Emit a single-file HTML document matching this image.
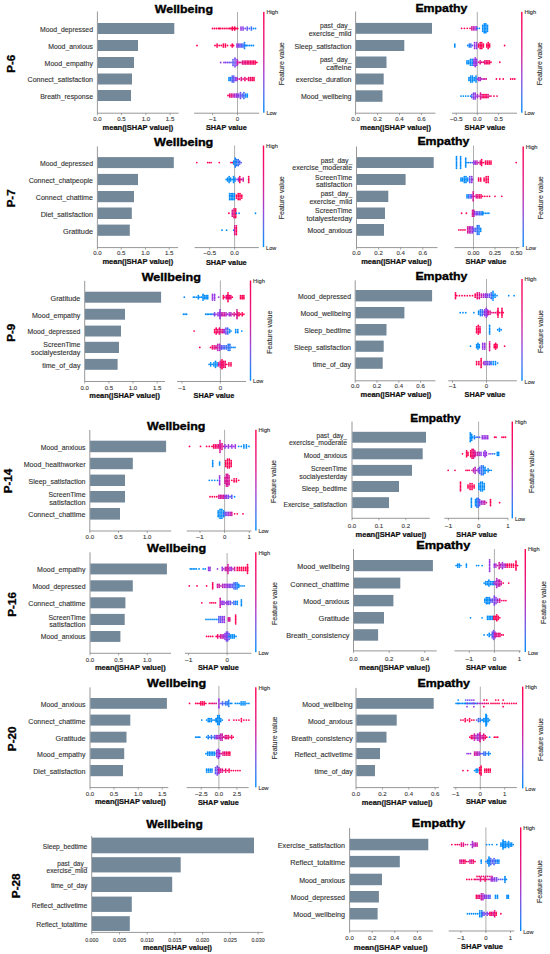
<!DOCTYPE html>
<html><head><meta charset="utf-8"><style>
html,body{margin:0;padding:0;background:#fff;}
svg{display:block;font-family:"Liberation Sans",sans-serif;}
</style></head><body>
<svg width="550" height="954" viewBox="0 0 550 954">
<rect width="550" height="954" fill="#fff"/>
<line x1="97.40" y1="11.50" x2="97.40" y2="113.20" stroke="#6b6b6b" stroke-width="0.7"/>
<line x1="97.40" y1="113.20" x2="178.60" y2="113.20" stroke="#6b6b6b" stroke-width="0.7"/>
<rect x="97.70" y="23.00" width="76.60" height="11.00" fill="#738899"/>
<rect x="97.70" y="40.00" width="40.30" height="11.00" fill="#738899"/>
<rect x="97.70" y="57.00" width="36.30" height="11.00" fill="#738899"/>
<rect x="97.70" y="73.50" width="34.30" height="11.00" fill="#738899"/>
<rect x="97.70" y="90.00" width="33.30" height="11.00" fill="#738899"/>
<text x="40.06" y="31.90" font-size="6.68" stroke="#333333" stroke-width="0.12" fill="#333333" textLength="52.94" lengthAdjust="spacingAndGlyphs">Mood_depressed</text>
<text x="48.24" y="48.90" font-size="6.68" stroke="#333333" stroke-width="0.12" fill="#333333" textLength="44.76" lengthAdjust="spacingAndGlyphs">Mood_anxious</text>
<text x="44.64" y="65.90" font-size="6.68" stroke="#333333" stroke-width="0.12" fill="#333333" textLength="48.36" lengthAdjust="spacingAndGlyphs">Mood_empathy</text>
<text x="27.55" y="82.40" font-size="6.68" stroke="#333333" stroke-width="0.12" fill="#333333" textLength="65.45" lengthAdjust="spacingAndGlyphs">Connect_satisfaction</text>
<text x="40.26" y="98.90" font-size="6.68" stroke="#333333" stroke-width="0.12" fill="#333333" textLength="52.74" lengthAdjust="spacingAndGlyphs">Breath_response</text>
<line x1="97.40" y1="113.20" x2="97.40" y2="115.20" stroke="#6b6b6b" stroke-width="0.6"/>
<text x="93.19" y="120.62" font-size="5.62" stroke="#3a3a3a" stroke-width="0.1" fill="#3a3a3a" textLength="8.43" lengthAdjust="spacingAndGlyphs">0.0</text>
<line x1="121.40" y1="113.20" x2="121.40" y2="115.20" stroke="#6b6b6b" stroke-width="0.6"/>
<text x="117.19" y="120.62" font-size="5.62" stroke="#3a3a3a" stroke-width="0.1" fill="#3a3a3a" textLength="8.43" lengthAdjust="spacingAndGlyphs">0.5</text>
<line x1="145.90" y1="113.20" x2="145.90" y2="115.20" stroke="#6b6b6b" stroke-width="0.6"/>
<text x="141.69" y="120.62" font-size="5.62" stroke="#3a3a3a" stroke-width="0.1" fill="#3a3a3a" textLength="8.43" lengthAdjust="spacingAndGlyphs">1.0</text>
<line x1="170.10" y1="113.20" x2="170.10" y2="115.20" stroke="#6b6b6b" stroke-width="0.6"/>
<text x="165.89" y="120.62" font-size="5.62" stroke="#3a3a3a" stroke-width="0.1" fill="#3a3a3a" textLength="8.43" lengthAdjust="spacingAndGlyphs">1.5</text>
<text x="102.55" y="130.10" font-size="6.68" font-weight="bold" stroke="#111" stroke-width="0.2" fill="#111" textLength="70.71" lengthAdjust="spacingAndGlyphs">mean(|SHAP value|)</text>
<text x="154.80" y="12.53" font-size="10.92" font-weight="bold" stroke="#000" stroke-width="0.35" fill="#000" textLength="58.20" lengthAdjust="spacingAndGlyphs">Wellbeing</text>
<text transform="translate(15.24,63.70) rotate(-90)" x="-8.95" y="0" font-size="10.39" font-weight="bold" stroke="#000" stroke-width="0.3" fill="#000" textLength="17.90" lengthAdjust="spacingAndGlyphs">P-6</text>
<line x1="237.50" y1="11.90" x2="237.50" y2="113.20" stroke="#999999" stroke-width="0.8"/>
<line x1="194.10" y1="113.20" x2="259.20" y2="113.20" stroke="#6b6b6b" stroke-width="0.7"/>
<line x1="212.60" y1="113.20" x2="212.60" y2="115.20" stroke="#6b6b6b" stroke-width="0.6"/>
<text x="208.69" y="120.72" font-size="5.62" stroke="#3a3a3a" stroke-width="0.1" fill="#3a3a3a" textLength="7.81" lengthAdjust="spacingAndGlyphs">−1</text>
<line x1="237.50" y1="113.20" x2="237.50" y2="115.20" stroke="#6b6b6b" stroke-width="0.6"/>
<text x="235.81" y="120.72" font-size="5.62" stroke="#3a3a3a" stroke-width="0.1" fill="#3a3a3a" textLength="3.37" lengthAdjust="spacingAndGlyphs">0</text>
<text x="206.01" y="129.70" font-size="6.68" font-weight="bold" stroke="#111" stroke-width="0.2" fill="#111" textLength="40.77" lengthAdjust="spacingAndGlyphs">SHAP value</text>
<circle cx="212.50" cy="28.50" r="0.88" fill="#ff0052"/>
<circle cx="214.44" cy="28.50" r="0.88" fill="#ff0052"/>
<circle cx="216.38" cy="28.50" r="0.88" fill="#ff0052"/>
<circle cx="218.32" cy="28.50" r="0.88" fill="#ff0052"/>
<circle cx="220.25" cy="28.50" r="0.88" fill="#ff0052"/>
<circle cx="222.19" cy="28.50" r="0.88" fill="#ff0052"/>
<circle cx="224.13" cy="28.50" r="0.88" fill="#ff0052"/>
<circle cx="226.07" cy="28.50" r="0.88" fill="#ff0052"/>
<circle cx="228.01" cy="28.50" r="0.88" fill="#ff0052"/>
<circle cx="229.95" cy="28.50" r="0.88" fill="#ff0052"/>
<circle cx="231.88" cy="28.50" r="0.88" fill="#ff0052"/>
<circle cx="233.82" cy="28.50" r="0.88" fill="#ff0052"/>
<circle cx="235.76" cy="28.50" r="0.88" fill="#ff0052"/>
<circle cx="237.70" cy="28.50" r="0.88" fill="#ff0052"/>
<circle cx="219.30" cy="28.50" r="0.88" fill="#ff0052"/>
<circle cx="230.00" cy="28.50" r="0.88" fill="#ff0052"/>
<circle cx="232.33" cy="27.05" r="0.88" fill="#ff0052"/>
<circle cx="232.33" cy="28.50" r="0.88" fill="#ff0052"/>
<circle cx="232.33" cy="29.95" r="0.88" fill="#ff0052"/>
<circle cx="234.67" cy="27.05" r="0.88" fill="#ff0052"/>
<circle cx="234.67" cy="28.50" r="0.88" fill="#ff0052"/>
<circle cx="234.67" cy="29.95" r="0.88" fill="#ff0052"/>
<circle cx="237.00" cy="28.50" r="0.88" fill="#ff0052"/>
<circle cx="235.00" cy="28.50" r="0.88" fill="#ff0052"/>
<circle cx="241.00" cy="27.05" r="0.88" fill="#9634e2"/>
<circle cx="241.00" cy="28.50" r="0.88" fill="#9634e2"/>
<circle cx="241.00" cy="29.95" r="0.88" fill="#9634e2"/>
<circle cx="243.07" cy="27.05" r="0.88" fill="#853fe7"/>
<circle cx="243.07" cy="28.50" r="0.88" fill="#853fe7"/>
<circle cx="243.07" cy="29.95" r="0.88" fill="#853fe7"/>
<circle cx="245.14" cy="28.50" r="0.88" fill="#744aed"/>
<circle cx="247.21" cy="27.05" r="0.88" fill="#6355f2"/>
<circle cx="247.21" cy="28.50" r="0.88" fill="#6355f2"/>
<circle cx="247.21" cy="29.95" r="0.88" fill="#6355f2"/>
<circle cx="249.29" cy="28.50" r="0.88" fill="#4d61f6"/>
<circle cx="251.36" cy="27.05" r="0.88" fill="#336ff8"/>
<circle cx="251.36" cy="28.50" r="0.88" fill="#336ff8"/>
<circle cx="251.36" cy="29.95" r="0.88" fill="#336ff8"/>
<circle cx="253.43" cy="28.50" r="0.88" fill="#1a7df9"/>
<circle cx="255.50" cy="28.50" r="0.88" fill="#008bfb"/>
<circle cx="197.00" cy="45.50" r="0.88" fill="#ff0052"/>
<circle cx="215.00" cy="45.50" r="0.88" fill="#ff0052"/>
<circle cx="217.08" cy="44.05" r="0.88" fill="#ff0052"/>
<circle cx="217.08" cy="45.50" r="0.88" fill="#ff0052"/>
<circle cx="217.08" cy="46.95" r="0.88" fill="#ff0052"/>
<circle cx="219.17" cy="45.50" r="0.88" fill="#ff0052"/>
<circle cx="221.25" cy="45.50" r="0.88" fill="#ff0052"/>
<circle cx="223.33" cy="44.05" r="0.88" fill="#ff0052"/>
<circle cx="223.33" cy="45.50" r="0.88" fill="#ff0052"/>
<circle cx="223.33" cy="46.95" r="0.88" fill="#ff0052"/>
<circle cx="225.42" cy="44.05" r="0.88" fill="#ff0052"/>
<circle cx="225.42" cy="45.50" r="0.88" fill="#ff0052"/>
<circle cx="225.42" cy="46.95" r="0.88" fill="#ff0052"/>
<circle cx="227.50" cy="45.50" r="0.88" fill="#ff0052"/>
<circle cx="231.00" cy="45.50" r="0.88" fill="#ff0052"/>
<circle cx="232.30" cy="44.05" r="0.88" fill="#ff0052"/>
<circle cx="232.30" cy="45.50" r="0.88" fill="#ff0052"/>
<circle cx="232.30" cy="46.95" r="0.88" fill="#ff0052"/>
<circle cx="233.60" cy="45.50" r="0.88" fill="#ff0052"/>
<circle cx="237.00" cy="44.05" r="0.88" fill="#9634e2"/>
<circle cx="237.00" cy="45.50" r="0.88" fill="#9634e2"/>
<circle cx="237.00" cy="46.95" r="0.88" fill="#9634e2"/>
<circle cx="238.50" cy="44.05" r="0.88" fill="#8241e8"/>
<circle cx="238.50" cy="45.50" r="0.88" fill="#8241e8"/>
<circle cx="238.50" cy="46.95" r="0.88" fill="#8241e8"/>
<circle cx="240.00" cy="44.05" r="0.88" fill="#6e4def"/>
<circle cx="240.00" cy="45.50" r="0.88" fill="#6e4def"/>
<circle cx="240.00" cy="46.95" r="0.88" fill="#6e4def"/>
<circle cx="241.50" cy="44.05" r="0.88" fill="#5a5af5"/>
<circle cx="241.50" cy="45.50" r="0.88" fill="#5a5af5"/>
<circle cx="241.50" cy="46.95" r="0.88" fill="#5a5af5"/>
<circle cx="243.00" cy="44.05" r="0.88" fill="#3c6af7"/>
<circle cx="243.00" cy="45.50" r="0.88" fill="#3c6af7"/>
<circle cx="243.00" cy="46.95" r="0.88" fill="#3c6af7"/>
<circle cx="244.50" cy="42.60" r="0.88" fill="#1e7bf9"/>
<circle cx="244.50" cy="44.05" r="0.88" fill="#1e7bf9"/>
<circle cx="244.50" cy="45.50" r="0.88" fill="#1e7bf9"/>
<circle cx="244.50" cy="46.95" r="0.88" fill="#1e7bf9"/>
<circle cx="244.50" cy="48.40" r="0.88" fill="#1e7bf9"/>
<circle cx="246.00" cy="45.50" r="0.88" fill="#008bfb"/>
<circle cx="246.00" cy="45.50" r="0.88" fill="#008bfb"/>
<circle cx="247.85" cy="45.50" r="0.88" fill="#008bfb"/>
<circle cx="249.70" cy="45.50" r="0.88" fill="#008bfb"/>
<circle cx="251.55" cy="45.50" r="0.88" fill="#008bfb"/>
<circle cx="253.40" cy="45.50" r="0.88" fill="#008bfb"/>
<circle cx="220.70" cy="62.50" r="0.88" fill="#9634e2"/>
<circle cx="224.00" cy="62.50" r="0.88" fill="#9634e2"/>
<circle cx="225.75" cy="62.50" r="0.88" fill="#873ee7"/>
<circle cx="227.50" cy="62.50" r="0.88" fill="#7847ec"/>
<circle cx="229.25" cy="62.50" r="0.88" fill="#6950f0"/>
<circle cx="231.00" cy="62.50" r="0.88" fill="#5a5af5"/>
<circle cx="233.00" cy="59.60" r="0.88" fill="#5a5af5"/>
<circle cx="233.00" cy="61.05" r="0.88" fill="#5a5af5"/>
<circle cx="233.00" cy="62.50" r="0.88" fill="#5a5af5"/>
<circle cx="233.00" cy="63.95" r="0.88" fill="#5a5af5"/>
<circle cx="233.00" cy="65.40" r="0.88" fill="#5a5af5"/>
<circle cx="235.00" cy="58.15" r="0.88" fill="#7847ec"/>
<circle cx="235.00" cy="59.60" r="0.88" fill="#7847ec"/>
<circle cx="235.00" cy="61.05" r="0.88" fill="#7847ec"/>
<circle cx="235.00" cy="62.50" r="0.88" fill="#7847ec"/>
<circle cx="235.00" cy="63.95" r="0.88" fill="#7847ec"/>
<circle cx="235.00" cy="65.40" r="0.88" fill="#7847ec"/>
<circle cx="235.00" cy="66.85" r="0.88" fill="#7847ec"/>
<circle cx="237.00" cy="59.60" r="0.88" fill="#9634e2"/>
<circle cx="237.00" cy="61.05" r="0.88" fill="#9634e2"/>
<circle cx="237.00" cy="62.50" r="0.88" fill="#9634e2"/>
<circle cx="237.00" cy="63.95" r="0.88" fill="#9634e2"/>
<circle cx="237.00" cy="65.40" r="0.88" fill="#9634e2"/>
<circle cx="237.70" cy="61.05" r="0.88" fill="#d61696"/>
<circle cx="237.70" cy="62.50" r="0.88" fill="#d61696"/>
<circle cx="237.70" cy="63.95" r="0.88" fill="#d61696"/>
<circle cx="239.29" cy="62.50" r="0.88" fill="#d91490"/>
<circle cx="240.88" cy="62.50" r="0.88" fill="#dd128b"/>
<circle cx="242.47" cy="61.05" r="0.88" fill="#e01085"/>
<circle cx="242.47" cy="62.50" r="0.88" fill="#e01085"/>
<circle cx="242.47" cy="63.95" r="0.88" fill="#e01085"/>
<circle cx="244.07" cy="61.05" r="0.88" fill="#e40f7f"/>
<circle cx="244.07" cy="62.50" r="0.88" fill="#e40f7f"/>
<circle cx="244.07" cy="63.95" r="0.88" fill="#e40f7f"/>
<circle cx="245.66" cy="61.05" r="0.88" fill="#e70d7a"/>
<circle cx="245.66" cy="62.50" r="0.88" fill="#e70d7a"/>
<circle cx="245.66" cy="63.95" r="0.88" fill="#e70d7a"/>
<circle cx="247.25" cy="61.05" r="0.88" fill="#ea0b74"/>
<circle cx="247.25" cy="62.50" r="0.88" fill="#ea0b74"/>
<circle cx="247.25" cy="63.95" r="0.88" fill="#ea0b74"/>
<circle cx="248.84" cy="61.05" r="0.88" fill="#ee096e"/>
<circle cx="248.84" cy="62.50" r="0.88" fill="#ee096e"/>
<circle cx="248.84" cy="63.95" r="0.88" fill="#ee096e"/>
<circle cx="250.43" cy="61.05" r="0.88" fill="#f10769"/>
<circle cx="250.43" cy="62.50" r="0.88" fill="#f10769"/>
<circle cx="250.43" cy="63.95" r="0.88" fill="#f10769"/>
<circle cx="252.03" cy="61.05" r="0.88" fill="#f50663"/>
<circle cx="252.03" cy="62.50" r="0.88" fill="#f50663"/>
<circle cx="252.03" cy="63.95" r="0.88" fill="#f50663"/>
<circle cx="253.62" cy="61.05" r="0.88" fill="#f8045d"/>
<circle cx="253.62" cy="62.50" r="0.88" fill="#f8045d"/>
<circle cx="253.62" cy="63.95" r="0.88" fill="#f8045d"/>
<circle cx="255.21" cy="61.05" r="0.88" fill="#fc0258"/>
<circle cx="255.21" cy="62.50" r="0.88" fill="#fc0258"/>
<circle cx="255.21" cy="63.95" r="0.88" fill="#fc0258"/>
<circle cx="256.80" cy="62.50" r="0.88" fill="#ff0052"/>
<circle cx="229.00" cy="77.55" r="0.88" fill="#008bfb"/>
<circle cx="229.00" cy="79.00" r="0.88" fill="#008bfb"/>
<circle cx="229.00" cy="80.45" r="0.88" fill="#008bfb"/>
<circle cx="230.60" cy="77.55" r="0.88" fill="#2477f9"/>
<circle cx="230.60" cy="79.00" r="0.88" fill="#2477f9"/>
<circle cx="230.60" cy="80.45" r="0.88" fill="#2477f9"/>
<circle cx="232.20" cy="76.10" r="0.88" fill="#4864f6"/>
<circle cx="232.20" cy="77.55" r="0.88" fill="#4864f6"/>
<circle cx="232.20" cy="79.00" r="0.88" fill="#4864f6"/>
<circle cx="232.20" cy="80.45" r="0.88" fill="#4864f6"/>
<circle cx="232.20" cy="81.90" r="0.88" fill="#4864f6"/>
<circle cx="233.80" cy="76.10" r="0.88" fill="#6652f1"/>
<circle cx="233.80" cy="77.55" r="0.88" fill="#6652f1"/>
<circle cx="233.80" cy="79.00" r="0.88" fill="#6652f1"/>
<circle cx="233.80" cy="80.45" r="0.88" fill="#6652f1"/>
<circle cx="233.80" cy="81.90" r="0.88" fill="#6652f1"/>
<circle cx="235.40" cy="77.55" r="0.88" fill="#7e43ea"/>
<circle cx="235.40" cy="79.00" r="0.88" fill="#7e43ea"/>
<circle cx="235.40" cy="80.45" r="0.88" fill="#7e43ea"/>
<circle cx="237.00" cy="77.55" r="0.88" fill="#9634e2"/>
<circle cx="237.00" cy="79.00" r="0.88" fill="#9634e2"/>
<circle cx="237.00" cy="80.45" r="0.88" fill="#9634e2"/>
<circle cx="237.70" cy="79.00" r="0.88" fill="#d61696"/>
<circle cx="239.51" cy="79.00" r="0.88" fill="#db148e"/>
<circle cx="241.32" cy="77.55" r="0.88" fill="#df1187"/>
<circle cx="241.32" cy="79.00" r="0.88" fill="#df1187"/>
<circle cx="241.32" cy="80.45" r="0.88" fill="#df1187"/>
<circle cx="243.13" cy="79.00" r="0.88" fill="#e40f7f"/>
<circle cx="244.94" cy="77.55" r="0.88" fill="#e80c78"/>
<circle cx="244.94" cy="79.00" r="0.88" fill="#e80c78"/>
<circle cx="244.94" cy="80.45" r="0.88" fill="#e80c78"/>
<circle cx="246.76" cy="79.00" r="0.88" fill="#ed0a70"/>
<circle cx="248.57" cy="77.55" r="0.88" fill="#f10769"/>
<circle cx="248.57" cy="79.00" r="0.88" fill="#f10769"/>
<circle cx="248.57" cy="80.45" r="0.88" fill="#f10769"/>
<circle cx="250.38" cy="77.55" r="0.88" fill="#f60561"/>
<circle cx="250.38" cy="79.00" r="0.88" fill="#f60561"/>
<circle cx="250.38" cy="80.45" r="0.88" fill="#f60561"/>
<circle cx="252.19" cy="77.55" r="0.88" fill="#fa025a"/>
<circle cx="252.19" cy="79.00" r="0.88" fill="#fa025a"/>
<circle cx="252.19" cy="80.45" r="0.88" fill="#fa025a"/>
<circle cx="254.00" cy="77.55" r="0.88" fill="#ff0052"/>
<circle cx="254.00" cy="79.00" r="0.88" fill="#ff0052"/>
<circle cx="254.00" cy="80.45" r="0.88" fill="#ff0052"/>
<circle cx="228.00" cy="95.50" r="0.88" fill="#ff0052"/>
<circle cx="229.68" cy="94.05" r="0.88" fill="#ef096d"/>
<circle cx="229.68" cy="95.50" r="0.88" fill="#ef096d"/>
<circle cx="229.68" cy="96.95" r="0.88" fill="#ef096d"/>
<circle cx="231.36" cy="94.05" r="0.88" fill="#de1288"/>
<circle cx="231.36" cy="95.50" r="0.88" fill="#de1288"/>
<circle cx="231.36" cy="96.95" r="0.88" fill="#de1288"/>
<circle cx="233.04" cy="94.05" r="0.88" fill="#c91ca5"/>
<circle cx="233.04" cy="95.50" r="0.88" fill="#c91ca5"/>
<circle cx="233.04" cy="96.95" r="0.88" fill="#c91ca5"/>
<circle cx="234.72" cy="94.05" r="0.88" fill="#b028c4"/>
<circle cx="234.72" cy="95.50" r="0.88" fill="#b028c4"/>
<circle cx="234.72" cy="96.95" r="0.88" fill="#b028c4"/>
<circle cx="236.40" cy="94.05" r="0.88" fill="#9634e2"/>
<circle cx="236.40" cy="95.50" r="0.88" fill="#9634e2"/>
<circle cx="236.40" cy="96.95" r="0.88" fill="#9634e2"/>
<circle cx="237.00" cy="94.05" r="0.88" fill="#9634e2"/>
<circle cx="237.00" cy="95.50" r="0.88" fill="#9634e2"/>
<circle cx="237.00" cy="96.95" r="0.88" fill="#9634e2"/>
<circle cx="238.72" cy="94.05" r="0.88" fill="#8241e8"/>
<circle cx="238.72" cy="95.50" r="0.88" fill="#8241e8"/>
<circle cx="238.72" cy="96.95" r="0.88" fill="#8241e8"/>
<circle cx="240.43" cy="92.60" r="0.88" fill="#6e4def"/>
<circle cx="240.43" cy="94.05" r="0.88" fill="#6e4def"/>
<circle cx="240.43" cy="95.50" r="0.88" fill="#6e4def"/>
<circle cx="240.43" cy="96.95" r="0.88" fill="#6e4def"/>
<circle cx="240.43" cy="98.40" r="0.88" fill="#6e4def"/>
<circle cx="242.15" cy="94.05" r="0.88" fill="#5a5af5"/>
<circle cx="242.15" cy="95.50" r="0.88" fill="#5a5af5"/>
<circle cx="242.15" cy="96.95" r="0.88" fill="#5a5af5"/>
<circle cx="243.87" cy="92.60" r="0.88" fill="#3c6af7"/>
<circle cx="243.87" cy="94.05" r="0.88" fill="#3c6af7"/>
<circle cx="243.87" cy="95.50" r="0.88" fill="#3c6af7"/>
<circle cx="243.87" cy="96.95" r="0.88" fill="#3c6af7"/>
<circle cx="243.87" cy="98.40" r="0.88" fill="#3c6af7"/>
<circle cx="245.58" cy="94.05" r="0.88" fill="#1e7bf9"/>
<circle cx="245.58" cy="95.50" r="0.88" fill="#1e7bf9"/>
<circle cx="245.58" cy="96.95" r="0.88" fill="#1e7bf9"/>
<circle cx="247.30" cy="94.05" r="0.88" fill="#008bfb"/>
<circle cx="247.30" cy="95.50" r="0.88" fill="#008bfb"/>
<circle cx="247.30" cy="96.95" r="0.88" fill="#008bfb"/>
<defs><linearGradient id="g256" x1="0" y1="0" x2="0" y2="1"><stop offset="0" stop-color="#ff0052"/><stop offset="0.4" stop-color="#e01e8e"/><stop offset="0.65" stop-color="#9a48d8"/><stop offset="0.85" stop-color="#3f7af0"/><stop offset="1" stop-color="#008bfb"/></linearGradient></defs>
<rect x="263.10" y="11.90" width="1.4" height="100.80" fill="url(#g256)"/>
<text x="266.40" y="14.35" font-size="5.41" stroke="#333" stroke-width="0.12" fill="#333" textLength="11.72" lengthAdjust="spacingAndGlyphs">High</text>
<text x="266.40" y="115.45" font-size="5.41" stroke="#333" stroke-width="0.12" fill="#333" textLength="10.04" lengthAdjust="spacingAndGlyphs">Low</text>
<text transform="translate(284.40,63.80) rotate(-90)" x="-21.51" y="0" font-size="6.68" stroke="#333" stroke-width="0.12" fill="#333" textLength="43.02" lengthAdjust="spacingAndGlyphs">Feature value</text>
<line x1="355.60" y1="11.50" x2="355.60" y2="113.20" stroke="#6b6b6b" stroke-width="0.7"/>
<line x1="355.60" y1="113.20" x2="435.40" y2="113.20" stroke="#6b6b6b" stroke-width="0.7"/>
<rect x="355.90" y="22.90" width="76.10" height="10.90" fill="#738899"/>
<rect x="355.90" y="40.00" width="48.40" height="11.00" fill="#738899"/>
<rect x="355.90" y="56.50" width="30.60" height="11.50" fill="#738899"/>
<rect x="355.90" y="73.50" width="27.80" height="11.00" fill="#738899"/>
<rect x="355.90" y="90.30" width="26.60" height="11.50" fill="#738899"/>
<text x="320.00" y="28.40" font-size="6.68" stroke="#333333" stroke-width="0.12" fill="#333333" textLength="31.50" lengthAdjust="spacingAndGlyphs">past_day_</text>
<text x="308.71" y="36.10" font-size="6.68" stroke="#333333" stroke-width="0.12" fill="#333333" textLength="42.79" lengthAdjust="spacingAndGlyphs">exercise_mild</text>
<text x="294.59" y="48.90" font-size="6.68" stroke="#333333" stroke-width="0.12" fill="#333333" textLength="56.91" lengthAdjust="spacingAndGlyphs">Sleep_satisfaction</text>
<text x="320.00" y="62.30" font-size="6.68" stroke="#333333" stroke-width="0.12" fill="#333333" textLength="31.50" lengthAdjust="spacingAndGlyphs">past_day_</text>
<text x="326.34" y="70.00" font-size="6.68" stroke="#333333" stroke-width="0.12" fill="#333333" textLength="25.16" lengthAdjust="spacingAndGlyphs">caffeine</text>
<text x="295.84" y="82.40" font-size="6.68" stroke="#333333" stroke-width="0.12" fill="#333333" textLength="55.66" lengthAdjust="spacingAndGlyphs">exercise_duration</text>
<text x="301.06" y="99.45" font-size="6.68" stroke="#333333" stroke-width="0.12" fill="#333333" textLength="50.44" lengthAdjust="spacingAndGlyphs">Mood_wellbeing</text>
<line x1="355.60" y1="113.20" x2="355.60" y2="115.20" stroke="#6b6b6b" stroke-width="0.6"/>
<text x="351.39" y="120.62" font-size="5.62" stroke="#3a3a3a" stroke-width="0.1" fill="#3a3a3a" textLength="8.43" lengthAdjust="spacingAndGlyphs">0.0</text>
<line x1="377.60" y1="113.20" x2="377.60" y2="115.20" stroke="#6b6b6b" stroke-width="0.6"/>
<text x="373.39" y="120.62" font-size="5.62" stroke="#3a3a3a" stroke-width="0.1" fill="#3a3a3a" textLength="8.43" lengthAdjust="spacingAndGlyphs">0.2</text>
<line x1="399.50" y1="113.20" x2="399.50" y2="115.20" stroke="#6b6b6b" stroke-width="0.6"/>
<text x="395.29" y="120.62" font-size="5.62" stroke="#3a3a3a" stroke-width="0.1" fill="#3a3a3a" textLength="8.43" lengthAdjust="spacingAndGlyphs">0.4</text>
<line x1="421.40" y1="113.20" x2="421.40" y2="115.20" stroke="#6b6b6b" stroke-width="0.6"/>
<text x="417.19" y="120.62" font-size="5.62" stroke="#3a3a3a" stroke-width="0.1" fill="#3a3a3a" textLength="8.43" lengthAdjust="spacingAndGlyphs">0.6</text>
<text x="360.25" y="130.10" font-size="6.68" font-weight="bold" stroke="#111" stroke-width="0.2" fill="#111" textLength="70.71" lengthAdjust="spacingAndGlyphs">mean(|SHAP value|)</text>
<text x="415.40" y="11.73" font-size="10.92" font-weight="bold" stroke="#000" stroke-width="0.35" fill="#000" textLength="52.10" lengthAdjust="spacingAndGlyphs">Empathy</text>
<line x1="477.30" y1="11.90" x2="477.30" y2="113.20" stroke="#999999" stroke-width="0.8"/>
<line x1="452.00" y1="113.20" x2="517.00" y2="113.20" stroke="#6b6b6b" stroke-width="0.7"/>
<line x1="456.20" y1="113.20" x2="456.20" y2="115.20" stroke="#6b6b6b" stroke-width="0.6"/>
<text x="449.77" y="121.32" font-size="5.62" stroke="#3a3a3a" stroke-width="0.1" fill="#3a3a3a" textLength="12.87" lengthAdjust="spacingAndGlyphs">−0.5</text>
<line x1="477.30" y1="113.20" x2="477.30" y2="115.20" stroke="#6b6b6b" stroke-width="0.6"/>
<text x="473.09" y="121.32" font-size="5.62" stroke="#3a3a3a" stroke-width="0.1" fill="#3a3a3a" textLength="8.43" lengthAdjust="spacingAndGlyphs">0.0</text>
<line x1="498.60" y1="113.20" x2="498.60" y2="115.20" stroke="#6b6b6b" stroke-width="0.6"/>
<text x="494.39" y="121.32" font-size="5.62" stroke="#3a3a3a" stroke-width="0.1" fill="#3a3a3a" textLength="8.43" lengthAdjust="spacingAndGlyphs">0.5</text>
<text x="464.61" y="129.70" font-size="6.68" font-weight="bold" stroke="#111" stroke-width="0.2" fill="#111" textLength="40.77" lengthAdjust="spacingAndGlyphs">SHAP value</text>
<circle cx="461.60" cy="28.35" r="0.88" fill="#ff0052"/>
<circle cx="464.40" cy="28.35" r="0.88" fill="#ff0052"/>
<circle cx="467.20" cy="28.35" r="0.88" fill="#ff0052"/>
<circle cx="470.00" cy="28.35" r="0.88" fill="#ff0052"/>
<circle cx="471.80" cy="26.90" r="0.88" fill="#d61696"/>
<circle cx="471.80" cy="28.35" r="0.88" fill="#d61696"/>
<circle cx="471.80" cy="29.80" r="0.88" fill="#d61696"/>
<circle cx="473.40" cy="26.90" r="0.88" fill="#c120af"/>
<circle cx="473.40" cy="28.35" r="0.88" fill="#c120af"/>
<circle cx="473.40" cy="29.80" r="0.88" fill="#c120af"/>
<circle cx="475.00" cy="26.90" r="0.88" fill="#ab2ac9"/>
<circle cx="475.00" cy="28.35" r="0.88" fill="#ab2ac9"/>
<circle cx="475.00" cy="29.80" r="0.88" fill="#ab2ac9"/>
<circle cx="476.60" cy="26.90" r="0.88" fill="#9634e2"/>
<circle cx="476.60" cy="28.35" r="0.88" fill="#9634e2"/>
<circle cx="476.60" cy="29.80" r="0.88" fill="#9634e2"/>
<circle cx="477.30" cy="28.35" r="0.88" fill="#008bfb"/>
<circle cx="479.30" cy="28.35" r="0.88" fill="#008bfb"/>
<circle cx="482.70" cy="25.45" r="0.88" fill="#008bfb"/>
<circle cx="482.70" cy="26.90" r="0.88" fill="#008bfb"/>
<circle cx="482.70" cy="28.35" r="0.88" fill="#008bfb"/>
<circle cx="482.70" cy="29.80" r="0.88" fill="#008bfb"/>
<circle cx="482.70" cy="31.25" r="0.88" fill="#008bfb"/>
<circle cx="484.30" cy="24.00" r="0.88" fill="#008bfb"/>
<circle cx="484.30" cy="25.45" r="0.88" fill="#008bfb"/>
<circle cx="484.30" cy="26.90" r="0.88" fill="#008bfb"/>
<circle cx="484.30" cy="28.35" r="0.88" fill="#008bfb"/>
<circle cx="484.30" cy="29.80" r="0.88" fill="#008bfb"/>
<circle cx="484.30" cy="31.25" r="0.88" fill="#008bfb"/>
<circle cx="484.30" cy="32.70" r="0.88" fill="#008bfb"/>
<circle cx="485.90" cy="24.00" r="0.88" fill="#008bfb"/>
<circle cx="485.90" cy="25.45" r="0.88" fill="#008bfb"/>
<circle cx="485.90" cy="26.90" r="0.88" fill="#008bfb"/>
<circle cx="485.90" cy="28.35" r="0.88" fill="#008bfb"/>
<circle cx="485.90" cy="29.80" r="0.88" fill="#008bfb"/>
<circle cx="485.90" cy="31.25" r="0.88" fill="#008bfb"/>
<circle cx="485.90" cy="32.70" r="0.88" fill="#008bfb"/>
<circle cx="487.50" cy="25.45" r="0.88" fill="#008bfb"/>
<circle cx="487.50" cy="26.90" r="0.88" fill="#008bfb"/>
<circle cx="487.50" cy="28.35" r="0.88" fill="#008bfb"/>
<circle cx="487.50" cy="29.80" r="0.88" fill="#008bfb"/>
<circle cx="487.50" cy="31.25" r="0.88" fill="#008bfb"/>
<circle cx="454.80" cy="44.05" r="0.88" fill="#008bfb"/>
<circle cx="454.80" cy="45.50" r="0.88" fill="#008bfb"/>
<circle cx="454.80" cy="46.95" r="0.88" fill="#008bfb"/>
<circle cx="467.70" cy="45.50" r="0.88" fill="#008bfb"/>
<circle cx="469.30" cy="44.05" r="0.88" fill="#1e7bf9"/>
<circle cx="469.30" cy="45.50" r="0.88" fill="#1e7bf9"/>
<circle cx="469.30" cy="46.95" r="0.88" fill="#1e7bf9"/>
<circle cx="470.90" cy="44.05" r="0.88" fill="#3c6af7"/>
<circle cx="470.90" cy="45.50" r="0.88" fill="#3c6af7"/>
<circle cx="470.90" cy="46.95" r="0.88" fill="#3c6af7"/>
<circle cx="472.50" cy="45.50" r="0.88" fill="#5a5af5"/>
<circle cx="474.60" cy="42.60" r="0.88" fill="#9634e2"/>
<circle cx="474.60" cy="44.05" r="0.88" fill="#9634e2"/>
<circle cx="474.60" cy="45.50" r="0.88" fill="#9634e2"/>
<circle cx="474.60" cy="46.95" r="0.88" fill="#9634e2"/>
<circle cx="474.60" cy="48.40" r="0.88" fill="#9634e2"/>
<circle cx="476.60" cy="42.60" r="0.88" fill="#9634e2"/>
<circle cx="476.60" cy="44.05" r="0.88" fill="#9634e2"/>
<circle cx="476.60" cy="45.50" r="0.88" fill="#9634e2"/>
<circle cx="476.60" cy="46.95" r="0.88" fill="#9634e2"/>
<circle cx="476.60" cy="48.40" r="0.88" fill="#9634e2"/>
<circle cx="478.60" cy="44.05" r="0.88" fill="#ff0052"/>
<circle cx="478.60" cy="45.50" r="0.88" fill="#ff0052"/>
<circle cx="478.60" cy="46.95" r="0.88" fill="#ff0052"/>
<circle cx="480.20" cy="42.60" r="0.88" fill="#ff0052"/>
<circle cx="480.20" cy="44.05" r="0.88" fill="#ff0052"/>
<circle cx="480.20" cy="45.50" r="0.88" fill="#ff0052"/>
<circle cx="480.20" cy="46.95" r="0.88" fill="#ff0052"/>
<circle cx="480.20" cy="48.40" r="0.88" fill="#ff0052"/>
<circle cx="481.80" cy="42.60" r="0.88" fill="#ff0052"/>
<circle cx="481.80" cy="44.05" r="0.88" fill="#ff0052"/>
<circle cx="481.80" cy="45.50" r="0.88" fill="#ff0052"/>
<circle cx="481.80" cy="46.95" r="0.88" fill="#ff0052"/>
<circle cx="481.80" cy="48.40" r="0.88" fill="#ff0052"/>
<circle cx="483.40" cy="44.05" r="0.88" fill="#ff0052"/>
<circle cx="483.40" cy="45.50" r="0.88" fill="#ff0052"/>
<circle cx="483.40" cy="46.95" r="0.88" fill="#ff0052"/>
<circle cx="486.80" cy="44.05" r="0.88" fill="#ff0052"/>
<circle cx="486.80" cy="45.50" r="0.88" fill="#ff0052"/>
<circle cx="486.80" cy="46.95" r="0.88" fill="#ff0052"/>
<circle cx="488.20" cy="42.60" r="0.88" fill="#ff0052"/>
<circle cx="488.20" cy="44.05" r="0.88" fill="#ff0052"/>
<circle cx="488.20" cy="45.50" r="0.88" fill="#ff0052"/>
<circle cx="488.20" cy="46.95" r="0.88" fill="#ff0052"/>
<circle cx="488.20" cy="48.40" r="0.88" fill="#ff0052"/>
<circle cx="489.60" cy="44.05" r="0.88" fill="#ff0052"/>
<circle cx="489.60" cy="45.50" r="0.88" fill="#ff0052"/>
<circle cx="489.60" cy="46.95" r="0.88" fill="#ff0052"/>
<circle cx="504.60" cy="45.50" r="0.88" fill="#ff0052"/>
<circle cx="467.00" cy="60.80" r="0.88" fill="#008bfb"/>
<circle cx="467.00" cy="62.25" r="0.88" fill="#008bfb"/>
<circle cx="467.00" cy="63.70" r="0.88" fill="#008bfb"/>
<circle cx="468.73" cy="60.80" r="0.88" fill="#008bfb"/>
<circle cx="468.73" cy="62.25" r="0.88" fill="#008bfb"/>
<circle cx="468.73" cy="63.70" r="0.88" fill="#008bfb"/>
<circle cx="470.45" cy="59.35" r="0.88" fill="#008bfb"/>
<circle cx="470.45" cy="60.80" r="0.88" fill="#008bfb"/>
<circle cx="470.45" cy="62.25" r="0.88" fill="#008bfb"/>
<circle cx="470.45" cy="63.70" r="0.88" fill="#008bfb"/>
<circle cx="470.45" cy="65.15" r="0.88" fill="#008bfb"/>
<circle cx="472.17" cy="59.35" r="0.88" fill="#008bfb"/>
<circle cx="472.17" cy="60.80" r="0.88" fill="#008bfb"/>
<circle cx="472.17" cy="62.25" r="0.88" fill="#008bfb"/>
<circle cx="472.17" cy="63.70" r="0.88" fill="#008bfb"/>
<circle cx="472.17" cy="65.15" r="0.88" fill="#008bfb"/>
<circle cx="473.90" cy="62.25" r="0.88" fill="#008bfb"/>
<circle cx="473.90" cy="59.35" r="0.88" fill="#9634e2"/>
<circle cx="473.90" cy="60.80" r="0.88" fill="#9634e2"/>
<circle cx="473.90" cy="62.25" r="0.88" fill="#9634e2"/>
<circle cx="473.90" cy="63.70" r="0.88" fill="#9634e2"/>
<circle cx="473.90" cy="65.15" r="0.88" fill="#9634e2"/>
<circle cx="475.25" cy="57.90" r="0.88" fill="#9634e2"/>
<circle cx="475.25" cy="59.35" r="0.88" fill="#9634e2"/>
<circle cx="475.25" cy="60.80" r="0.88" fill="#9634e2"/>
<circle cx="475.25" cy="62.25" r="0.88" fill="#9634e2"/>
<circle cx="475.25" cy="63.70" r="0.88" fill="#9634e2"/>
<circle cx="475.25" cy="65.15" r="0.88" fill="#9634e2"/>
<circle cx="475.25" cy="66.60" r="0.88" fill="#9634e2"/>
<circle cx="476.60" cy="59.35" r="0.88" fill="#9634e2"/>
<circle cx="476.60" cy="60.80" r="0.88" fill="#9634e2"/>
<circle cx="476.60" cy="62.25" r="0.88" fill="#9634e2"/>
<circle cx="476.60" cy="63.70" r="0.88" fill="#9634e2"/>
<circle cx="476.60" cy="65.15" r="0.88" fill="#9634e2"/>
<circle cx="478.60" cy="62.25" r="0.88" fill="#d61696"/>
<circle cx="480.15" cy="60.80" r="0.88" fill="#db138d"/>
<circle cx="480.15" cy="62.25" r="0.88" fill="#db138d"/>
<circle cx="480.15" cy="63.70" r="0.88" fill="#db138d"/>
<circle cx="481.70" cy="62.25" r="0.88" fill="#e01085"/>
<circle cx="483.25" cy="62.25" r="0.88" fill="#e50e7d"/>
<circle cx="484.80" cy="60.80" r="0.88" fill="#ea0b74"/>
<circle cx="484.80" cy="62.25" r="0.88" fill="#ea0b74"/>
<circle cx="484.80" cy="63.70" r="0.88" fill="#ea0b74"/>
<circle cx="486.35" cy="60.80" r="0.88" fill="#f0086b"/>
<circle cx="486.35" cy="62.25" r="0.88" fill="#f0086b"/>
<circle cx="486.35" cy="63.70" r="0.88" fill="#f0086b"/>
<circle cx="487.90" cy="60.80" r="0.88" fill="#f50663"/>
<circle cx="487.90" cy="62.25" r="0.88" fill="#f50663"/>
<circle cx="487.90" cy="63.70" r="0.88" fill="#f50663"/>
<circle cx="489.45" cy="60.80" r="0.88" fill="#fa035b"/>
<circle cx="489.45" cy="62.25" r="0.88" fill="#fa035b"/>
<circle cx="489.45" cy="63.70" r="0.88" fill="#fa035b"/>
<circle cx="491.00" cy="62.25" r="0.88" fill="#ff0052"/>
<circle cx="499.80" cy="62.25" r="0.88" fill="#ff0052"/>
<circle cx="469.00" cy="77.55" r="0.88" fill="#008bfb"/>
<circle cx="469.00" cy="79.00" r="0.88" fill="#008bfb"/>
<circle cx="469.00" cy="80.45" r="0.88" fill="#008bfb"/>
<circle cx="470.75" cy="76.10" r="0.88" fill="#008bfb"/>
<circle cx="470.75" cy="77.55" r="0.88" fill="#008bfb"/>
<circle cx="470.75" cy="79.00" r="0.88" fill="#008bfb"/>
<circle cx="470.75" cy="80.45" r="0.88" fill="#008bfb"/>
<circle cx="470.75" cy="81.90" r="0.88" fill="#008bfb"/>
<circle cx="472.50" cy="76.10" r="0.88" fill="#008bfb"/>
<circle cx="472.50" cy="77.55" r="0.88" fill="#008bfb"/>
<circle cx="472.50" cy="79.00" r="0.88" fill="#008bfb"/>
<circle cx="472.50" cy="80.45" r="0.88" fill="#008bfb"/>
<circle cx="472.50" cy="81.90" r="0.88" fill="#008bfb"/>
<circle cx="474.25" cy="77.55" r="0.88" fill="#008bfb"/>
<circle cx="474.25" cy="79.00" r="0.88" fill="#008bfb"/>
<circle cx="474.25" cy="80.45" r="0.88" fill="#008bfb"/>
<circle cx="476.00" cy="76.10" r="0.88" fill="#008bfb"/>
<circle cx="476.00" cy="77.55" r="0.88" fill="#008bfb"/>
<circle cx="476.00" cy="79.00" r="0.88" fill="#008bfb"/>
<circle cx="476.00" cy="80.45" r="0.88" fill="#008bfb"/>
<circle cx="476.00" cy="81.90" r="0.88" fill="#008bfb"/>
<circle cx="477.30" cy="79.00" r="0.88" fill="#9634e2"/>
<circle cx="478.78" cy="77.55" r="0.88" fill="#a12fd5"/>
<circle cx="478.78" cy="79.00" r="0.88" fill="#a12fd5"/>
<circle cx="478.78" cy="80.45" r="0.88" fill="#a12fd5"/>
<circle cx="480.27" cy="77.55" r="0.88" fill="#ab2ac9"/>
<circle cx="480.27" cy="79.00" r="0.88" fill="#ab2ac9"/>
<circle cx="480.27" cy="80.45" r="0.88" fill="#ab2ac9"/>
<circle cx="481.75" cy="79.00" r="0.88" fill="#b625bc"/>
<circle cx="483.23" cy="79.00" r="0.88" fill="#c120af"/>
<circle cx="484.72" cy="79.00" r="0.88" fill="#cb1ba3"/>
<circle cx="486.20" cy="79.00" r="0.88" fill="#d61696"/>
<circle cx="496.40" cy="79.00" r="0.88" fill="#ff0052"/>
<circle cx="499.80" cy="79.00" r="0.88" fill="#ff0052"/>
<circle cx="503.20" cy="79.00" r="0.88" fill="#ff0052"/>
<circle cx="510.70" cy="79.00" r="0.88" fill="#ff0052"/>
<circle cx="512.75" cy="79.00" r="0.88" fill="#ff0052"/>
<circle cx="514.80" cy="79.00" r="0.88" fill="#ff0052"/>
<circle cx="461.00" cy="96.05" r="0.88" fill="#008bfb"/>
<circle cx="463.38" cy="96.05" r="0.88" fill="#008bfb"/>
<circle cx="465.75" cy="96.05" r="0.88" fill="#008bfb"/>
<circle cx="468.12" cy="96.05" r="0.88" fill="#008bfb"/>
<circle cx="470.50" cy="96.05" r="0.88" fill="#008bfb"/>
<circle cx="471.80" cy="94.60" r="0.88" fill="#5a5af5"/>
<circle cx="471.80" cy="96.05" r="0.88" fill="#5a5af5"/>
<circle cx="471.80" cy="97.50" r="0.88" fill="#5a5af5"/>
<circle cx="473.50" cy="93.15" r="0.88" fill="#7847ec"/>
<circle cx="473.50" cy="94.60" r="0.88" fill="#7847ec"/>
<circle cx="473.50" cy="96.05" r="0.88" fill="#7847ec"/>
<circle cx="473.50" cy="97.50" r="0.88" fill="#7847ec"/>
<circle cx="473.50" cy="98.95" r="0.88" fill="#7847ec"/>
<circle cx="475.20" cy="93.15" r="0.88" fill="#9634e2"/>
<circle cx="475.20" cy="94.60" r="0.88" fill="#9634e2"/>
<circle cx="475.20" cy="96.05" r="0.88" fill="#9634e2"/>
<circle cx="475.20" cy="97.50" r="0.88" fill="#9634e2"/>
<circle cx="475.20" cy="98.95" r="0.88" fill="#9634e2"/>
<circle cx="476.00" cy="96.05" r="0.88" fill="#9634e2"/>
<circle cx="477.51" cy="94.60" r="0.88" fill="#ab2ac9"/>
<circle cx="477.51" cy="96.05" r="0.88" fill="#ab2ac9"/>
<circle cx="477.51" cy="97.50" r="0.88" fill="#ab2ac9"/>
<circle cx="479.02" cy="96.05" r="0.88" fill="#c120af"/>
<circle cx="480.53" cy="93.15" r="0.88" fill="#d61696"/>
<circle cx="480.53" cy="94.60" r="0.88" fill="#d61696"/>
<circle cx="480.53" cy="96.05" r="0.88" fill="#d61696"/>
<circle cx="480.53" cy="97.50" r="0.88" fill="#d61696"/>
<circle cx="480.53" cy="98.95" r="0.88" fill="#d61696"/>
<circle cx="482.04" cy="94.60" r="0.88" fill="#e40f7f"/>
<circle cx="482.04" cy="96.05" r="0.88" fill="#e40f7f"/>
<circle cx="482.04" cy="97.50" r="0.88" fill="#e40f7f"/>
<circle cx="483.56" cy="94.60" r="0.88" fill="#f10769"/>
<circle cx="483.56" cy="96.05" r="0.88" fill="#f10769"/>
<circle cx="483.56" cy="97.50" r="0.88" fill="#f10769"/>
<circle cx="485.07" cy="94.60" r="0.88" fill="#ff0052"/>
<circle cx="485.07" cy="96.05" r="0.88" fill="#ff0052"/>
<circle cx="485.07" cy="97.50" r="0.88" fill="#ff0052"/>
<circle cx="486.58" cy="94.60" r="0.88" fill="#f10769"/>
<circle cx="486.58" cy="96.05" r="0.88" fill="#f10769"/>
<circle cx="486.58" cy="97.50" r="0.88" fill="#f10769"/>
<circle cx="488.09" cy="94.60" r="0.88" fill="#e40f7f"/>
<circle cx="488.09" cy="96.05" r="0.88" fill="#e40f7f"/>
<circle cx="488.09" cy="97.50" r="0.88" fill="#e40f7f"/>
<circle cx="489.60" cy="96.05" r="0.88" fill="#d61696"/>
<circle cx="491.00" cy="96.05" r="0.88" fill="#ff0052"/>
<circle cx="494.00" cy="96.05" r="0.88" fill="#ff0052"/>
<circle cx="497.00" cy="96.05" r="0.88" fill="#ff0052"/>
<defs><linearGradient id="g524" x1="0" y1="0" x2="0" y2="1"><stop offset="0" stop-color="#ff0052"/><stop offset="0.4" stop-color="#e01e8e"/><stop offset="0.65" stop-color="#9a48d8"/><stop offset="0.85" stop-color="#3f7af0"/><stop offset="1" stop-color="#008bfb"/></linearGradient></defs>
<rect x="521.10" y="11.90" width="1.4" height="100.80" fill="url(#g524)"/>
<text x="524.40" y="14.35" font-size="5.41" stroke="#333" stroke-width="0.12" fill="#333" textLength="11.72" lengthAdjust="spacingAndGlyphs">High</text>
<text x="524.40" y="115.45" font-size="5.41" stroke="#333" stroke-width="0.12" fill="#333" textLength="10.04" lengthAdjust="spacingAndGlyphs">Low</text>
<text transform="translate(542.40,63.80) rotate(-90)" x="-21.51" y="0" font-size="6.68" stroke="#333" stroke-width="0.12" fill="#333" textLength="43.02" lengthAdjust="spacingAndGlyphs">Feature value</text>
<line x1="97.40" y1="146.50" x2="97.40" y2="247.60" stroke="#6b6b6b" stroke-width="0.7"/>
<line x1="97.40" y1="247.60" x2="178.10" y2="247.60" stroke="#6b6b6b" stroke-width="0.7"/>
<rect x="97.70" y="157.10" width="76.10" height="11.00" fill="#738899"/>
<rect x="97.70" y="173.90" width="40.30" height="11.20" fill="#738899"/>
<rect x="97.70" y="191.00" width="36.30" height="11.20" fill="#738899"/>
<rect x="97.70" y="207.50" width="34.10" height="11.50" fill="#738899"/>
<rect x="97.70" y="224.60" width="32.10" height="11.20" fill="#738899"/>
<text x="40.06" y="166.00" font-size="6.68" stroke="#333333" stroke-width="0.12" fill="#333333" textLength="52.94" lengthAdjust="spacingAndGlyphs">Mood_depressed</text>
<text x="28.66" y="182.90" font-size="6.68" stroke="#333333" stroke-width="0.12" fill="#333333" textLength="64.34" lengthAdjust="spacingAndGlyphs">Connect_chatpeople</text>
<text x="35.78" y="200.00" font-size="6.68" stroke="#333333" stroke-width="0.12" fill="#333333" textLength="57.22" lengthAdjust="spacingAndGlyphs">Connect_chattime</text>
<text x="40.65" y="216.65" font-size="6.68" stroke="#333333" stroke-width="0.12" fill="#333333" textLength="52.35" lengthAdjust="spacingAndGlyphs">Diet_satisfaction</text>
<text x="63.11" y="233.60" font-size="6.68" stroke="#333333" stroke-width="0.12" fill="#333333" textLength="29.89" lengthAdjust="spacingAndGlyphs">Gratitude</text>
<line x1="97.40" y1="247.60" x2="97.40" y2="249.60" stroke="#6b6b6b" stroke-width="0.6"/>
<text x="93.19" y="255.32" font-size="5.62" stroke="#3a3a3a" stroke-width="0.1" fill="#3a3a3a" textLength="8.43" lengthAdjust="spacingAndGlyphs">0.0</text>
<line x1="121.20" y1="247.60" x2="121.20" y2="249.60" stroke="#6b6b6b" stroke-width="0.6"/>
<text x="116.99" y="255.32" font-size="5.62" stroke="#3a3a3a" stroke-width="0.1" fill="#3a3a3a" textLength="8.43" lengthAdjust="spacingAndGlyphs">0.5</text>
<line x1="145.50" y1="247.60" x2="145.50" y2="249.60" stroke="#6b6b6b" stroke-width="0.6"/>
<text x="141.29" y="255.32" font-size="5.62" stroke="#3a3a3a" stroke-width="0.1" fill="#3a3a3a" textLength="8.43" lengthAdjust="spacingAndGlyphs">1.0</text>
<line x1="169.20" y1="247.60" x2="169.20" y2="249.60" stroke="#6b6b6b" stroke-width="0.6"/>
<text x="164.99" y="255.32" font-size="5.62" stroke="#3a3a3a" stroke-width="0.1" fill="#3a3a3a" textLength="8.43" lengthAdjust="spacingAndGlyphs">1.5</text>
<text x="102.45" y="264.20" font-size="6.68" font-weight="bold" stroke="#111" stroke-width="0.2" fill="#111" textLength="70.71" lengthAdjust="spacingAndGlyphs">mean(|SHAP value|)</text>
<text x="154.10" y="146.33" font-size="10.92" font-weight="bold" stroke="#000" stroke-width="0.35" fill="#000" textLength="59.20" lengthAdjust="spacingAndGlyphs">Wellbeing</text>
<text transform="translate(15.24,198.40) rotate(-90)" x="-8.95" y="0" font-size="10.39" font-weight="bold" stroke="#000" stroke-width="0.3" fill="#000" textLength="17.90" lengthAdjust="spacingAndGlyphs">P-7</text>
<line x1="234.60" y1="145.50" x2="234.60" y2="247.60" stroke="#999999" stroke-width="0.8"/>
<line x1="194.60" y1="247.60" x2="258.80" y2="247.60" stroke="#6b6b6b" stroke-width="0.7"/>
<line x1="209.60" y1="247.60" x2="209.60" y2="249.60" stroke="#6b6b6b" stroke-width="0.6"/>
<text x="203.17" y="255.32" font-size="5.62" stroke="#3a3a3a" stroke-width="0.1" fill="#3a3a3a" textLength="12.87" lengthAdjust="spacingAndGlyphs">−0.5</text>
<line x1="234.60" y1="247.60" x2="234.60" y2="249.60" stroke="#6b6b6b" stroke-width="0.6"/>
<text x="230.39" y="255.32" font-size="5.62" stroke="#3a3a3a" stroke-width="0.1" fill="#3a3a3a" textLength="8.43" lengthAdjust="spacingAndGlyphs">0.0</text>
<text x="205.91" y="264.60" font-size="6.68" font-weight="bold" stroke="#111" stroke-width="0.2" fill="#111" textLength="40.77" lengthAdjust="spacingAndGlyphs">SHAP value</text>
<circle cx="196.80" cy="162.60" r="0.88" fill="#ff0052"/>
<circle cx="207.70" cy="162.60" r="0.88" fill="#ff0052"/>
<circle cx="209.40" cy="162.60" r="0.88" fill="#ff0052"/>
<circle cx="211.10" cy="162.60" r="0.88" fill="#ff0052"/>
<circle cx="219.30" cy="162.60" r="0.88" fill="#ff0052"/>
<circle cx="231.00" cy="162.60" r="0.88" fill="#ff0052"/>
<circle cx="232.35" cy="162.60" r="0.88" fill="#ff0052"/>
<circle cx="233.70" cy="162.60" r="0.88" fill="#ff0052"/>
<circle cx="233.70" cy="161.15" r="0.88" fill="#008bfb"/>
<circle cx="233.70" cy="162.60" r="0.88" fill="#008bfb"/>
<circle cx="233.70" cy="164.05" r="0.88" fill="#008bfb"/>
<circle cx="235.20" cy="158.25" r="0.88" fill="#1281fa"/>
<circle cx="235.20" cy="159.70" r="0.88" fill="#1281fa"/>
<circle cx="235.20" cy="161.15" r="0.88" fill="#1281fa"/>
<circle cx="235.20" cy="162.60" r="0.88" fill="#1281fa"/>
<circle cx="235.20" cy="164.05" r="0.88" fill="#1281fa"/>
<circle cx="235.20" cy="165.50" r="0.88" fill="#1281fa"/>
<circle cx="235.20" cy="166.95" r="0.88" fill="#1281fa"/>
<circle cx="236.70" cy="159.70" r="0.88" fill="#2477f9"/>
<circle cx="236.70" cy="161.15" r="0.88" fill="#2477f9"/>
<circle cx="236.70" cy="162.60" r="0.88" fill="#2477f9"/>
<circle cx="236.70" cy="164.05" r="0.88" fill="#2477f9"/>
<circle cx="236.70" cy="165.50" r="0.88" fill="#2477f9"/>
<circle cx="238.20" cy="159.70" r="0.88" fill="#366ef7"/>
<circle cx="238.20" cy="161.15" r="0.88" fill="#366ef7"/>
<circle cx="238.20" cy="162.60" r="0.88" fill="#366ef7"/>
<circle cx="238.20" cy="164.05" r="0.88" fill="#366ef7"/>
<circle cx="238.20" cy="165.50" r="0.88" fill="#366ef7"/>
<circle cx="239.70" cy="161.15" r="0.88" fill="#4864f6"/>
<circle cx="239.70" cy="162.60" r="0.88" fill="#4864f6"/>
<circle cx="239.70" cy="164.05" r="0.88" fill="#4864f6"/>
<circle cx="241.20" cy="162.60" r="0.88" fill="#5a5af5"/>
<circle cx="226.20" cy="179.50" r="0.88" fill="#008bfb"/>
<circle cx="227.67" cy="178.05" r="0.88" fill="#008bfb"/>
<circle cx="227.67" cy="179.50" r="0.88" fill="#008bfb"/>
<circle cx="227.67" cy="180.95" r="0.88" fill="#008bfb"/>
<circle cx="229.13" cy="176.60" r="0.88" fill="#008bfb"/>
<circle cx="229.13" cy="178.05" r="0.88" fill="#008bfb"/>
<circle cx="229.13" cy="179.50" r="0.88" fill="#008bfb"/>
<circle cx="229.13" cy="180.95" r="0.88" fill="#008bfb"/>
<circle cx="229.13" cy="182.40" r="0.88" fill="#008bfb"/>
<circle cx="230.60" cy="178.05" r="0.88" fill="#008bfb"/>
<circle cx="230.60" cy="179.50" r="0.88" fill="#008bfb"/>
<circle cx="230.60" cy="180.95" r="0.88" fill="#008bfb"/>
<circle cx="232.07" cy="179.50" r="0.88" fill="#008bfb"/>
<circle cx="233.53" cy="176.60" r="0.88" fill="#008bfb"/>
<circle cx="233.53" cy="178.05" r="0.88" fill="#008bfb"/>
<circle cx="233.53" cy="179.50" r="0.88" fill="#008bfb"/>
<circle cx="233.53" cy="180.95" r="0.88" fill="#008bfb"/>
<circle cx="233.53" cy="182.40" r="0.88" fill="#008bfb"/>
<circle cx="235.00" cy="178.05" r="0.88" fill="#008bfb"/>
<circle cx="235.00" cy="179.50" r="0.88" fill="#008bfb"/>
<circle cx="235.00" cy="180.95" r="0.88" fill="#008bfb"/>
<circle cx="237.00" cy="179.50" r="0.88" fill="#9634e2"/>
<circle cx="238.55" cy="178.05" r="0.88" fill="#a62ccf"/>
<circle cx="238.55" cy="179.50" r="0.88" fill="#a62ccf"/>
<circle cx="238.55" cy="180.95" r="0.88" fill="#a62ccf"/>
<circle cx="240.10" cy="179.50" r="0.88" fill="#b625bc"/>
<circle cx="241.65" cy="179.50" r="0.88" fill="#c61ea9"/>
<circle cx="243.20" cy="178.05" r="0.88" fill="#d61696"/>
<circle cx="243.20" cy="179.50" r="0.88" fill="#d61696"/>
<circle cx="243.20" cy="180.95" r="0.88" fill="#d61696"/>
<circle cx="239.80" cy="176.60" r="0.88" fill="#ff0052"/>
<circle cx="239.80" cy="178.05" r="0.88" fill="#ff0052"/>
<circle cx="239.80" cy="179.50" r="0.88" fill="#ff0052"/>
<circle cx="239.80" cy="180.95" r="0.88" fill="#ff0052"/>
<circle cx="239.80" cy="182.40" r="0.88" fill="#ff0052"/>
<circle cx="248.70" cy="176.60" r="0.88" fill="#ff0052"/>
<circle cx="248.70" cy="178.05" r="0.88" fill="#ff0052"/>
<circle cx="248.70" cy="179.50" r="0.88" fill="#ff0052"/>
<circle cx="248.70" cy="180.95" r="0.88" fill="#ff0052"/>
<circle cx="248.70" cy="182.40" r="0.88" fill="#ff0052"/>
<circle cx="229.60" cy="193.70" r="0.88" fill="#008bfb"/>
<circle cx="229.60" cy="195.15" r="0.88" fill="#008bfb"/>
<circle cx="229.60" cy="196.60" r="0.88" fill="#008bfb"/>
<circle cx="229.60" cy="198.05" r="0.88" fill="#008bfb"/>
<circle cx="229.60" cy="199.50" r="0.88" fill="#008bfb"/>
<circle cx="231.17" cy="193.70" r="0.88" fill="#008bfb"/>
<circle cx="231.17" cy="195.15" r="0.88" fill="#008bfb"/>
<circle cx="231.17" cy="196.60" r="0.88" fill="#008bfb"/>
<circle cx="231.17" cy="198.05" r="0.88" fill="#008bfb"/>
<circle cx="231.17" cy="199.50" r="0.88" fill="#008bfb"/>
<circle cx="232.73" cy="193.70" r="0.88" fill="#008bfb"/>
<circle cx="232.73" cy="195.15" r="0.88" fill="#008bfb"/>
<circle cx="232.73" cy="196.60" r="0.88" fill="#008bfb"/>
<circle cx="232.73" cy="198.05" r="0.88" fill="#008bfb"/>
<circle cx="232.73" cy="199.50" r="0.88" fill="#008bfb"/>
<circle cx="234.30" cy="193.70" r="0.88" fill="#008bfb"/>
<circle cx="234.30" cy="195.15" r="0.88" fill="#008bfb"/>
<circle cx="234.30" cy="196.60" r="0.88" fill="#008bfb"/>
<circle cx="234.30" cy="198.05" r="0.88" fill="#008bfb"/>
<circle cx="234.30" cy="199.50" r="0.88" fill="#008bfb"/>
<circle cx="236.40" cy="195.15" r="0.88" fill="#ff0052"/>
<circle cx="236.40" cy="196.60" r="0.88" fill="#ff0052"/>
<circle cx="236.40" cy="198.05" r="0.88" fill="#ff0052"/>
<circle cx="238.20" cy="193.70" r="0.88" fill="#ff0052"/>
<circle cx="238.20" cy="195.15" r="0.88" fill="#ff0052"/>
<circle cx="238.20" cy="196.60" r="0.88" fill="#ff0052"/>
<circle cx="238.20" cy="198.05" r="0.88" fill="#ff0052"/>
<circle cx="238.20" cy="199.50" r="0.88" fill="#ff0052"/>
<circle cx="240.00" cy="193.70" r="0.88" fill="#ff0052"/>
<circle cx="240.00" cy="195.15" r="0.88" fill="#ff0052"/>
<circle cx="240.00" cy="196.60" r="0.88" fill="#ff0052"/>
<circle cx="240.00" cy="198.05" r="0.88" fill="#ff0052"/>
<circle cx="240.00" cy="199.50" r="0.88" fill="#ff0052"/>
<circle cx="241.80" cy="195.15" r="0.88" fill="#ff0052"/>
<circle cx="241.80" cy="196.60" r="0.88" fill="#ff0052"/>
<circle cx="241.80" cy="198.05" r="0.88" fill="#ff0052"/>
<circle cx="228.90" cy="213.25" r="0.88" fill="#ff0052"/>
<circle cx="232.30" cy="210.35" r="0.88" fill="#d61696"/>
<circle cx="232.30" cy="211.80" r="0.88" fill="#d61696"/>
<circle cx="232.30" cy="213.25" r="0.88" fill="#d61696"/>
<circle cx="232.30" cy="214.70" r="0.88" fill="#d61696"/>
<circle cx="232.30" cy="216.15" r="0.88" fill="#d61696"/>
<circle cx="234.00" cy="208.90" r="0.88" fill="#ea0b74"/>
<circle cx="234.00" cy="210.35" r="0.88" fill="#ea0b74"/>
<circle cx="234.00" cy="211.80" r="0.88" fill="#ea0b74"/>
<circle cx="234.00" cy="213.25" r="0.88" fill="#ea0b74"/>
<circle cx="234.00" cy="214.70" r="0.88" fill="#ea0b74"/>
<circle cx="234.00" cy="216.15" r="0.88" fill="#ea0b74"/>
<circle cx="234.00" cy="217.60" r="0.88" fill="#ea0b74"/>
<circle cx="235.70" cy="208.90" r="0.88" fill="#ff0052"/>
<circle cx="235.70" cy="210.35" r="0.88" fill="#ff0052"/>
<circle cx="235.70" cy="211.80" r="0.88" fill="#ff0052"/>
<circle cx="235.70" cy="213.25" r="0.88" fill="#ff0052"/>
<circle cx="235.70" cy="214.70" r="0.88" fill="#ff0052"/>
<circle cx="235.70" cy="216.15" r="0.88" fill="#ff0052"/>
<circle cx="235.70" cy="217.60" r="0.88" fill="#ff0052"/>
<circle cx="236.40" cy="213.25" r="0.88" fill="#008bfb"/>
<circle cx="239.10" cy="213.25" r="0.88" fill="#008bfb"/>
<circle cx="255.50" cy="213.25" r="0.88" fill="#008bfb"/>
<circle cx="222.00" cy="230.20" r="0.88" fill="#008bfb"/>
<circle cx="226.60" cy="230.20" r="0.88" fill="#008bfb"/>
<circle cx="233.70" cy="230.20" r="0.88" fill="#008bfb"/>
<circle cx="234.70" cy="225.85" r="0.88" fill="#d61696"/>
<circle cx="234.70" cy="227.30" r="0.88" fill="#d61696"/>
<circle cx="234.70" cy="228.75" r="0.88" fill="#d61696"/>
<circle cx="234.70" cy="230.20" r="0.88" fill="#d61696"/>
<circle cx="234.70" cy="231.65" r="0.88" fill="#d61696"/>
<circle cx="234.70" cy="233.10" r="0.88" fill="#d61696"/>
<circle cx="234.70" cy="234.55" r="0.88" fill="#d61696"/>
<circle cx="236.40" cy="225.85" r="0.88" fill="#ff0052"/>
<circle cx="236.40" cy="227.30" r="0.88" fill="#ff0052"/>
<circle cx="236.40" cy="228.75" r="0.88" fill="#ff0052"/>
<circle cx="236.40" cy="230.20" r="0.88" fill="#ff0052"/>
<circle cx="236.40" cy="231.65" r="0.88" fill="#ff0052"/>
<circle cx="236.40" cy="233.10" r="0.88" fill="#ff0052"/>
<circle cx="236.40" cy="234.55" r="0.88" fill="#ff0052"/>
<defs><linearGradient id="g707" x1="0" y1="0" x2="0" y2="1"><stop offset="0" stop-color="#ff0052"/><stop offset="0.4" stop-color="#e01e8e"/><stop offset="0.65" stop-color="#9a48d8"/><stop offset="0.85" stop-color="#3f7af0"/><stop offset="1" stop-color="#008bfb"/></linearGradient></defs>
<rect x="262.80" y="145.50" width="1.4" height="101.50" fill="url(#g707)"/>
<text x="266.10" y="147.95" font-size="5.41" stroke="#333" stroke-width="0.12" fill="#333" textLength="11.72" lengthAdjust="spacingAndGlyphs">High</text>
<text x="266.10" y="249.75" font-size="5.41" stroke="#333" stroke-width="0.12" fill="#333" textLength="10.04" lengthAdjust="spacingAndGlyphs">Low</text>
<text transform="translate(284.40,197.80) rotate(-90)" x="-21.51" y="0" font-size="6.68" stroke="#333" stroke-width="0.12" fill="#333" textLength="43.02" lengthAdjust="spacingAndGlyphs">Feature value</text>
<line x1="356.50" y1="146.50" x2="356.50" y2="247.60" stroke="#6b6b6b" stroke-width="0.7"/>
<line x1="356.50" y1="247.60" x2="437.50" y2="247.60" stroke="#6b6b6b" stroke-width="0.7"/>
<rect x="356.80" y="157.10" width="76.90" height="10.90" fill="#738899"/>
<rect x="356.80" y="174.00" width="48.80" height="11.00" fill="#738899"/>
<rect x="356.80" y="190.70" width="31.50" height="11.30" fill="#738899"/>
<rect x="356.80" y="207.50" width="28.20" height="11.50" fill="#738899"/>
<rect x="356.80" y="224.00" width="27.20" height="11.80" fill="#738899"/>
<text x="320.70" y="162.60" font-size="6.68" stroke="#333333" stroke-width="0.12" fill="#333333" textLength="31.50" lengthAdjust="spacingAndGlyphs">past_day_</text>
<text x="292.38" y="170.30" font-size="6.68" stroke="#333333" stroke-width="0.12" fill="#333333" textLength="59.82" lengthAdjust="spacingAndGlyphs">exercise_moderate</text>
<text x="315.12" y="179.55" font-size="6.68" stroke="#333333" stroke-width="0.12" fill="#333333" textLength="37.08" lengthAdjust="spacingAndGlyphs">ScreenTime</text>
<text x="315.95" y="187.25" font-size="6.68" stroke="#333333" stroke-width="0.12" fill="#333333" textLength="36.25" lengthAdjust="spacingAndGlyphs">satisfaction</text>
<text x="320.70" y="196.40" font-size="6.68" stroke="#333333" stroke-width="0.12" fill="#333333" textLength="31.50" lengthAdjust="spacingAndGlyphs">past_day_</text>
<text x="309.41" y="204.10" font-size="6.68" stroke="#333333" stroke-width="0.12" fill="#333333" textLength="42.79" lengthAdjust="spacingAndGlyphs">exercise_mild</text>
<text x="315.12" y="213.30" font-size="6.68" stroke="#333333" stroke-width="0.12" fill="#333333" textLength="37.08" lengthAdjust="spacingAndGlyphs">ScreenTime</text>
<text x="306.49" y="221.00" font-size="6.68" stroke="#333333" stroke-width="0.12" fill="#333333" textLength="45.71" lengthAdjust="spacingAndGlyphs">totalyesterday</text>
<text x="307.44" y="233.30" font-size="6.68" stroke="#333333" stroke-width="0.12" fill="#333333" textLength="44.76" lengthAdjust="spacingAndGlyphs">Mood_anxious</text>
<line x1="356.50" y1="247.60" x2="356.50" y2="249.60" stroke="#6b6b6b" stroke-width="0.6"/>
<text x="352.29" y="255.32" font-size="5.62" stroke="#3a3a3a" stroke-width="0.1" fill="#3a3a3a" textLength="8.43" lengthAdjust="spacingAndGlyphs">0.0</text>
<line x1="378.60" y1="247.60" x2="378.60" y2="249.60" stroke="#6b6b6b" stroke-width="0.6"/>
<text x="374.39" y="255.32" font-size="5.62" stroke="#3a3a3a" stroke-width="0.1" fill="#3a3a3a" textLength="8.43" lengthAdjust="spacingAndGlyphs">0.2</text>
<line x1="400.70" y1="247.60" x2="400.70" y2="249.60" stroke="#6b6b6b" stroke-width="0.6"/>
<text x="396.49" y="255.32" font-size="5.62" stroke="#3a3a3a" stroke-width="0.1" fill="#3a3a3a" textLength="8.43" lengthAdjust="spacingAndGlyphs">0.4</text>
<line x1="422.80" y1="247.60" x2="422.80" y2="249.60" stroke="#6b6b6b" stroke-width="0.6"/>
<text x="418.59" y="255.32" font-size="5.62" stroke="#3a3a3a" stroke-width="0.1" fill="#3a3a3a" textLength="8.43" lengthAdjust="spacingAndGlyphs">0.6</text>
<text x="361.15" y="264.20" font-size="6.68" font-weight="bold" stroke="#111" stroke-width="0.2" fill="#111" textLength="70.71" lengthAdjust="spacingAndGlyphs">mean(|SHAP value|)</text>
<text x="417.40" y="145.33" font-size="10.92" font-weight="bold" stroke="#000" stroke-width="0.35" fill="#000" textLength="52.10" lengthAdjust="spacingAndGlyphs">Empathy</text>
<line x1="473.50" y1="145.50" x2="473.50" y2="247.60" stroke="#999999" stroke-width="0.8"/>
<line x1="454.50" y1="247.60" x2="519.40" y2="247.60" stroke="#6b6b6b" stroke-width="0.7"/>
<line x1="473.50" y1="247.60" x2="473.50" y2="249.60" stroke="#6b6b6b" stroke-width="0.6"/>
<text x="467.60" y="255.32" font-size="5.62" stroke="#3a3a3a" stroke-width="0.1" fill="#3a3a3a" textLength="11.80" lengthAdjust="spacingAndGlyphs">0.00</text>
<line x1="495.00" y1="247.60" x2="495.00" y2="249.60" stroke="#6b6b6b" stroke-width="0.6"/>
<text x="489.10" y="255.32" font-size="5.62" stroke="#3a3a3a" stroke-width="0.1" fill="#3a3a3a" textLength="11.80" lengthAdjust="spacingAndGlyphs">0.25</text>
<line x1="516.50" y1="247.60" x2="516.50" y2="249.60" stroke="#6b6b6b" stroke-width="0.6"/>
<text x="510.60" y="255.32" font-size="5.62" stroke="#3a3a3a" stroke-width="0.1" fill="#3a3a3a" textLength="11.80" lengthAdjust="spacingAndGlyphs">0.50</text>
<text x="465.61" y="264.20" font-size="6.68" font-weight="bold" stroke="#111" stroke-width="0.2" fill="#111" textLength="40.77" lengthAdjust="spacingAndGlyphs">SHAP value</text>
<circle cx="456.50" cy="156.75" r="0.88" fill="#008bfb"/>
<circle cx="456.50" cy="158.20" r="0.88" fill="#008bfb"/>
<circle cx="456.50" cy="159.65" r="0.88" fill="#008bfb"/>
<circle cx="456.50" cy="161.10" r="0.88" fill="#008bfb"/>
<circle cx="456.50" cy="162.55" r="0.88" fill="#008bfb"/>
<circle cx="456.50" cy="164.00" r="0.88" fill="#008bfb"/>
<circle cx="456.50" cy="165.45" r="0.88" fill="#008bfb"/>
<circle cx="456.50" cy="166.90" r="0.88" fill="#008bfb"/>
<circle cx="456.50" cy="168.35" r="0.88" fill="#008bfb"/>
<circle cx="460.60" cy="156.75" r="0.88" fill="#008bfb"/>
<circle cx="460.60" cy="158.20" r="0.88" fill="#008bfb"/>
<circle cx="460.60" cy="159.65" r="0.88" fill="#008bfb"/>
<circle cx="460.60" cy="161.10" r="0.88" fill="#008bfb"/>
<circle cx="460.60" cy="162.55" r="0.88" fill="#008bfb"/>
<circle cx="460.60" cy="164.00" r="0.88" fill="#008bfb"/>
<circle cx="460.60" cy="165.45" r="0.88" fill="#008bfb"/>
<circle cx="460.60" cy="166.90" r="0.88" fill="#008bfb"/>
<circle cx="460.60" cy="168.35" r="0.88" fill="#008bfb"/>
<circle cx="465.70" cy="158.20" r="0.88" fill="#008bfb"/>
<circle cx="465.70" cy="159.65" r="0.88" fill="#008bfb"/>
<circle cx="465.70" cy="161.10" r="0.88" fill="#008bfb"/>
<circle cx="465.70" cy="162.55" r="0.88" fill="#008bfb"/>
<circle cx="465.70" cy="164.00" r="0.88" fill="#008bfb"/>
<circle cx="465.70" cy="165.45" r="0.88" fill="#008bfb"/>
<circle cx="465.70" cy="166.90" r="0.88" fill="#008bfb"/>
<circle cx="467.00" cy="162.55" r="0.88" fill="#008bfb"/>
<circle cx="468.73" cy="162.55" r="0.88" fill="#177ff9"/>
<circle cx="470.45" cy="162.55" r="0.88" fill="#2d72f8"/>
<circle cx="472.17" cy="162.55" r="0.88" fill="#4366f7"/>
<circle cx="473.90" cy="162.55" r="0.88" fill="#5a5af5"/>
<circle cx="473.90" cy="161.10" r="0.88" fill="#9634e2"/>
<circle cx="473.90" cy="162.55" r="0.88" fill="#9634e2"/>
<circle cx="473.90" cy="164.00" r="0.88" fill="#9634e2"/>
<circle cx="475.48" cy="161.10" r="0.88" fill="#ab2ac9"/>
<circle cx="475.48" cy="162.55" r="0.88" fill="#ab2ac9"/>
<circle cx="475.48" cy="164.00" r="0.88" fill="#ab2ac9"/>
<circle cx="477.07" cy="161.10" r="0.88" fill="#c120af"/>
<circle cx="477.07" cy="162.55" r="0.88" fill="#c120af"/>
<circle cx="477.07" cy="164.00" r="0.88" fill="#c120af"/>
<circle cx="478.65" cy="162.55" r="0.88" fill="#d61696"/>
<circle cx="480.23" cy="161.10" r="0.88" fill="#e40f7f"/>
<circle cx="480.23" cy="162.55" r="0.88" fill="#e40f7f"/>
<circle cx="480.23" cy="164.00" r="0.88" fill="#e40f7f"/>
<circle cx="481.82" cy="162.55" r="0.88" fill="#f10769"/>
<circle cx="483.40" cy="162.55" r="0.88" fill="#ff0052"/>
<circle cx="481.60" cy="159.65" r="0.88" fill="#ff0052"/>
<circle cx="481.60" cy="161.10" r="0.88" fill="#ff0052"/>
<circle cx="481.60" cy="162.55" r="0.88" fill="#ff0052"/>
<circle cx="481.60" cy="164.00" r="0.88" fill="#ff0052"/>
<circle cx="481.60" cy="165.45" r="0.88" fill="#ff0052"/>
<circle cx="485.50" cy="161.10" r="0.88" fill="#ff0052"/>
<circle cx="485.50" cy="162.55" r="0.88" fill="#ff0052"/>
<circle cx="485.50" cy="164.00" r="0.88" fill="#ff0052"/>
<circle cx="487.33" cy="161.10" r="0.88" fill="#ff0052"/>
<circle cx="487.33" cy="162.55" r="0.88" fill="#ff0052"/>
<circle cx="487.33" cy="164.00" r="0.88" fill="#ff0052"/>
<circle cx="489.17" cy="161.10" r="0.88" fill="#ff0052"/>
<circle cx="489.17" cy="162.55" r="0.88" fill="#ff0052"/>
<circle cx="489.17" cy="164.00" r="0.88" fill="#ff0052"/>
<circle cx="491.00" cy="161.10" r="0.88" fill="#ff0052"/>
<circle cx="491.00" cy="162.55" r="0.88" fill="#ff0052"/>
<circle cx="491.00" cy="164.00" r="0.88" fill="#ff0052"/>
<circle cx="516.20" cy="162.55" r="0.88" fill="#ff0052"/>
<circle cx="461.00" cy="178.05" r="0.88" fill="#008bfb"/>
<circle cx="461.00" cy="179.50" r="0.88" fill="#008bfb"/>
<circle cx="461.00" cy="180.95" r="0.88" fill="#008bfb"/>
<circle cx="462.68" cy="178.05" r="0.88" fill="#008bfb"/>
<circle cx="462.68" cy="179.50" r="0.88" fill="#008bfb"/>
<circle cx="462.68" cy="180.95" r="0.88" fill="#008bfb"/>
<circle cx="464.35" cy="176.60" r="0.88" fill="#008bfb"/>
<circle cx="464.35" cy="178.05" r="0.88" fill="#008bfb"/>
<circle cx="464.35" cy="179.50" r="0.88" fill="#008bfb"/>
<circle cx="464.35" cy="180.95" r="0.88" fill="#008bfb"/>
<circle cx="464.35" cy="182.40" r="0.88" fill="#008bfb"/>
<circle cx="466.02" cy="176.60" r="0.88" fill="#008bfb"/>
<circle cx="466.02" cy="178.05" r="0.88" fill="#008bfb"/>
<circle cx="466.02" cy="179.50" r="0.88" fill="#008bfb"/>
<circle cx="466.02" cy="180.95" r="0.88" fill="#008bfb"/>
<circle cx="466.02" cy="182.40" r="0.88" fill="#008bfb"/>
<circle cx="467.70" cy="178.05" r="0.88" fill="#008bfb"/>
<circle cx="467.70" cy="179.50" r="0.88" fill="#008bfb"/>
<circle cx="467.70" cy="180.95" r="0.88" fill="#008bfb"/>
<circle cx="469.80" cy="176.60" r="0.88" fill="#5a5af5"/>
<circle cx="469.80" cy="178.05" r="0.88" fill="#5a5af5"/>
<circle cx="469.80" cy="179.50" r="0.88" fill="#5a5af5"/>
<circle cx="469.80" cy="180.95" r="0.88" fill="#5a5af5"/>
<circle cx="469.80" cy="182.40" r="0.88" fill="#5a5af5"/>
<circle cx="471.80" cy="176.60" r="0.88" fill="#9634e2"/>
<circle cx="471.80" cy="178.05" r="0.88" fill="#9634e2"/>
<circle cx="471.80" cy="179.50" r="0.88" fill="#9634e2"/>
<circle cx="471.80" cy="180.95" r="0.88" fill="#9634e2"/>
<circle cx="471.80" cy="182.40" r="0.88" fill="#9634e2"/>
<circle cx="472.50" cy="179.50" r="0.88" fill="#9634e2"/>
<circle cx="478.60" cy="178.05" r="0.88" fill="#ff0052"/>
<circle cx="478.60" cy="179.50" r="0.88" fill="#ff0052"/>
<circle cx="478.60" cy="180.95" r="0.88" fill="#ff0052"/>
<circle cx="480.70" cy="178.05" r="0.88" fill="#ff0052"/>
<circle cx="480.70" cy="179.50" r="0.88" fill="#ff0052"/>
<circle cx="480.70" cy="180.95" r="0.88" fill="#ff0052"/>
<circle cx="484.10" cy="178.05" r="0.88" fill="#ff0052"/>
<circle cx="484.10" cy="179.50" r="0.88" fill="#ff0052"/>
<circle cx="484.10" cy="180.95" r="0.88" fill="#ff0052"/>
<circle cx="486.15" cy="176.60" r="0.88" fill="#ff0052"/>
<circle cx="486.15" cy="178.05" r="0.88" fill="#ff0052"/>
<circle cx="486.15" cy="179.50" r="0.88" fill="#ff0052"/>
<circle cx="486.15" cy="180.95" r="0.88" fill="#ff0052"/>
<circle cx="486.15" cy="182.40" r="0.88" fill="#ff0052"/>
<circle cx="488.20" cy="176.60" r="0.88" fill="#ff0052"/>
<circle cx="488.20" cy="178.05" r="0.88" fill="#ff0052"/>
<circle cx="488.20" cy="179.50" r="0.88" fill="#ff0052"/>
<circle cx="488.20" cy="180.95" r="0.88" fill="#ff0052"/>
<circle cx="488.20" cy="182.40" r="0.88" fill="#ff0052"/>
<circle cx="467.00" cy="194.90" r="0.88" fill="#008bfb"/>
<circle cx="467.00" cy="196.35" r="0.88" fill="#008bfb"/>
<circle cx="467.00" cy="197.80" r="0.88" fill="#008bfb"/>
<circle cx="468.55" cy="194.90" r="0.88" fill="#2d72f8"/>
<circle cx="468.55" cy="196.35" r="0.88" fill="#2d72f8"/>
<circle cx="468.55" cy="197.80" r="0.88" fill="#2d72f8"/>
<circle cx="470.10" cy="194.90" r="0.88" fill="#5a5af5"/>
<circle cx="470.10" cy="196.35" r="0.88" fill="#5a5af5"/>
<circle cx="470.10" cy="197.80" r="0.88" fill="#5a5af5"/>
<circle cx="471.65" cy="194.90" r="0.88" fill="#7847ec"/>
<circle cx="471.65" cy="196.35" r="0.88" fill="#7847ec"/>
<circle cx="471.65" cy="197.80" r="0.88" fill="#7847ec"/>
<circle cx="473.20" cy="196.35" r="0.88" fill="#9634e2"/>
<circle cx="473.20" cy="192.00" r="0.88" fill="#d61696"/>
<circle cx="473.20" cy="193.45" r="0.88" fill="#d61696"/>
<circle cx="473.20" cy="194.90" r="0.88" fill="#d61696"/>
<circle cx="473.20" cy="196.35" r="0.88" fill="#d61696"/>
<circle cx="473.20" cy="197.80" r="0.88" fill="#d61696"/>
<circle cx="473.20" cy="199.25" r="0.88" fill="#d61696"/>
<circle cx="473.20" cy="200.70" r="0.88" fill="#d61696"/>
<circle cx="474.60" cy="196.35" r="0.88" fill="#d61696"/>
<circle cx="476.22" cy="194.90" r="0.88" fill="#de1288"/>
<circle cx="476.22" cy="196.35" r="0.88" fill="#de1288"/>
<circle cx="476.22" cy="197.80" r="0.88" fill="#de1288"/>
<circle cx="477.84" cy="194.90" r="0.88" fill="#e60d7b"/>
<circle cx="477.84" cy="196.35" r="0.88" fill="#e60d7b"/>
<circle cx="477.84" cy="197.80" r="0.88" fill="#e60d7b"/>
<circle cx="479.46" cy="194.90" r="0.88" fill="#ef096d"/>
<circle cx="479.46" cy="196.35" r="0.88" fill="#ef096d"/>
<circle cx="479.46" cy="197.80" r="0.88" fill="#ef096d"/>
<circle cx="481.08" cy="194.90" r="0.88" fill="#f70460"/>
<circle cx="481.08" cy="196.35" r="0.88" fill="#f70460"/>
<circle cx="481.08" cy="197.80" r="0.88" fill="#f70460"/>
<circle cx="482.70" cy="196.35" r="0.88" fill="#ff0052"/>
<circle cx="484.80" cy="196.35" r="0.88" fill="#ff0052"/>
<circle cx="487.20" cy="196.35" r="0.88" fill="#ff0052"/>
<circle cx="489.60" cy="196.35" r="0.88" fill="#ff0052"/>
<circle cx="495.00" cy="196.35" r="0.88" fill="#ff0052"/>
<circle cx="501.80" cy="196.35" r="0.88" fill="#ff0052"/>
<circle cx="461.60" cy="213.25" r="0.88" fill="#ff0052"/>
<circle cx="466.40" cy="213.25" r="0.88" fill="#ff0052"/>
<circle cx="472.50" cy="210.35" r="0.88" fill="#d61696"/>
<circle cx="472.50" cy="211.80" r="0.88" fill="#d61696"/>
<circle cx="472.50" cy="213.25" r="0.88" fill="#d61696"/>
<circle cx="472.50" cy="214.70" r="0.88" fill="#d61696"/>
<circle cx="472.50" cy="216.15" r="0.88" fill="#d61696"/>
<circle cx="473.90" cy="210.35" r="0.88" fill="#d61696"/>
<circle cx="473.90" cy="211.80" r="0.88" fill="#d61696"/>
<circle cx="473.90" cy="213.25" r="0.88" fill="#d61696"/>
<circle cx="473.90" cy="214.70" r="0.88" fill="#d61696"/>
<circle cx="473.90" cy="216.15" r="0.88" fill="#d61696"/>
<circle cx="474.60" cy="211.80" r="0.88" fill="#9634e2"/>
<circle cx="474.60" cy="213.25" r="0.88" fill="#9634e2"/>
<circle cx="474.60" cy="214.70" r="0.88" fill="#9634e2"/>
<circle cx="476.22" cy="211.80" r="0.88" fill="#7e43ea"/>
<circle cx="476.22" cy="213.25" r="0.88" fill="#7e43ea"/>
<circle cx="476.22" cy="214.70" r="0.88" fill="#7e43ea"/>
<circle cx="477.84" cy="211.80" r="0.88" fill="#6652f1"/>
<circle cx="477.84" cy="213.25" r="0.88" fill="#6652f1"/>
<circle cx="477.84" cy="214.70" r="0.88" fill="#6652f1"/>
<circle cx="479.46" cy="211.80" r="0.88" fill="#4864f6"/>
<circle cx="479.46" cy="213.25" r="0.88" fill="#4864f6"/>
<circle cx="479.46" cy="214.70" r="0.88" fill="#4864f6"/>
<circle cx="481.08" cy="211.80" r="0.88" fill="#2477f9"/>
<circle cx="481.08" cy="213.25" r="0.88" fill="#2477f9"/>
<circle cx="481.08" cy="214.70" r="0.88" fill="#2477f9"/>
<circle cx="482.70" cy="211.80" r="0.88" fill="#008bfb"/>
<circle cx="482.70" cy="213.25" r="0.88" fill="#008bfb"/>
<circle cx="482.70" cy="214.70" r="0.88" fill="#008bfb"/>
<circle cx="483.40" cy="213.25" r="0.88" fill="#008bfb"/>
<circle cx="485.23" cy="213.25" r="0.88" fill="#008bfb"/>
<circle cx="487.07" cy="213.25" r="0.88" fill="#008bfb"/>
<circle cx="488.90" cy="213.25" r="0.88" fill="#008bfb"/>
<circle cx="458.90" cy="229.90" r="0.88" fill="#ff0052"/>
<circle cx="460.93" cy="229.90" r="0.88" fill="#ff0052"/>
<circle cx="462.97" cy="229.90" r="0.88" fill="#ff0052"/>
<circle cx="465.00" cy="229.90" r="0.88" fill="#ff0052"/>
<circle cx="467.70" cy="227.00" r="0.88" fill="#d61696"/>
<circle cx="467.70" cy="228.45" r="0.88" fill="#d61696"/>
<circle cx="467.70" cy="229.90" r="0.88" fill="#d61696"/>
<circle cx="467.70" cy="231.35" r="0.88" fill="#d61696"/>
<circle cx="467.70" cy="232.80" r="0.88" fill="#d61696"/>
<circle cx="469.30" cy="227.00" r="0.88" fill="#c120af"/>
<circle cx="469.30" cy="228.45" r="0.88" fill="#c120af"/>
<circle cx="469.30" cy="229.90" r="0.88" fill="#c120af"/>
<circle cx="469.30" cy="231.35" r="0.88" fill="#c120af"/>
<circle cx="469.30" cy="232.80" r="0.88" fill="#c120af"/>
<circle cx="470.90" cy="227.00" r="0.88" fill="#ab2ac9"/>
<circle cx="470.90" cy="228.45" r="0.88" fill="#ab2ac9"/>
<circle cx="470.90" cy="229.90" r="0.88" fill="#ab2ac9"/>
<circle cx="470.90" cy="231.35" r="0.88" fill="#ab2ac9"/>
<circle cx="470.90" cy="232.80" r="0.88" fill="#ab2ac9"/>
<circle cx="472.50" cy="227.00" r="0.88" fill="#9634e2"/>
<circle cx="472.50" cy="228.45" r="0.88" fill="#9634e2"/>
<circle cx="472.50" cy="229.90" r="0.88" fill="#9634e2"/>
<circle cx="472.50" cy="231.35" r="0.88" fill="#9634e2"/>
<circle cx="472.50" cy="232.80" r="0.88" fill="#9634e2"/>
<circle cx="473.90" cy="228.45" r="0.88" fill="#5a5af5"/>
<circle cx="473.90" cy="229.90" r="0.88" fill="#5a5af5"/>
<circle cx="473.90" cy="231.35" r="0.88" fill="#5a5af5"/>
<circle cx="475.60" cy="228.45" r="0.88" fill="#4466f6"/>
<circle cx="475.60" cy="229.90" r="0.88" fill="#4466f6"/>
<circle cx="475.60" cy="231.35" r="0.88" fill="#4466f6"/>
<circle cx="477.30" cy="225.55" r="0.88" fill="#2d72f8"/>
<circle cx="477.30" cy="227.00" r="0.88" fill="#2d72f8"/>
<circle cx="477.30" cy="228.45" r="0.88" fill="#2d72f8"/>
<circle cx="477.30" cy="229.90" r="0.88" fill="#2d72f8"/>
<circle cx="477.30" cy="231.35" r="0.88" fill="#2d72f8"/>
<circle cx="477.30" cy="232.80" r="0.88" fill="#2d72f8"/>
<circle cx="477.30" cy="234.25" r="0.88" fill="#2d72f8"/>
<circle cx="479.00" cy="225.55" r="0.88" fill="#167ffa"/>
<circle cx="479.00" cy="227.00" r="0.88" fill="#167ffa"/>
<circle cx="479.00" cy="228.45" r="0.88" fill="#167ffa"/>
<circle cx="479.00" cy="229.90" r="0.88" fill="#167ffa"/>
<circle cx="479.00" cy="231.35" r="0.88" fill="#167ffa"/>
<circle cx="479.00" cy="232.80" r="0.88" fill="#167ffa"/>
<circle cx="479.00" cy="234.25" r="0.88" fill="#167ffa"/>
<circle cx="480.70" cy="228.45" r="0.88" fill="#008bfb"/>
<circle cx="480.70" cy="229.90" r="0.88" fill="#008bfb"/>
<circle cx="480.70" cy="231.35" r="0.88" fill="#008bfb"/>
<defs><linearGradient id="g979" x1="0" y1="0" x2="0" y2="1"><stop offset="0" stop-color="#ff0052"/><stop offset="0.4" stop-color="#e01e8e"/><stop offset="0.65" stop-color="#9a48d8"/><stop offset="0.85" stop-color="#3f7af0"/><stop offset="1" stop-color="#008bfb"/></linearGradient></defs>
<rect x="522.50" y="146.50" width="1.4" height="100.50" fill="url(#g979)"/>
<text x="525.80" y="148.95" font-size="5.41" stroke="#333" stroke-width="0.12" fill="#333" textLength="11.72" lengthAdjust="spacingAndGlyphs">High</text>
<text x="525.80" y="249.75" font-size="5.41" stroke="#333" stroke-width="0.12" fill="#333" textLength="10.04" lengthAdjust="spacingAndGlyphs">Low</text>
<text transform="translate(543.40,197.80) rotate(-90)" x="-21.51" y="0" font-size="6.68" stroke="#333" stroke-width="0.12" fill="#333" textLength="43.02" lengthAdjust="spacingAndGlyphs">Feature value</text>
<line x1="84.70" y1="280.80" x2="84.70" y2="381.50" stroke="#6b6b6b" stroke-width="0.7"/>
<line x1="84.70" y1="381.50" x2="165.00" y2="381.50" stroke="#6b6b6b" stroke-width="0.7"/>
<rect x="85.00" y="291.70" width="76.10" height="11.00" fill="#738899"/>
<rect x="85.00" y="308.80" width="40.00" height="10.90" fill="#738899"/>
<rect x="85.00" y="325.60" width="36.00" height="10.90" fill="#738899"/>
<rect x="85.00" y="341.80" width="34.00" height="11.20" fill="#738899"/>
<rect x="85.00" y="358.90" width="32.60" height="10.90" fill="#738899"/>
<text x="50.51" y="300.60" font-size="6.68" stroke="#333333" stroke-width="0.12" fill="#333333" textLength="29.89" lengthAdjust="spacingAndGlyphs">Gratitude</text>
<text x="32.04" y="317.65" font-size="6.68" stroke="#333333" stroke-width="0.12" fill="#333333" textLength="48.36" lengthAdjust="spacingAndGlyphs">Mood_empathy</text>
<text x="27.46" y="334.45" font-size="6.68" stroke="#333333" stroke-width="0.12" fill="#333333" textLength="52.94" lengthAdjust="spacingAndGlyphs">Mood_depressed</text>
<text x="43.32" y="347.45" font-size="6.68" stroke="#333333" stroke-width="0.12" fill="#333333" textLength="37.08" lengthAdjust="spacingAndGlyphs">ScreenTime</text>
<text x="31.14" y="355.15" font-size="6.68" stroke="#333333" stroke-width="0.12" fill="#333333" textLength="49.26" lengthAdjust="spacingAndGlyphs">socialyesterday</text>
<text x="42.21" y="367.75" font-size="6.68" stroke="#333333" stroke-width="0.12" fill="#333333" textLength="38.19" lengthAdjust="spacingAndGlyphs">time_of_day</text>
<line x1="84.70" y1="381.50" x2="84.70" y2="383.50" stroke="#6b6b6b" stroke-width="0.6"/>
<text x="80.49" y="390.42" font-size="5.62" stroke="#3a3a3a" stroke-width="0.1" fill="#3a3a3a" textLength="8.43" lengthAdjust="spacingAndGlyphs">0.0</text>
<line x1="108.90" y1="381.50" x2="108.90" y2="383.50" stroke="#6b6b6b" stroke-width="0.6"/>
<text x="104.69" y="390.42" font-size="5.62" stroke="#3a3a3a" stroke-width="0.1" fill="#3a3a3a" textLength="8.43" lengthAdjust="spacingAndGlyphs">0.5</text>
<line x1="133.00" y1="381.50" x2="133.00" y2="383.50" stroke="#6b6b6b" stroke-width="0.6"/>
<text x="128.79" y="390.42" font-size="5.62" stroke="#3a3a3a" stroke-width="0.1" fill="#3a3a3a" textLength="8.43" lengthAdjust="spacingAndGlyphs">1.0</text>
<line x1="157.20" y1="381.50" x2="157.20" y2="383.50" stroke="#6b6b6b" stroke-width="0.6"/>
<text x="152.99" y="390.42" font-size="5.62" stroke="#3a3a3a" stroke-width="0.1" fill="#3a3a3a" textLength="8.43" lengthAdjust="spacingAndGlyphs">1.5</text>
<text x="89.25" y="398.40" font-size="6.68" font-weight="bold" stroke="#111" stroke-width="0.2" fill="#111" textLength="70.71" lengthAdjust="spacingAndGlyphs">mean(|SHAP value|)</text>
<text x="141.70" y="281.03" font-size="10.92" font-weight="bold" stroke="#000" stroke-width="0.35" fill="#000" textLength="59.30" lengthAdjust="spacingAndGlyphs">Wellbeing</text>
<text transform="translate(15.24,332.70) rotate(-90)" x="-8.95" y="0" font-size="10.39" font-weight="bold" stroke="#000" stroke-width="0.3" fill="#000" textLength="17.90" lengthAdjust="spacingAndGlyphs">P-9</text>
<line x1="220.40" y1="280.50" x2="220.40" y2="381.50" stroke="#999999" stroke-width="0.8"/>
<line x1="177.00" y1="381.50" x2="246.00" y2="381.50" stroke="#6b6b6b" stroke-width="0.7"/>
<line x1="182.00" y1="381.50" x2="182.00" y2="383.50" stroke="#6b6b6b" stroke-width="0.6"/>
<text x="178.09" y="390.42" font-size="5.62" stroke="#3a3a3a" stroke-width="0.1" fill="#3a3a3a" textLength="7.81" lengthAdjust="spacingAndGlyphs">−1</text>
<line x1="220.40" y1="381.50" x2="220.40" y2="383.50" stroke="#6b6b6b" stroke-width="0.6"/>
<text x="218.71" y="390.42" font-size="5.62" stroke="#3a3a3a" stroke-width="0.1" fill="#3a3a3a" textLength="3.37" lengthAdjust="spacingAndGlyphs">0</text>
<text x="193.61" y="398.40" font-size="6.68" font-weight="bold" stroke="#111" stroke-width="0.2" fill="#111" textLength="40.77" lengthAdjust="spacingAndGlyphs">SHAP value</text>
<circle cx="184.30" cy="297.20" r="0.88" fill="#008bfb"/>
<circle cx="193.40" cy="297.20" r="0.88" fill="#008bfb"/>
<circle cx="194.80" cy="297.20" r="0.88" fill="#008bfb"/>
<circle cx="196.80" cy="297.20" r="0.88" fill="#008bfb"/>
<circle cx="198.36" cy="295.75" r="0.88" fill="#008bfb"/>
<circle cx="198.36" cy="297.20" r="0.88" fill="#008bfb"/>
<circle cx="198.36" cy="298.65" r="0.88" fill="#008bfb"/>
<circle cx="199.91" cy="297.20" r="0.88" fill="#008bfb"/>
<circle cx="201.47" cy="297.20" r="0.88" fill="#008bfb"/>
<circle cx="203.03" cy="294.30" r="0.88" fill="#008bfb"/>
<circle cx="203.03" cy="295.75" r="0.88" fill="#008bfb"/>
<circle cx="203.03" cy="297.20" r="0.88" fill="#008bfb"/>
<circle cx="203.03" cy="298.65" r="0.88" fill="#008bfb"/>
<circle cx="203.03" cy="300.10" r="0.88" fill="#008bfb"/>
<circle cx="204.59" cy="295.75" r="0.88" fill="#008bfb"/>
<circle cx="204.59" cy="297.20" r="0.88" fill="#008bfb"/>
<circle cx="204.59" cy="298.65" r="0.88" fill="#008bfb"/>
<circle cx="206.14" cy="295.75" r="0.88" fill="#008bfb"/>
<circle cx="206.14" cy="297.20" r="0.88" fill="#008bfb"/>
<circle cx="206.14" cy="298.65" r="0.88" fill="#008bfb"/>
<circle cx="207.70" cy="295.75" r="0.88" fill="#008bfb"/>
<circle cx="207.70" cy="297.20" r="0.88" fill="#008bfb"/>
<circle cx="207.70" cy="298.65" r="0.88" fill="#008bfb"/>
<circle cx="212.50" cy="294.30" r="0.88" fill="#9634e2"/>
<circle cx="212.50" cy="295.75" r="0.88" fill="#9634e2"/>
<circle cx="212.50" cy="297.20" r="0.88" fill="#9634e2"/>
<circle cx="212.50" cy="298.65" r="0.88" fill="#9634e2"/>
<circle cx="212.50" cy="300.10" r="0.88" fill="#9634e2"/>
<circle cx="214.60" cy="294.30" r="0.88" fill="#9634e2"/>
<circle cx="214.60" cy="295.75" r="0.88" fill="#9634e2"/>
<circle cx="214.60" cy="297.20" r="0.88" fill="#9634e2"/>
<circle cx="214.60" cy="298.65" r="0.88" fill="#9634e2"/>
<circle cx="214.60" cy="300.10" r="0.88" fill="#9634e2"/>
<circle cx="218.70" cy="297.20" r="0.88" fill="#9634e2"/>
<circle cx="223.40" cy="295.75" r="0.88" fill="#ff0052"/>
<circle cx="223.40" cy="297.20" r="0.88" fill="#ff0052"/>
<circle cx="223.40" cy="298.65" r="0.88" fill="#ff0052"/>
<circle cx="224.88" cy="297.20" r="0.88" fill="#f10769"/>
<circle cx="226.37" cy="295.75" r="0.88" fill="#e40f7f"/>
<circle cx="226.37" cy="297.20" r="0.88" fill="#e40f7f"/>
<circle cx="226.37" cy="298.65" r="0.88" fill="#e40f7f"/>
<circle cx="227.85" cy="295.75" r="0.88" fill="#d61696"/>
<circle cx="227.85" cy="297.20" r="0.88" fill="#d61696"/>
<circle cx="227.85" cy="298.65" r="0.88" fill="#d61696"/>
<circle cx="229.33" cy="295.75" r="0.88" fill="#e40f7f"/>
<circle cx="229.33" cy="297.20" r="0.88" fill="#e40f7f"/>
<circle cx="229.33" cy="298.65" r="0.88" fill="#e40f7f"/>
<circle cx="230.82" cy="295.75" r="0.88" fill="#f10769"/>
<circle cx="230.82" cy="297.20" r="0.88" fill="#f10769"/>
<circle cx="230.82" cy="298.65" r="0.88" fill="#f10769"/>
<circle cx="232.30" cy="297.20" r="0.88" fill="#ff0052"/>
<circle cx="228.00" cy="292.85" r="0.88" fill="#ff0052"/>
<circle cx="228.00" cy="294.30" r="0.88" fill="#ff0052"/>
<circle cx="228.00" cy="295.75" r="0.88" fill="#ff0052"/>
<circle cx="228.00" cy="297.20" r="0.88" fill="#ff0052"/>
<circle cx="228.00" cy="298.65" r="0.88" fill="#ff0052"/>
<circle cx="228.00" cy="300.10" r="0.88" fill="#ff0052"/>
<circle cx="228.00" cy="301.55" r="0.88" fill="#ff0052"/>
<circle cx="240.50" cy="295.75" r="0.88" fill="#ff0052"/>
<circle cx="240.50" cy="297.20" r="0.88" fill="#ff0052"/>
<circle cx="240.50" cy="298.65" r="0.88" fill="#ff0052"/>
<circle cx="242.20" cy="295.75" r="0.88" fill="#ff0052"/>
<circle cx="242.20" cy="297.20" r="0.88" fill="#ff0052"/>
<circle cx="242.20" cy="298.65" r="0.88" fill="#ff0052"/>
<circle cx="243.90" cy="295.75" r="0.88" fill="#ff0052"/>
<circle cx="243.90" cy="297.20" r="0.88" fill="#ff0052"/>
<circle cx="243.90" cy="298.65" r="0.88" fill="#ff0052"/>
<circle cx="183.50" cy="314.25" r="0.88" fill="#008bfb"/>
<circle cx="185.05" cy="314.25" r="0.88" fill="#008bfb"/>
<circle cx="186.60" cy="314.25" r="0.88" fill="#008bfb"/>
<circle cx="205.70" cy="314.25" r="0.88" fill="#008bfb"/>
<circle cx="207.22" cy="314.25" r="0.88" fill="#008bfb"/>
<circle cx="208.75" cy="314.25" r="0.88" fill="#008bfb"/>
<circle cx="210.28" cy="314.25" r="0.88" fill="#008bfb"/>
<circle cx="211.80" cy="314.25" r="0.88" fill="#008bfb"/>
<circle cx="213.20" cy="314.25" r="0.88" fill="#5a5af5"/>
<circle cx="214.60" cy="312.80" r="0.88" fill="#7847ec"/>
<circle cx="214.60" cy="314.25" r="0.88" fill="#7847ec"/>
<circle cx="214.60" cy="315.70" r="0.88" fill="#7847ec"/>
<circle cx="216.00" cy="314.25" r="0.88" fill="#9634e2"/>
<circle cx="218.00" cy="312.80" r="0.88" fill="#9634e2"/>
<circle cx="218.00" cy="314.25" r="0.88" fill="#9634e2"/>
<circle cx="218.00" cy="315.70" r="0.88" fill="#9634e2"/>
<circle cx="219.62" cy="312.80" r="0.88" fill="#aa2bcb"/>
<circle cx="219.62" cy="314.25" r="0.88" fill="#aa2bcb"/>
<circle cx="219.62" cy="315.70" r="0.88" fill="#aa2bcb"/>
<circle cx="221.23" cy="312.80" r="0.88" fill="#bd22b3"/>
<circle cx="221.23" cy="314.25" r="0.88" fill="#bd22b3"/>
<circle cx="221.23" cy="315.70" r="0.88" fill="#bd22b3"/>
<circle cx="222.85" cy="312.80" r="0.88" fill="#d1189c"/>
<circle cx="222.85" cy="314.25" r="0.88" fill="#d1189c"/>
<circle cx="222.85" cy="315.70" r="0.88" fill="#d1189c"/>
<circle cx="224.46" cy="312.80" r="0.88" fill="#c71da8"/>
<circle cx="224.46" cy="314.25" r="0.88" fill="#c71da8"/>
<circle cx="224.46" cy="315.70" r="0.88" fill="#c71da8"/>
<circle cx="226.08" cy="312.80" r="0.88" fill="#b426bf"/>
<circle cx="226.08" cy="314.25" r="0.88" fill="#b426bf"/>
<circle cx="226.08" cy="315.70" r="0.88" fill="#b426bf"/>
<circle cx="227.69" cy="314.25" r="0.88" fill="#a02fd6"/>
<circle cx="229.31" cy="312.80" r="0.88" fill="#a02fd6"/>
<circle cx="229.31" cy="314.25" r="0.88" fill="#a02fd6"/>
<circle cx="229.31" cy="315.70" r="0.88" fill="#a02fd6"/>
<circle cx="230.92" cy="312.80" r="0.88" fill="#b426bf"/>
<circle cx="230.92" cy="314.25" r="0.88" fill="#b426bf"/>
<circle cx="230.92" cy="315.70" r="0.88" fill="#b426bf"/>
<circle cx="232.54" cy="314.25" r="0.88" fill="#c71da8"/>
<circle cx="234.15" cy="312.80" r="0.88" fill="#d91491"/>
<circle cx="234.15" cy="314.25" r="0.88" fill="#d91491"/>
<circle cx="234.15" cy="315.70" r="0.88" fill="#d91491"/>
<circle cx="235.77" cy="314.25" r="0.88" fill="#e60e7c"/>
<circle cx="237.38" cy="312.80" r="0.88" fill="#f20767"/>
<circle cx="237.38" cy="314.25" r="0.88" fill="#f20767"/>
<circle cx="237.38" cy="315.70" r="0.88" fill="#f20767"/>
<circle cx="239.00" cy="312.80" r="0.88" fill="#ff0052"/>
<circle cx="239.00" cy="314.25" r="0.88" fill="#ff0052"/>
<circle cx="239.00" cy="315.70" r="0.88" fill="#ff0052"/>
<circle cx="220.00" cy="309.90" r="0.88" fill="#9634e2"/>
<circle cx="220.00" cy="311.35" r="0.88" fill="#9634e2"/>
<circle cx="220.00" cy="312.80" r="0.88" fill="#9634e2"/>
<circle cx="220.00" cy="314.25" r="0.88" fill="#9634e2"/>
<circle cx="220.00" cy="315.70" r="0.88" fill="#9634e2"/>
<circle cx="220.00" cy="317.15" r="0.88" fill="#9634e2"/>
<circle cx="220.00" cy="318.60" r="0.88" fill="#9634e2"/>
<circle cx="237.00" cy="309.90" r="0.88" fill="#d61696"/>
<circle cx="237.00" cy="311.35" r="0.88" fill="#d61696"/>
<circle cx="237.00" cy="312.80" r="0.88" fill="#d61696"/>
<circle cx="237.00" cy="314.25" r="0.88" fill="#d61696"/>
<circle cx="237.00" cy="315.70" r="0.88" fill="#d61696"/>
<circle cx="237.00" cy="317.15" r="0.88" fill="#d61696"/>
<circle cx="237.00" cy="318.60" r="0.88" fill="#d61696"/>
<circle cx="240.50" cy="314.25" r="0.88" fill="#ff0052"/>
<circle cx="242.20" cy="312.80" r="0.88" fill="#ff0052"/>
<circle cx="242.20" cy="314.25" r="0.88" fill="#ff0052"/>
<circle cx="242.20" cy="315.70" r="0.88" fill="#ff0052"/>
<circle cx="243.90" cy="314.25" r="0.88" fill="#ff0052"/>
<circle cx="194.10" cy="331.05" r="0.88" fill="#ff0052"/>
<circle cx="214.60" cy="329.60" r="0.88" fill="#ff0052"/>
<circle cx="214.60" cy="331.05" r="0.88" fill="#ff0052"/>
<circle cx="214.60" cy="332.50" r="0.88" fill="#ff0052"/>
<circle cx="216.18" cy="328.15" r="0.88" fill="#f8045d"/>
<circle cx="216.18" cy="329.60" r="0.88" fill="#f8045d"/>
<circle cx="216.18" cy="331.05" r="0.88" fill="#f8045d"/>
<circle cx="216.18" cy="332.50" r="0.88" fill="#f8045d"/>
<circle cx="216.18" cy="333.95" r="0.88" fill="#f8045d"/>
<circle cx="217.77" cy="329.60" r="0.88" fill="#f10769"/>
<circle cx="217.77" cy="331.05" r="0.88" fill="#f10769"/>
<circle cx="217.77" cy="332.50" r="0.88" fill="#f10769"/>
<circle cx="219.35" cy="328.15" r="0.88" fill="#ea0b74"/>
<circle cx="219.35" cy="329.60" r="0.88" fill="#ea0b74"/>
<circle cx="219.35" cy="331.05" r="0.88" fill="#ea0b74"/>
<circle cx="219.35" cy="332.50" r="0.88" fill="#ea0b74"/>
<circle cx="219.35" cy="333.95" r="0.88" fill="#ea0b74"/>
<circle cx="220.93" cy="329.60" r="0.88" fill="#e40f7f"/>
<circle cx="220.93" cy="331.05" r="0.88" fill="#e40f7f"/>
<circle cx="220.93" cy="332.50" r="0.88" fill="#e40f7f"/>
<circle cx="222.52" cy="329.60" r="0.88" fill="#dd128b"/>
<circle cx="222.52" cy="331.05" r="0.88" fill="#dd128b"/>
<circle cx="222.52" cy="332.50" r="0.88" fill="#dd128b"/>
<circle cx="224.10" cy="329.60" r="0.88" fill="#d61696"/>
<circle cx="224.10" cy="331.05" r="0.88" fill="#d61696"/>
<circle cx="224.10" cy="332.50" r="0.88" fill="#d61696"/>
<circle cx="224.10" cy="329.60" r="0.88" fill="#9634e2"/>
<circle cx="224.10" cy="331.05" r="0.88" fill="#9634e2"/>
<circle cx="224.10" cy="332.50" r="0.88" fill="#9634e2"/>
<circle cx="225.93" cy="328.15" r="0.88" fill="#6e4def"/>
<circle cx="225.93" cy="329.60" r="0.88" fill="#6e4def"/>
<circle cx="225.93" cy="331.05" r="0.88" fill="#6e4def"/>
<circle cx="225.93" cy="332.50" r="0.88" fill="#6e4def"/>
<circle cx="225.93" cy="333.95" r="0.88" fill="#6e4def"/>
<circle cx="227.77" cy="328.15" r="0.88" fill="#3c6af7"/>
<circle cx="227.77" cy="329.60" r="0.88" fill="#3c6af7"/>
<circle cx="227.77" cy="331.05" r="0.88" fill="#3c6af7"/>
<circle cx="227.77" cy="332.50" r="0.88" fill="#3c6af7"/>
<circle cx="227.77" cy="333.95" r="0.88" fill="#3c6af7"/>
<circle cx="229.60" cy="329.60" r="0.88" fill="#008bfb"/>
<circle cx="229.60" cy="331.05" r="0.88" fill="#008bfb"/>
<circle cx="229.60" cy="332.50" r="0.88" fill="#008bfb"/>
<circle cx="231.00" cy="331.05" r="0.88" fill="#008bfb"/>
<circle cx="235.70" cy="329.60" r="0.88" fill="#008bfb"/>
<circle cx="235.70" cy="331.05" r="0.88" fill="#008bfb"/>
<circle cx="235.70" cy="332.50" r="0.88" fill="#008bfb"/>
<circle cx="237.80" cy="329.60" r="0.88" fill="#008bfb"/>
<circle cx="237.80" cy="331.05" r="0.88" fill="#008bfb"/>
<circle cx="237.80" cy="332.50" r="0.88" fill="#008bfb"/>
<circle cx="241.80" cy="331.05" r="0.88" fill="#008bfb"/>
<circle cx="199.80" cy="347.40" r="0.88" fill="#ff0052"/>
<circle cx="210.50" cy="347.40" r="0.88" fill="#ff0052"/>
<circle cx="212.33" cy="345.95" r="0.88" fill="#f10769"/>
<circle cx="212.33" cy="347.40" r="0.88" fill="#f10769"/>
<circle cx="212.33" cy="348.85" r="0.88" fill="#f10769"/>
<circle cx="214.17" cy="345.95" r="0.88" fill="#e40f7f"/>
<circle cx="214.17" cy="347.40" r="0.88" fill="#e40f7f"/>
<circle cx="214.17" cy="348.85" r="0.88" fill="#e40f7f"/>
<circle cx="216.00" cy="347.40" r="0.88" fill="#d61696"/>
<circle cx="216.00" cy="345.95" r="0.88" fill="#d61696"/>
<circle cx="216.00" cy="347.40" r="0.88" fill="#d61696"/>
<circle cx="216.00" cy="348.85" r="0.88" fill="#d61696"/>
<circle cx="217.80" cy="344.50" r="0.88" fill="#c120af"/>
<circle cx="217.80" cy="345.95" r="0.88" fill="#c120af"/>
<circle cx="217.80" cy="347.40" r="0.88" fill="#c120af"/>
<circle cx="217.80" cy="348.85" r="0.88" fill="#c120af"/>
<circle cx="217.80" cy="350.30" r="0.88" fill="#c120af"/>
<circle cx="219.60" cy="344.50" r="0.88" fill="#ab2ac9"/>
<circle cx="219.60" cy="345.95" r="0.88" fill="#ab2ac9"/>
<circle cx="219.60" cy="347.40" r="0.88" fill="#ab2ac9"/>
<circle cx="219.60" cy="348.85" r="0.88" fill="#ab2ac9"/>
<circle cx="219.60" cy="350.30" r="0.88" fill="#ab2ac9"/>
<circle cx="221.40" cy="345.95" r="0.88" fill="#9634e2"/>
<circle cx="221.40" cy="347.40" r="0.88" fill="#9634e2"/>
<circle cx="221.40" cy="348.85" r="0.88" fill="#9634e2"/>
<circle cx="221.40" cy="345.95" r="0.88" fill="#5a5af5"/>
<circle cx="221.40" cy="347.40" r="0.88" fill="#5a5af5"/>
<circle cx="221.40" cy="348.85" r="0.88" fill="#5a5af5"/>
<circle cx="223.10" cy="345.95" r="0.88" fill="#4f60f6"/>
<circle cx="223.10" cy="347.40" r="0.88" fill="#4f60f6"/>
<circle cx="223.10" cy="348.85" r="0.88" fill="#4f60f6"/>
<circle cx="224.80" cy="345.95" r="0.88" fill="#4366f6"/>
<circle cx="224.80" cy="347.40" r="0.88" fill="#4366f6"/>
<circle cx="224.80" cy="348.85" r="0.88" fill="#4366f6"/>
<circle cx="226.50" cy="345.95" r="0.88" fill="#386cf7"/>
<circle cx="226.50" cy="347.40" r="0.88" fill="#386cf7"/>
<circle cx="226.50" cy="348.85" r="0.88" fill="#386cf7"/>
<circle cx="228.20" cy="344.50" r="0.88" fill="#2d72f8"/>
<circle cx="228.20" cy="345.95" r="0.88" fill="#2d72f8"/>
<circle cx="228.20" cy="347.40" r="0.88" fill="#2d72f8"/>
<circle cx="228.20" cy="348.85" r="0.88" fill="#2d72f8"/>
<circle cx="228.20" cy="350.30" r="0.88" fill="#2d72f8"/>
<circle cx="229.90" cy="344.50" r="0.88" fill="#2279f9"/>
<circle cx="229.90" cy="345.95" r="0.88" fill="#2279f9"/>
<circle cx="229.90" cy="347.40" r="0.88" fill="#2279f9"/>
<circle cx="229.90" cy="348.85" r="0.88" fill="#2279f9"/>
<circle cx="229.90" cy="350.30" r="0.88" fill="#2279f9"/>
<circle cx="231.60" cy="347.40" r="0.88" fill="#177ffa"/>
<circle cx="233.30" cy="347.40" r="0.88" fill="#0b85fa"/>
<circle cx="235.00" cy="347.40" r="0.88" fill="#008bfb"/>
<circle cx="209.10" cy="364.35" r="0.88" fill="#008bfb"/>
<circle cx="210.70" cy="362.90" r="0.88" fill="#008bfb"/>
<circle cx="210.70" cy="364.35" r="0.88" fill="#008bfb"/>
<circle cx="210.70" cy="365.80" r="0.88" fill="#008bfb"/>
<circle cx="212.30" cy="364.35" r="0.88" fill="#008bfb"/>
<circle cx="213.90" cy="362.90" r="0.88" fill="#008bfb"/>
<circle cx="213.90" cy="364.35" r="0.88" fill="#008bfb"/>
<circle cx="213.90" cy="365.80" r="0.88" fill="#008bfb"/>
<circle cx="215.50" cy="361.45" r="0.88" fill="#008bfb"/>
<circle cx="215.50" cy="362.90" r="0.88" fill="#008bfb"/>
<circle cx="215.50" cy="364.35" r="0.88" fill="#008bfb"/>
<circle cx="215.50" cy="365.80" r="0.88" fill="#008bfb"/>
<circle cx="215.50" cy="367.25" r="0.88" fill="#008bfb"/>
<circle cx="217.10" cy="362.90" r="0.88" fill="#008bfb"/>
<circle cx="217.10" cy="364.35" r="0.88" fill="#008bfb"/>
<circle cx="217.10" cy="365.80" r="0.88" fill="#008bfb"/>
<circle cx="218.70" cy="364.35" r="0.88" fill="#008bfb"/>
<circle cx="218.70" cy="362.90" r="0.88" fill="#d61696"/>
<circle cx="218.70" cy="364.35" r="0.88" fill="#d61696"/>
<circle cx="218.70" cy="365.80" r="0.88" fill="#d61696"/>
<circle cx="220.32" cy="361.45" r="0.88" fill="#de1288"/>
<circle cx="220.32" cy="362.90" r="0.88" fill="#de1288"/>
<circle cx="220.32" cy="364.35" r="0.88" fill="#de1288"/>
<circle cx="220.32" cy="365.80" r="0.88" fill="#de1288"/>
<circle cx="220.32" cy="367.25" r="0.88" fill="#de1288"/>
<circle cx="221.94" cy="362.90" r="0.88" fill="#e60d7b"/>
<circle cx="221.94" cy="364.35" r="0.88" fill="#e60d7b"/>
<circle cx="221.94" cy="365.80" r="0.88" fill="#e60d7b"/>
<circle cx="223.56" cy="361.45" r="0.88" fill="#ef096d"/>
<circle cx="223.56" cy="362.90" r="0.88" fill="#ef096d"/>
<circle cx="223.56" cy="364.35" r="0.88" fill="#ef096d"/>
<circle cx="223.56" cy="365.80" r="0.88" fill="#ef096d"/>
<circle cx="223.56" cy="367.25" r="0.88" fill="#ef096d"/>
<circle cx="225.18" cy="361.45" r="0.88" fill="#f70460"/>
<circle cx="225.18" cy="362.90" r="0.88" fill="#f70460"/>
<circle cx="225.18" cy="364.35" r="0.88" fill="#f70460"/>
<circle cx="225.18" cy="365.80" r="0.88" fill="#f70460"/>
<circle cx="225.18" cy="367.25" r="0.88" fill="#f70460"/>
<circle cx="226.80" cy="364.35" r="0.88" fill="#ff0052"/>
<circle cx="222.00" cy="360.00" r="0.88" fill="#ff0052"/>
<circle cx="222.00" cy="361.45" r="0.88" fill="#ff0052"/>
<circle cx="222.00" cy="362.90" r="0.88" fill="#ff0052"/>
<circle cx="222.00" cy="364.35" r="0.88" fill="#ff0052"/>
<circle cx="222.00" cy="365.80" r="0.88" fill="#ff0052"/>
<circle cx="222.00" cy="367.25" r="0.88" fill="#ff0052"/>
<circle cx="222.00" cy="368.70" r="0.88" fill="#ff0052"/>
<circle cx="228.90" cy="362.90" r="0.88" fill="#ff0052"/>
<circle cx="228.90" cy="364.35" r="0.88" fill="#ff0052"/>
<circle cx="228.90" cy="365.80" r="0.88" fill="#ff0052"/>
<circle cx="231.00" cy="362.90" r="0.88" fill="#ff0052"/>
<circle cx="231.00" cy="364.35" r="0.88" fill="#ff0052"/>
<circle cx="231.00" cy="365.80" r="0.88" fill="#ff0052"/>
<defs><linearGradient id="g1302" x1="0" y1="0" x2="0" y2="1"><stop offset="0" stop-color="#ff0052"/><stop offset="0.4" stop-color="#e01e8e"/><stop offset="0.65" stop-color="#9a48d8"/><stop offset="0.85" stop-color="#3f7af0"/><stop offset="1" stop-color="#008bfb"/></linearGradient></defs>
<rect x="249.80" y="280.50" width="1.4" height="100.20" fill="url(#g1302)"/>
<text x="253.10" y="282.95" font-size="5.41" stroke="#333" stroke-width="0.12" fill="#333" textLength="11.72" lengthAdjust="spacingAndGlyphs">High</text>
<text x="253.10" y="383.45" font-size="5.41" stroke="#333" stroke-width="0.12" fill="#333" textLength="10.04" lengthAdjust="spacingAndGlyphs">Low</text>
<text transform="translate(271.70,332.20) rotate(-90)" x="-21.51" y="0" font-size="6.68" stroke="#333" stroke-width="0.12" fill="#333" textLength="43.02" lengthAdjust="spacingAndGlyphs">Feature value</text>
<line x1="355.20" y1="280.30" x2="355.20" y2="380.80" stroke="#6b6b6b" stroke-width="0.7"/>
<line x1="355.20" y1="380.80" x2="435.40" y2="380.80" stroke="#6b6b6b" stroke-width="0.7"/>
<rect x="355.50" y="290.00" width="76.60" height="11.40" fill="#738899"/>
<rect x="355.50" y="307.00" width="48.90" height="11.40" fill="#738899"/>
<rect x="355.50" y="324.00" width="31.00" height="11.50" fill="#738899"/>
<rect x="355.50" y="340.60" width="28.20" height="11.20" fill="#738899"/>
<rect x="355.50" y="357.40" width="27.20" height="11.40" fill="#738899"/>
<text x="298.06" y="299.10" font-size="6.68" stroke="#333333" stroke-width="0.12" fill="#333333" textLength="52.94" lengthAdjust="spacingAndGlyphs">Mood_depressed</text>
<text x="300.56" y="316.10" font-size="6.68" stroke="#333333" stroke-width="0.12" fill="#333333" textLength="50.44" lengthAdjust="spacingAndGlyphs">Mood_wellbeing</text>
<text x="304.24" y="333.15" font-size="6.68" stroke="#333333" stroke-width="0.12" fill="#333333" textLength="46.76" lengthAdjust="spacingAndGlyphs">Sleep_bedtime</text>
<text x="294.09" y="349.60" font-size="6.68" stroke="#333333" stroke-width="0.12" fill="#333333" textLength="56.91" lengthAdjust="spacingAndGlyphs">Sleep_satisfaction</text>
<text x="312.81" y="366.50" font-size="6.68" stroke="#333333" stroke-width="0.12" fill="#333333" textLength="38.19" lengthAdjust="spacingAndGlyphs">time_of_day</text>
<line x1="355.20" y1="380.80" x2="355.20" y2="382.80" stroke="#6b6b6b" stroke-width="0.6"/>
<text x="350.99" y="387.92" font-size="5.62" stroke="#3a3a3a" stroke-width="0.1" fill="#3a3a3a" textLength="8.43" lengthAdjust="spacingAndGlyphs">0.0</text>
<line x1="377.00" y1="380.80" x2="377.00" y2="382.80" stroke="#6b6b6b" stroke-width="0.6"/>
<text x="372.79" y="387.92" font-size="5.62" stroke="#3a3a3a" stroke-width="0.1" fill="#3a3a3a" textLength="8.43" lengthAdjust="spacingAndGlyphs">0.2</text>
<line x1="398.80" y1="380.80" x2="398.80" y2="382.80" stroke="#6b6b6b" stroke-width="0.6"/>
<text x="394.59" y="387.92" font-size="5.62" stroke="#3a3a3a" stroke-width="0.1" fill="#3a3a3a" textLength="8.43" lengthAdjust="spacingAndGlyphs">0.4</text>
<line x1="420.60" y1="380.80" x2="420.60" y2="382.80" stroke="#6b6b6b" stroke-width="0.6"/>
<text x="416.39" y="387.92" font-size="5.62" stroke="#3a3a3a" stroke-width="0.1" fill="#3a3a3a" textLength="8.43" lengthAdjust="spacingAndGlyphs">0.6</text>
<text x="360.55" y="397.20" font-size="6.68" font-weight="bold" stroke="#111" stroke-width="0.2" fill="#111" textLength="70.71" lengthAdjust="spacingAndGlyphs">mean(|SHAP value|)</text>
<text x="415.40" y="280.03" font-size="10.92" font-weight="bold" stroke="#000" stroke-width="0.35" fill="#000" textLength="52.10" lengthAdjust="spacingAndGlyphs">Empathy</text>
<line x1="486.50" y1="279.00" x2="486.50" y2="380.80" stroke="#999999" stroke-width="0.8"/>
<line x1="448.20" y1="380.80" x2="516.90" y2="380.80" stroke="#6b6b6b" stroke-width="0.7"/>
<line x1="452.50" y1="380.80" x2="452.50" y2="382.80" stroke="#6b6b6b" stroke-width="0.6"/>
<text x="448.59" y="387.92" font-size="5.62" stroke="#3a3a3a" stroke-width="0.1" fill="#3a3a3a" textLength="7.81" lengthAdjust="spacingAndGlyphs">−1</text>
<line x1="486.50" y1="380.80" x2="486.50" y2="382.80" stroke="#6b6b6b" stroke-width="0.6"/>
<text x="484.81" y="387.92" font-size="5.62" stroke="#3a3a3a" stroke-width="0.1" fill="#3a3a3a" textLength="3.37" lengthAdjust="spacingAndGlyphs">0</text>
<text x="464.61" y="397.20" font-size="6.68" font-weight="bold" stroke="#111" stroke-width="0.2" fill="#111" textLength="40.77" lengthAdjust="spacingAndGlyphs">SHAP value</text>
<circle cx="455.50" cy="292.80" r="0.88" fill="#ff0052"/>
<circle cx="455.50" cy="294.25" r="0.88" fill="#ff0052"/>
<circle cx="455.50" cy="295.70" r="0.88" fill="#ff0052"/>
<circle cx="455.50" cy="297.15" r="0.88" fill="#ff0052"/>
<circle cx="455.50" cy="298.60" r="0.88" fill="#ff0052"/>
<circle cx="456.80" cy="295.70" r="0.88" fill="#ff0052"/>
<circle cx="459.42" cy="295.70" r="0.88" fill="#ff0052"/>
<circle cx="462.03" cy="295.70" r="0.88" fill="#ff0052"/>
<circle cx="464.65" cy="295.70" r="0.88" fill="#ff0052"/>
<circle cx="467.27" cy="295.70" r="0.88" fill="#ff0052"/>
<circle cx="469.88" cy="295.70" r="0.88" fill="#ff0052"/>
<circle cx="472.50" cy="295.70" r="0.88" fill="#ff0052"/>
<circle cx="475.20" cy="294.25" r="0.88" fill="#ff0052"/>
<circle cx="475.20" cy="295.70" r="0.88" fill="#ff0052"/>
<circle cx="475.20" cy="297.15" r="0.88" fill="#ff0052"/>
<circle cx="477.26" cy="292.80" r="0.88" fill="#ef096d"/>
<circle cx="477.26" cy="294.25" r="0.88" fill="#ef096d"/>
<circle cx="477.26" cy="295.70" r="0.88" fill="#ef096d"/>
<circle cx="477.26" cy="297.15" r="0.88" fill="#ef096d"/>
<circle cx="477.26" cy="298.60" r="0.88" fill="#ef096d"/>
<circle cx="479.32" cy="292.80" r="0.88" fill="#de1288"/>
<circle cx="479.32" cy="294.25" r="0.88" fill="#de1288"/>
<circle cx="479.32" cy="295.70" r="0.88" fill="#de1288"/>
<circle cx="479.32" cy="297.15" r="0.88" fill="#de1288"/>
<circle cx="479.32" cy="298.60" r="0.88" fill="#de1288"/>
<circle cx="481.38" cy="294.25" r="0.88" fill="#c91ca5"/>
<circle cx="481.38" cy="295.70" r="0.88" fill="#c91ca5"/>
<circle cx="481.38" cy="297.15" r="0.88" fill="#c91ca5"/>
<circle cx="483.44" cy="294.25" r="0.88" fill="#b028c4"/>
<circle cx="483.44" cy="295.70" r="0.88" fill="#b028c4"/>
<circle cx="483.44" cy="297.15" r="0.88" fill="#b028c4"/>
<circle cx="485.50" cy="294.25" r="0.88" fill="#9634e2"/>
<circle cx="485.50" cy="295.70" r="0.88" fill="#9634e2"/>
<circle cx="485.50" cy="297.15" r="0.88" fill="#9634e2"/>
<circle cx="485.50" cy="294.25" r="0.88" fill="#9634e2"/>
<circle cx="485.50" cy="295.70" r="0.88" fill="#9634e2"/>
<circle cx="485.50" cy="297.15" r="0.88" fill="#9634e2"/>
<circle cx="487.40" cy="294.25" r="0.88" fill="#7e43ea"/>
<circle cx="487.40" cy="295.70" r="0.88" fill="#7e43ea"/>
<circle cx="487.40" cy="297.15" r="0.88" fill="#7e43ea"/>
<circle cx="489.30" cy="294.25" r="0.88" fill="#6652f1"/>
<circle cx="489.30" cy="295.70" r="0.88" fill="#6652f1"/>
<circle cx="489.30" cy="297.15" r="0.88" fill="#6652f1"/>
<circle cx="491.20" cy="292.80" r="0.88" fill="#4864f6"/>
<circle cx="491.20" cy="294.25" r="0.88" fill="#4864f6"/>
<circle cx="491.20" cy="295.70" r="0.88" fill="#4864f6"/>
<circle cx="491.20" cy="297.15" r="0.88" fill="#4864f6"/>
<circle cx="491.20" cy="298.60" r="0.88" fill="#4864f6"/>
<circle cx="493.10" cy="295.70" r="0.88" fill="#2477f9"/>
<circle cx="495.00" cy="294.25" r="0.88" fill="#008bfb"/>
<circle cx="495.00" cy="295.70" r="0.88" fill="#008bfb"/>
<circle cx="495.00" cy="297.15" r="0.88" fill="#008bfb"/>
<circle cx="493.00" cy="291.35" r="0.88" fill="#008bfb"/>
<circle cx="493.00" cy="292.80" r="0.88" fill="#008bfb"/>
<circle cx="493.00" cy="294.25" r="0.88" fill="#008bfb"/>
<circle cx="493.00" cy="295.70" r="0.88" fill="#008bfb"/>
<circle cx="493.00" cy="297.15" r="0.88" fill="#008bfb"/>
<circle cx="493.00" cy="298.60" r="0.88" fill="#008bfb"/>
<circle cx="493.00" cy="300.05" r="0.88" fill="#008bfb"/>
<circle cx="497.00" cy="295.70" r="0.88" fill="#008bfb"/>
<circle cx="508.70" cy="295.70" r="0.88" fill="#008bfb"/>
<circle cx="514.10" cy="295.70" r="0.88" fill="#008bfb"/>
<circle cx="460.20" cy="312.70" r="0.88" fill="#008bfb"/>
<circle cx="462.95" cy="312.70" r="0.88" fill="#008bfb"/>
<circle cx="465.70" cy="312.70" r="0.88" fill="#008bfb"/>
<circle cx="473.90" cy="312.70" r="0.88" fill="#008bfb"/>
<circle cx="478.60" cy="311.25" r="0.88" fill="#008bfb"/>
<circle cx="478.60" cy="312.70" r="0.88" fill="#008bfb"/>
<circle cx="478.60" cy="314.15" r="0.88" fill="#008bfb"/>
<circle cx="480.43" cy="309.80" r="0.88" fill="#1e7bf9"/>
<circle cx="480.43" cy="311.25" r="0.88" fill="#1e7bf9"/>
<circle cx="480.43" cy="312.70" r="0.88" fill="#1e7bf9"/>
<circle cx="480.43" cy="314.15" r="0.88" fill="#1e7bf9"/>
<circle cx="480.43" cy="315.60" r="0.88" fill="#1e7bf9"/>
<circle cx="482.27" cy="309.80" r="0.88" fill="#3c6af7"/>
<circle cx="482.27" cy="311.25" r="0.88" fill="#3c6af7"/>
<circle cx="482.27" cy="312.70" r="0.88" fill="#3c6af7"/>
<circle cx="482.27" cy="314.15" r="0.88" fill="#3c6af7"/>
<circle cx="482.27" cy="315.60" r="0.88" fill="#3c6af7"/>
<circle cx="484.10" cy="311.25" r="0.88" fill="#5a5af5"/>
<circle cx="484.10" cy="312.70" r="0.88" fill="#5a5af5"/>
<circle cx="484.10" cy="314.15" r="0.88" fill="#5a5af5"/>
<circle cx="484.80" cy="309.80" r="0.88" fill="#9634e2"/>
<circle cx="484.80" cy="311.25" r="0.88" fill="#9634e2"/>
<circle cx="484.80" cy="312.70" r="0.88" fill="#9634e2"/>
<circle cx="484.80" cy="314.15" r="0.88" fill="#9634e2"/>
<circle cx="484.80" cy="315.60" r="0.88" fill="#9634e2"/>
<circle cx="486.15" cy="308.35" r="0.88" fill="#9634e2"/>
<circle cx="486.15" cy="309.80" r="0.88" fill="#9634e2"/>
<circle cx="486.15" cy="311.25" r="0.88" fill="#9634e2"/>
<circle cx="486.15" cy="312.70" r="0.88" fill="#9634e2"/>
<circle cx="486.15" cy="314.15" r="0.88" fill="#9634e2"/>
<circle cx="486.15" cy="315.60" r="0.88" fill="#9634e2"/>
<circle cx="486.15" cy="317.05" r="0.88" fill="#9634e2"/>
<circle cx="487.50" cy="309.80" r="0.88" fill="#9634e2"/>
<circle cx="487.50" cy="311.25" r="0.88" fill="#9634e2"/>
<circle cx="487.50" cy="312.70" r="0.88" fill="#9634e2"/>
<circle cx="487.50" cy="314.15" r="0.88" fill="#9634e2"/>
<circle cx="487.50" cy="315.60" r="0.88" fill="#9634e2"/>
<circle cx="488.20" cy="311.25" r="0.88" fill="#d61696"/>
<circle cx="488.20" cy="312.70" r="0.88" fill="#d61696"/>
<circle cx="488.20" cy="314.15" r="0.88" fill="#d61696"/>
<circle cx="490.07" cy="311.25" r="0.88" fill="#db138e"/>
<circle cx="490.07" cy="312.70" r="0.88" fill="#db138e"/>
<circle cx="490.07" cy="314.15" r="0.88" fill="#db138e"/>
<circle cx="491.95" cy="312.70" r="0.88" fill="#e01085"/>
<circle cx="493.82" cy="312.70" r="0.88" fill="#e50e7c"/>
<circle cx="495.70" cy="312.70" r="0.88" fill="#ea0b74"/>
<circle cx="497.57" cy="311.25" r="0.88" fill="#f0086c"/>
<circle cx="497.57" cy="312.70" r="0.88" fill="#f0086c"/>
<circle cx="497.57" cy="314.15" r="0.88" fill="#f0086c"/>
<circle cx="499.45" cy="312.70" r="0.88" fill="#f50663"/>
<circle cx="501.32" cy="312.70" r="0.88" fill="#fa035a"/>
<circle cx="503.20" cy="312.70" r="0.88" fill="#ff0052"/>
<circle cx="498.00" cy="308.35" r="0.88" fill="#ff0052"/>
<circle cx="498.00" cy="309.80" r="0.88" fill="#ff0052"/>
<circle cx="498.00" cy="311.25" r="0.88" fill="#ff0052"/>
<circle cx="498.00" cy="312.70" r="0.88" fill="#ff0052"/>
<circle cx="498.00" cy="314.15" r="0.88" fill="#ff0052"/>
<circle cx="498.00" cy="315.60" r="0.88" fill="#ff0052"/>
<circle cx="498.00" cy="317.05" r="0.88" fill="#ff0052"/>
<circle cx="502.00" cy="308.35" r="0.88" fill="#ff0052"/>
<circle cx="502.00" cy="309.80" r="0.88" fill="#ff0052"/>
<circle cx="502.00" cy="311.25" r="0.88" fill="#ff0052"/>
<circle cx="502.00" cy="312.70" r="0.88" fill="#ff0052"/>
<circle cx="502.00" cy="314.15" r="0.88" fill="#ff0052"/>
<circle cx="502.00" cy="315.60" r="0.88" fill="#ff0052"/>
<circle cx="502.00" cy="317.05" r="0.88" fill="#ff0052"/>
<circle cx="476.60" cy="326.85" r="0.88" fill="#ff0052"/>
<circle cx="476.60" cy="328.30" r="0.88" fill="#ff0052"/>
<circle cx="476.60" cy="329.75" r="0.88" fill="#ff0052"/>
<circle cx="476.60" cy="331.20" r="0.88" fill="#ff0052"/>
<circle cx="476.60" cy="332.65" r="0.88" fill="#ff0052"/>
<circle cx="478.30" cy="325.40" r="0.88" fill="#ff0052"/>
<circle cx="478.30" cy="326.85" r="0.88" fill="#ff0052"/>
<circle cx="478.30" cy="328.30" r="0.88" fill="#ff0052"/>
<circle cx="478.30" cy="329.75" r="0.88" fill="#ff0052"/>
<circle cx="478.30" cy="331.20" r="0.88" fill="#ff0052"/>
<circle cx="478.30" cy="332.65" r="0.88" fill="#ff0052"/>
<circle cx="478.30" cy="334.10" r="0.88" fill="#ff0052"/>
<circle cx="480.00" cy="326.85" r="0.88" fill="#ff0052"/>
<circle cx="480.00" cy="328.30" r="0.88" fill="#ff0052"/>
<circle cx="480.00" cy="329.75" r="0.88" fill="#ff0052"/>
<circle cx="480.00" cy="331.20" r="0.88" fill="#ff0052"/>
<circle cx="480.00" cy="332.65" r="0.88" fill="#ff0052"/>
<circle cx="489.60" cy="325.40" r="0.88" fill="#008bfb"/>
<circle cx="489.60" cy="326.85" r="0.88" fill="#008bfb"/>
<circle cx="489.60" cy="328.30" r="0.88" fill="#008bfb"/>
<circle cx="489.60" cy="329.75" r="0.88" fill="#008bfb"/>
<circle cx="489.60" cy="331.20" r="0.88" fill="#008bfb"/>
<circle cx="489.60" cy="332.65" r="0.88" fill="#008bfb"/>
<circle cx="489.60" cy="334.10" r="0.88" fill="#008bfb"/>
<circle cx="497.70" cy="329.75" r="0.88" fill="#008bfb"/>
<circle cx="499.45" cy="328.30" r="0.88" fill="#008bfb"/>
<circle cx="499.45" cy="329.75" r="0.88" fill="#008bfb"/>
<circle cx="499.45" cy="331.20" r="0.88" fill="#008bfb"/>
<circle cx="501.20" cy="329.75" r="0.88" fill="#008bfb"/>
<circle cx="470.50" cy="346.20" r="0.88" fill="#008bfb"/>
<circle cx="476.60" cy="344.75" r="0.88" fill="#008bfb"/>
<circle cx="476.60" cy="346.20" r="0.88" fill="#008bfb"/>
<circle cx="476.60" cy="347.65" r="0.88" fill="#008bfb"/>
<circle cx="477.95" cy="343.30" r="0.88" fill="#008bfb"/>
<circle cx="477.95" cy="344.75" r="0.88" fill="#008bfb"/>
<circle cx="477.95" cy="346.20" r="0.88" fill="#008bfb"/>
<circle cx="477.95" cy="347.65" r="0.88" fill="#008bfb"/>
<circle cx="477.95" cy="349.10" r="0.88" fill="#008bfb"/>
<circle cx="479.30" cy="344.75" r="0.88" fill="#008bfb"/>
<circle cx="479.30" cy="346.20" r="0.88" fill="#008bfb"/>
<circle cx="479.30" cy="347.65" r="0.88" fill="#008bfb"/>
<circle cx="482.70" cy="343.30" r="0.88" fill="#9634e2"/>
<circle cx="482.70" cy="344.75" r="0.88" fill="#9634e2"/>
<circle cx="482.70" cy="346.20" r="0.88" fill="#9634e2"/>
<circle cx="482.70" cy="347.65" r="0.88" fill="#9634e2"/>
<circle cx="482.70" cy="349.10" r="0.88" fill="#9634e2"/>
<circle cx="484.80" cy="343.30" r="0.88" fill="#9634e2"/>
<circle cx="484.80" cy="344.75" r="0.88" fill="#9634e2"/>
<circle cx="484.80" cy="346.20" r="0.88" fill="#9634e2"/>
<circle cx="484.80" cy="347.65" r="0.88" fill="#9634e2"/>
<circle cx="484.80" cy="349.10" r="0.88" fill="#9634e2"/>
<circle cx="489.60" cy="341.85" r="0.88" fill="#d61696"/>
<circle cx="489.60" cy="343.30" r="0.88" fill="#d61696"/>
<circle cx="489.60" cy="344.75" r="0.88" fill="#d61696"/>
<circle cx="489.60" cy="346.20" r="0.88" fill="#d61696"/>
<circle cx="489.60" cy="347.65" r="0.88" fill="#d61696"/>
<circle cx="489.60" cy="349.10" r="0.88" fill="#d61696"/>
<circle cx="489.60" cy="350.55" r="0.88" fill="#d61696"/>
<circle cx="494.30" cy="344.75" r="0.88" fill="#ff0052"/>
<circle cx="494.30" cy="346.20" r="0.88" fill="#ff0052"/>
<circle cx="494.30" cy="347.65" r="0.88" fill="#ff0052"/>
<circle cx="495.65" cy="343.30" r="0.88" fill="#ff0052"/>
<circle cx="495.65" cy="344.75" r="0.88" fill="#ff0052"/>
<circle cx="495.65" cy="346.20" r="0.88" fill="#ff0052"/>
<circle cx="495.65" cy="347.65" r="0.88" fill="#ff0052"/>
<circle cx="495.65" cy="349.10" r="0.88" fill="#ff0052"/>
<circle cx="497.00" cy="344.75" r="0.88" fill="#ff0052"/>
<circle cx="497.00" cy="346.20" r="0.88" fill="#ff0052"/>
<circle cx="497.00" cy="347.65" r="0.88" fill="#ff0052"/>
<circle cx="504.60" cy="346.20" r="0.88" fill="#ff0052"/>
<circle cx="476.60" cy="361.65" r="0.88" fill="#ff0052"/>
<circle cx="476.60" cy="363.10" r="0.88" fill="#ff0052"/>
<circle cx="476.60" cy="364.55" r="0.88" fill="#ff0052"/>
<circle cx="478.87" cy="361.65" r="0.88" fill="#ff0052"/>
<circle cx="478.87" cy="363.10" r="0.88" fill="#ff0052"/>
<circle cx="478.87" cy="364.55" r="0.88" fill="#ff0052"/>
<circle cx="481.13" cy="358.75" r="0.88" fill="#ff0052"/>
<circle cx="481.13" cy="360.20" r="0.88" fill="#ff0052"/>
<circle cx="481.13" cy="361.65" r="0.88" fill="#ff0052"/>
<circle cx="481.13" cy="363.10" r="0.88" fill="#ff0052"/>
<circle cx="481.13" cy="364.55" r="0.88" fill="#ff0052"/>
<circle cx="481.13" cy="366.00" r="0.88" fill="#ff0052"/>
<circle cx="481.13" cy="367.45" r="0.88" fill="#ff0052"/>
<circle cx="483.40" cy="363.10" r="0.88" fill="#ff0052"/>
<circle cx="484.10" cy="361.65" r="0.88" fill="#9634e2"/>
<circle cx="484.10" cy="363.10" r="0.88" fill="#9634e2"/>
<circle cx="484.10" cy="364.55" r="0.88" fill="#9634e2"/>
<circle cx="485.83" cy="361.65" r="0.88" fill="#873ee7"/>
<circle cx="485.83" cy="363.10" r="0.88" fill="#873ee7"/>
<circle cx="485.83" cy="364.55" r="0.88" fill="#873ee7"/>
<circle cx="487.55" cy="361.65" r="0.88" fill="#7847ec"/>
<circle cx="487.55" cy="363.10" r="0.88" fill="#7847ec"/>
<circle cx="487.55" cy="364.55" r="0.88" fill="#7847ec"/>
<circle cx="489.27" cy="361.65" r="0.88" fill="#6950f0"/>
<circle cx="489.27" cy="363.10" r="0.88" fill="#6950f0"/>
<circle cx="489.27" cy="364.55" r="0.88" fill="#6950f0"/>
<circle cx="491.00" cy="361.65" r="0.88" fill="#5a5af5"/>
<circle cx="491.00" cy="363.10" r="0.88" fill="#5a5af5"/>
<circle cx="491.00" cy="364.55" r="0.88" fill="#5a5af5"/>
<circle cx="491.00" cy="363.10" r="0.88" fill="#008bfb"/>
<circle cx="493.23" cy="361.65" r="0.88" fill="#008bfb"/>
<circle cx="493.23" cy="363.10" r="0.88" fill="#008bfb"/>
<circle cx="493.23" cy="364.55" r="0.88" fill="#008bfb"/>
<circle cx="495.47" cy="361.65" r="0.88" fill="#008bfb"/>
<circle cx="495.47" cy="363.10" r="0.88" fill="#008bfb"/>
<circle cx="495.47" cy="364.55" r="0.88" fill="#008bfb"/>
<circle cx="497.70" cy="363.10" r="0.88" fill="#008bfb"/>
<defs><linearGradient id="g1571" x1="0" y1="0" x2="0" y2="1"><stop offset="0" stop-color="#ff0052"/><stop offset="0.4" stop-color="#e01e8e"/><stop offset="0.65" stop-color="#9a48d8"/><stop offset="0.85" stop-color="#3f7af0"/><stop offset="1" stop-color="#008bfb"/></linearGradient></defs>
<rect x="521.30" y="279.00" width="1.4" height="101.80" fill="url(#g1571)"/>
<text x="524.60" y="281.45" font-size="5.41" stroke="#333" stroke-width="0.12" fill="#333" textLength="11.72" lengthAdjust="spacingAndGlyphs">High</text>
<text x="524.60" y="383.55" font-size="5.41" stroke="#333" stroke-width="0.12" fill="#333" textLength="10.04" lengthAdjust="spacingAndGlyphs">Low</text>
<text transform="translate(542.70,331.50) rotate(-90)" x="-21.51" y="0" font-size="6.68" stroke="#333" stroke-width="0.12" fill="#333" textLength="43.02" lengthAdjust="spacingAndGlyphs">Feature value</text>
<line x1="89.80" y1="430.00" x2="89.80" y2="531.00" stroke="#6b6b6b" stroke-width="0.7"/>
<line x1="89.80" y1="531.00" x2="171.20" y2="531.00" stroke="#6b6b6b" stroke-width="0.7"/>
<rect x="90.10" y="440.70" width="76.00" height="11.50" fill="#738899"/>
<rect x="90.10" y="457.80" width="42.70" height="11.40" fill="#738899"/>
<rect x="90.10" y="474.60" width="34.90" height="11.40" fill="#738899"/>
<rect x="90.10" y="491.00" width="34.90" height="11.50" fill="#738899"/>
<rect x="90.10" y="508.00" width="29.90" height="11.60" fill="#738899"/>
<text x="40.74" y="449.85" font-size="6.68" stroke="#333333" stroke-width="0.12" fill="#333333" textLength="44.76" lengthAdjust="spacingAndGlyphs">Mood_anxious</text>
<text x="23.78" y="466.90" font-size="6.68" stroke="#333333" stroke-width="0.12" fill="#333333" textLength="61.72" lengthAdjust="spacingAndGlyphs">Mood_healthworker</text>
<text x="28.59" y="483.70" font-size="6.68" stroke="#333333" stroke-width="0.12" fill="#333333" textLength="56.91" lengthAdjust="spacingAndGlyphs">Sleep_satisfaction</text>
<text x="48.42" y="496.80" font-size="6.68" stroke="#333333" stroke-width="0.12" fill="#333333" textLength="37.08" lengthAdjust="spacingAndGlyphs">ScreenTime</text>
<text x="49.25" y="504.50" font-size="6.68" stroke="#333333" stroke-width="0.12" fill="#333333" textLength="36.25" lengthAdjust="spacingAndGlyphs">satisfaction</text>
<text x="28.28" y="517.20" font-size="6.68" stroke="#333333" stroke-width="0.12" fill="#333333" textLength="57.22" lengthAdjust="spacingAndGlyphs">Connect_chattime</text>
<line x1="89.80" y1="531.00" x2="89.80" y2="533.00" stroke="#6b6b6b" stroke-width="0.6"/>
<text x="85.59" y="539.02" font-size="5.62" stroke="#3a3a3a" stroke-width="0.1" fill="#3a3a3a" textLength="8.43" lengthAdjust="spacingAndGlyphs">0.0</text>
<line x1="118.50" y1="531.00" x2="118.50" y2="533.00" stroke="#6b6b6b" stroke-width="0.6"/>
<text x="114.29" y="539.02" font-size="5.62" stroke="#3a3a3a" stroke-width="0.1" fill="#3a3a3a" textLength="8.43" lengthAdjust="spacingAndGlyphs">0.5</text>
<line x1="147.20" y1="531.00" x2="147.20" y2="533.00" stroke="#6b6b6b" stroke-width="0.6"/>
<text x="142.99" y="539.02" font-size="5.62" stroke="#3a3a3a" stroke-width="0.1" fill="#3a3a3a" textLength="8.43" lengthAdjust="spacingAndGlyphs">1.0</text>
<text x="147.00" y="429.73" font-size="10.92" font-weight="bold" stroke="#000" stroke-width="0.35" fill="#000" textLength="58.40" lengthAdjust="spacingAndGlyphs">Wellbeing</text>
<text transform="translate(12.14,481.00) rotate(-90)" x="-12.36" y="0" font-size="10.39" font-weight="bold" stroke="#000" stroke-width="0.3" fill="#000" textLength="24.72" lengthAdjust="spacingAndGlyphs">P-14</text>
<line x1="224.60" y1="429.80" x2="224.60" y2="531.00" stroke="#999999" stroke-width="0.8"/>
<line x1="186.70" y1="531.00" x2="251.40" y2="531.00" stroke="#6b6b6b" stroke-width="0.7"/>
<line x1="200.00" y1="531.00" x2="200.00" y2="533.00" stroke="#6b6b6b" stroke-width="0.6"/>
<text x="196.09" y="539.02" font-size="5.62" stroke="#3a3a3a" stroke-width="0.1" fill="#3a3a3a" textLength="7.81" lengthAdjust="spacingAndGlyphs">−1</text>
<line x1="224.60" y1="531.00" x2="224.60" y2="533.00" stroke="#6b6b6b" stroke-width="0.6"/>
<text x="222.91" y="539.02" font-size="5.62" stroke="#3a3a3a" stroke-width="0.1" fill="#3a3a3a" textLength="3.37" lengthAdjust="spacingAndGlyphs">0</text>
<line x1="249.30" y1="531.00" x2="249.30" y2="533.00" stroke="#6b6b6b" stroke-width="0.6"/>
<text x="247.61" y="539.02" font-size="5.62" stroke="#3a3a3a" stroke-width="0.1" fill="#3a3a3a" textLength="3.37" lengthAdjust="spacingAndGlyphs">1</text>
<circle cx="189.50" cy="446.45" r="0.88" fill="#ff0052"/>
<circle cx="200.50" cy="446.45" r="0.88" fill="#ff0052"/>
<circle cx="206.60" cy="446.45" r="0.88" fill="#ff0052"/>
<circle cx="209.30" cy="446.45" r="0.88" fill="#ff0052"/>
<circle cx="212.00" cy="446.45" r="0.88" fill="#ff0052"/>
<circle cx="213.67" cy="445.00" r="0.88" fill="#f9035c"/>
<circle cx="213.67" cy="446.45" r="0.88" fill="#f9035c"/>
<circle cx="213.67" cy="447.90" r="0.88" fill="#f9035c"/>
<circle cx="215.34" cy="445.00" r="0.88" fill="#f30665"/>
<circle cx="215.34" cy="446.45" r="0.88" fill="#f30665"/>
<circle cx="215.34" cy="447.90" r="0.88" fill="#f30665"/>
<circle cx="217.01" cy="445.00" r="0.88" fill="#ed096f"/>
<circle cx="217.01" cy="446.45" r="0.88" fill="#ed096f"/>
<circle cx="217.01" cy="447.90" r="0.88" fill="#ed096f"/>
<circle cx="218.69" cy="445.00" r="0.88" fill="#e80d79"/>
<circle cx="218.69" cy="446.45" r="0.88" fill="#e80d79"/>
<circle cx="218.69" cy="447.90" r="0.88" fill="#e80d79"/>
<circle cx="220.36" cy="445.00" r="0.88" fill="#e21083"/>
<circle cx="220.36" cy="446.45" r="0.88" fill="#e21083"/>
<circle cx="220.36" cy="447.90" r="0.88" fill="#e21083"/>
<circle cx="222.03" cy="443.55" r="0.88" fill="#dc138c"/>
<circle cx="222.03" cy="445.00" r="0.88" fill="#dc138c"/>
<circle cx="222.03" cy="446.45" r="0.88" fill="#dc138c"/>
<circle cx="222.03" cy="447.90" r="0.88" fill="#dc138c"/>
<circle cx="222.03" cy="449.35" r="0.88" fill="#dc138c"/>
<circle cx="223.70" cy="446.45" r="0.88" fill="#d61696"/>
<circle cx="220.00" cy="440.65" r="0.88" fill="#d61696"/>
<circle cx="220.00" cy="442.10" r="0.88" fill="#d61696"/>
<circle cx="220.00" cy="443.55" r="0.88" fill="#d61696"/>
<circle cx="220.00" cy="445.00" r="0.88" fill="#d61696"/>
<circle cx="220.00" cy="446.45" r="0.88" fill="#d61696"/>
<circle cx="220.00" cy="447.90" r="0.88" fill="#d61696"/>
<circle cx="220.00" cy="449.35" r="0.88" fill="#d61696"/>
<circle cx="220.00" cy="450.80" r="0.88" fill="#d61696"/>
<circle cx="220.00" cy="452.25" r="0.88" fill="#d61696"/>
<circle cx="225.00" cy="445.00" r="0.88" fill="#9634e2"/>
<circle cx="225.00" cy="446.45" r="0.88" fill="#9634e2"/>
<circle cx="225.00" cy="447.90" r="0.88" fill="#9634e2"/>
<circle cx="226.72" cy="446.45" r="0.88" fill="#9634e2"/>
<circle cx="228.43" cy="445.00" r="0.88" fill="#9634e2"/>
<circle cx="228.43" cy="446.45" r="0.88" fill="#9634e2"/>
<circle cx="228.43" cy="447.90" r="0.88" fill="#9634e2"/>
<circle cx="230.15" cy="446.45" r="0.88" fill="#9634e2"/>
<circle cx="231.87" cy="445.00" r="0.88" fill="#9634e2"/>
<circle cx="231.87" cy="446.45" r="0.88" fill="#9634e2"/>
<circle cx="231.87" cy="447.90" r="0.88" fill="#9634e2"/>
<circle cx="233.58" cy="446.45" r="0.88" fill="#9634e2"/>
<circle cx="235.30" cy="445.00" r="0.88" fill="#9634e2"/>
<circle cx="235.30" cy="446.45" r="0.88" fill="#9634e2"/>
<circle cx="235.30" cy="447.90" r="0.88" fill="#9634e2"/>
<circle cx="238.70" cy="446.45" r="0.88" fill="#008bfb"/>
<circle cx="241.27" cy="446.45" r="0.88" fill="#008bfb"/>
<circle cx="243.85" cy="445.00" r="0.88" fill="#008bfb"/>
<circle cx="243.85" cy="446.45" r="0.88" fill="#008bfb"/>
<circle cx="243.85" cy="447.90" r="0.88" fill="#008bfb"/>
<circle cx="246.43" cy="445.00" r="0.88" fill="#008bfb"/>
<circle cx="246.43" cy="446.45" r="0.88" fill="#008bfb"/>
<circle cx="246.43" cy="447.90" r="0.88" fill="#008bfb"/>
<circle cx="249.00" cy="446.45" r="0.88" fill="#008bfb"/>
<circle cx="212.70" cy="460.60" r="0.88" fill="#008bfb"/>
<circle cx="212.70" cy="462.05" r="0.88" fill="#008bfb"/>
<circle cx="212.70" cy="463.50" r="0.88" fill="#008bfb"/>
<circle cx="212.70" cy="464.95" r="0.88" fill="#008bfb"/>
<circle cx="212.70" cy="466.40" r="0.88" fill="#008bfb"/>
<circle cx="219.60" cy="462.05" r="0.88" fill="#008bfb"/>
<circle cx="219.60" cy="463.50" r="0.88" fill="#008bfb"/>
<circle cx="219.60" cy="464.95" r="0.88" fill="#008bfb"/>
<circle cx="225.70" cy="460.60" r="0.88" fill="#ff0052"/>
<circle cx="225.70" cy="462.05" r="0.88" fill="#ff0052"/>
<circle cx="225.70" cy="463.50" r="0.88" fill="#ff0052"/>
<circle cx="225.70" cy="464.95" r="0.88" fill="#ff0052"/>
<circle cx="225.70" cy="466.40" r="0.88" fill="#ff0052"/>
<circle cx="227.53" cy="459.15" r="0.88" fill="#ff0052"/>
<circle cx="227.53" cy="460.60" r="0.88" fill="#ff0052"/>
<circle cx="227.53" cy="462.05" r="0.88" fill="#ff0052"/>
<circle cx="227.53" cy="463.50" r="0.88" fill="#ff0052"/>
<circle cx="227.53" cy="464.95" r="0.88" fill="#ff0052"/>
<circle cx="227.53" cy="466.40" r="0.88" fill="#ff0052"/>
<circle cx="227.53" cy="467.85" r="0.88" fill="#ff0052"/>
<circle cx="229.37" cy="459.15" r="0.88" fill="#ff0052"/>
<circle cx="229.37" cy="460.60" r="0.88" fill="#ff0052"/>
<circle cx="229.37" cy="462.05" r="0.88" fill="#ff0052"/>
<circle cx="229.37" cy="463.50" r="0.88" fill="#ff0052"/>
<circle cx="229.37" cy="464.95" r="0.88" fill="#ff0052"/>
<circle cx="229.37" cy="466.40" r="0.88" fill="#ff0052"/>
<circle cx="229.37" cy="467.85" r="0.88" fill="#ff0052"/>
<circle cx="231.20" cy="460.60" r="0.88" fill="#ff0052"/>
<circle cx="231.20" cy="462.05" r="0.88" fill="#ff0052"/>
<circle cx="231.20" cy="463.50" r="0.88" fill="#ff0052"/>
<circle cx="231.20" cy="464.95" r="0.88" fill="#ff0052"/>
<circle cx="231.20" cy="466.40" r="0.88" fill="#ff0052"/>
<circle cx="209.30" cy="480.30" r="0.88" fill="#008bfb"/>
<circle cx="212.03" cy="480.30" r="0.88" fill="#008bfb"/>
<circle cx="214.77" cy="480.30" r="0.88" fill="#008bfb"/>
<circle cx="217.50" cy="480.30" r="0.88" fill="#008bfb"/>
<circle cx="219.60" cy="475.95" r="0.88" fill="#9634e2"/>
<circle cx="219.60" cy="477.40" r="0.88" fill="#9634e2"/>
<circle cx="219.60" cy="478.85" r="0.88" fill="#9634e2"/>
<circle cx="219.60" cy="480.30" r="0.88" fill="#9634e2"/>
<circle cx="219.60" cy="481.75" r="0.88" fill="#9634e2"/>
<circle cx="219.60" cy="483.20" r="0.88" fill="#9634e2"/>
<circle cx="219.60" cy="484.65" r="0.88" fill="#9634e2"/>
<circle cx="225.00" cy="477.40" r="0.88" fill="#d61696"/>
<circle cx="225.00" cy="478.85" r="0.88" fill="#d61696"/>
<circle cx="225.00" cy="480.30" r="0.88" fill="#d61696"/>
<circle cx="225.00" cy="481.75" r="0.88" fill="#d61696"/>
<circle cx="225.00" cy="483.20" r="0.88" fill="#d61696"/>
<circle cx="226.37" cy="474.50" r="0.88" fill="#d61696"/>
<circle cx="226.37" cy="475.95" r="0.88" fill="#d61696"/>
<circle cx="226.37" cy="477.40" r="0.88" fill="#d61696"/>
<circle cx="226.37" cy="478.85" r="0.88" fill="#d61696"/>
<circle cx="226.37" cy="480.30" r="0.88" fill="#d61696"/>
<circle cx="226.37" cy="481.75" r="0.88" fill="#d61696"/>
<circle cx="226.37" cy="483.20" r="0.88" fill="#d61696"/>
<circle cx="226.37" cy="484.65" r="0.88" fill="#d61696"/>
<circle cx="226.37" cy="486.10" r="0.88" fill="#d61696"/>
<circle cx="227.73" cy="474.50" r="0.88" fill="#d61696"/>
<circle cx="227.73" cy="475.95" r="0.88" fill="#d61696"/>
<circle cx="227.73" cy="477.40" r="0.88" fill="#d61696"/>
<circle cx="227.73" cy="478.85" r="0.88" fill="#d61696"/>
<circle cx="227.73" cy="480.30" r="0.88" fill="#d61696"/>
<circle cx="227.73" cy="481.75" r="0.88" fill="#d61696"/>
<circle cx="227.73" cy="483.20" r="0.88" fill="#d61696"/>
<circle cx="227.73" cy="484.65" r="0.88" fill="#d61696"/>
<circle cx="227.73" cy="486.10" r="0.88" fill="#d61696"/>
<circle cx="229.10" cy="475.95" r="0.88" fill="#d61696"/>
<circle cx="229.10" cy="477.40" r="0.88" fill="#d61696"/>
<circle cx="229.10" cy="478.85" r="0.88" fill="#d61696"/>
<circle cx="229.10" cy="480.30" r="0.88" fill="#d61696"/>
<circle cx="229.10" cy="481.75" r="0.88" fill="#d61696"/>
<circle cx="229.10" cy="483.20" r="0.88" fill="#d61696"/>
<circle cx="229.10" cy="484.65" r="0.88" fill="#d61696"/>
<circle cx="231.80" cy="480.30" r="0.88" fill="#ff0052"/>
<circle cx="234.10" cy="478.85" r="0.88" fill="#ff0052"/>
<circle cx="234.10" cy="480.30" r="0.88" fill="#ff0052"/>
<circle cx="234.10" cy="481.75" r="0.88" fill="#ff0052"/>
<circle cx="236.40" cy="478.85" r="0.88" fill="#ff0052"/>
<circle cx="236.40" cy="480.30" r="0.88" fill="#ff0052"/>
<circle cx="236.40" cy="481.75" r="0.88" fill="#ff0052"/>
<circle cx="238.70" cy="480.30" r="0.88" fill="#ff0052"/>
<circle cx="210.00" cy="496.75" r="0.88" fill="#ff0052"/>
<circle cx="212.27" cy="496.75" r="0.88" fill="#ff0052"/>
<circle cx="214.53" cy="496.75" r="0.88" fill="#ff0052"/>
<circle cx="216.80" cy="496.75" r="0.88" fill="#ff0052"/>
<circle cx="218.90" cy="495.30" r="0.88" fill="#d61696"/>
<circle cx="218.90" cy="496.75" r="0.88" fill="#d61696"/>
<circle cx="218.90" cy="498.20" r="0.88" fill="#d61696"/>
<circle cx="220.43" cy="495.30" r="0.88" fill="#d61696"/>
<circle cx="220.43" cy="496.75" r="0.88" fill="#d61696"/>
<circle cx="220.43" cy="498.20" r="0.88" fill="#d61696"/>
<circle cx="221.95" cy="495.30" r="0.88" fill="#d61696"/>
<circle cx="221.95" cy="496.75" r="0.88" fill="#d61696"/>
<circle cx="221.95" cy="498.20" r="0.88" fill="#d61696"/>
<circle cx="223.47" cy="495.30" r="0.88" fill="#d61696"/>
<circle cx="223.47" cy="496.75" r="0.88" fill="#d61696"/>
<circle cx="223.47" cy="498.20" r="0.88" fill="#d61696"/>
<circle cx="225.00" cy="496.75" r="0.88" fill="#d61696"/>
<circle cx="225.00" cy="495.30" r="0.88" fill="#9634e2"/>
<circle cx="225.00" cy="496.75" r="0.88" fill="#9634e2"/>
<circle cx="225.00" cy="498.20" r="0.88" fill="#9634e2"/>
<circle cx="226.70" cy="495.30" r="0.88" fill="#873de7"/>
<circle cx="226.70" cy="496.75" r="0.88" fill="#873de7"/>
<circle cx="226.70" cy="498.20" r="0.88" fill="#873de7"/>
<circle cx="228.40" cy="495.30" r="0.88" fill="#7847ec"/>
<circle cx="228.40" cy="496.75" r="0.88" fill="#7847ec"/>
<circle cx="228.40" cy="498.20" r="0.88" fill="#7847ec"/>
<circle cx="230.10" cy="496.75" r="0.88" fill="#6951f0"/>
<circle cx="231.80" cy="495.30" r="0.88" fill="#5a5af5"/>
<circle cx="231.80" cy="496.75" r="0.88" fill="#5a5af5"/>
<circle cx="231.80" cy="498.20" r="0.88" fill="#5a5af5"/>
<circle cx="234.60" cy="496.75" r="0.88" fill="#008bfb"/>
<circle cx="218.20" cy="510.90" r="0.88" fill="#008bfb"/>
<circle cx="218.20" cy="512.35" r="0.88" fill="#008bfb"/>
<circle cx="218.20" cy="513.80" r="0.88" fill="#008bfb"/>
<circle cx="218.20" cy="515.25" r="0.88" fill="#008bfb"/>
<circle cx="218.20" cy="516.70" r="0.88" fill="#008bfb"/>
<circle cx="220.03" cy="509.45" r="0.88" fill="#008bfb"/>
<circle cx="220.03" cy="510.90" r="0.88" fill="#008bfb"/>
<circle cx="220.03" cy="512.35" r="0.88" fill="#008bfb"/>
<circle cx="220.03" cy="513.80" r="0.88" fill="#008bfb"/>
<circle cx="220.03" cy="515.25" r="0.88" fill="#008bfb"/>
<circle cx="220.03" cy="516.70" r="0.88" fill="#008bfb"/>
<circle cx="220.03" cy="518.15" r="0.88" fill="#008bfb"/>
<circle cx="221.87" cy="509.45" r="0.88" fill="#008bfb"/>
<circle cx="221.87" cy="510.90" r="0.88" fill="#008bfb"/>
<circle cx="221.87" cy="512.35" r="0.88" fill="#008bfb"/>
<circle cx="221.87" cy="513.80" r="0.88" fill="#008bfb"/>
<circle cx="221.87" cy="515.25" r="0.88" fill="#008bfb"/>
<circle cx="221.87" cy="516.70" r="0.88" fill="#008bfb"/>
<circle cx="221.87" cy="518.15" r="0.88" fill="#008bfb"/>
<circle cx="223.70" cy="510.90" r="0.88" fill="#008bfb"/>
<circle cx="223.70" cy="512.35" r="0.88" fill="#008bfb"/>
<circle cx="223.70" cy="513.80" r="0.88" fill="#008bfb"/>
<circle cx="223.70" cy="515.25" r="0.88" fill="#008bfb"/>
<circle cx="223.70" cy="516.70" r="0.88" fill="#008bfb"/>
<circle cx="223.70" cy="513.80" r="0.88" fill="#5a5af5"/>
<circle cx="225.32" cy="512.35" r="0.88" fill="#724bed"/>
<circle cx="225.32" cy="513.80" r="0.88" fill="#724bed"/>
<circle cx="225.32" cy="515.25" r="0.88" fill="#724bed"/>
<circle cx="226.94" cy="512.35" r="0.88" fill="#8a3ce6"/>
<circle cx="226.94" cy="513.80" r="0.88" fill="#8a3ce6"/>
<circle cx="226.94" cy="515.25" r="0.88" fill="#8a3ce6"/>
<circle cx="228.56" cy="512.35" r="0.88" fill="#a32ed3"/>
<circle cx="228.56" cy="513.80" r="0.88" fill="#a32ed3"/>
<circle cx="228.56" cy="515.25" r="0.88" fill="#a32ed3"/>
<circle cx="230.18" cy="512.35" r="0.88" fill="#bc22b4"/>
<circle cx="230.18" cy="513.80" r="0.88" fill="#bc22b4"/>
<circle cx="230.18" cy="515.25" r="0.88" fill="#bc22b4"/>
<circle cx="231.80" cy="512.35" r="0.88" fill="#d61696"/>
<circle cx="231.80" cy="513.80" r="0.88" fill="#d61696"/>
<circle cx="231.80" cy="515.25" r="0.88" fill="#d61696"/>
<circle cx="234.60" cy="513.80" r="0.88" fill="#ff0052"/>
<circle cx="237.30" cy="513.80" r="0.88" fill="#ff0052"/>
<circle cx="243.00" cy="513.80" r="0.88" fill="#ff0052"/>
<defs><linearGradient id="g1819" x1="0" y1="0" x2="0" y2="1"><stop offset="0" stop-color="#ff0052"/><stop offset="0.4" stop-color="#e01e8e"/><stop offset="0.65" stop-color="#9a48d8"/><stop offset="0.85" stop-color="#3f7af0"/><stop offset="1" stop-color="#008bfb"/></linearGradient></defs>
<rect x="255.20" y="429.80" width="1.4" height="100.80" fill="url(#g1819)"/>
<text x="258.50" y="432.25" font-size="5.41" stroke="#333" stroke-width="0.12" fill="#333" textLength="11.72" lengthAdjust="spacingAndGlyphs">High</text>
<text x="258.50" y="533.35" font-size="5.41" stroke="#333" stroke-width="0.12" fill="#333" textLength="10.04" lengthAdjust="spacingAndGlyphs">Low</text>
<text transform="translate(276.20,481.50) rotate(-90)" x="-21.51" y="0" font-size="6.68" stroke="#333" stroke-width="0.12" fill="#333" textLength="43.02" lengthAdjust="spacingAndGlyphs">Feature value</text>
<line x1="352.00" y1="421.60" x2="352.00" y2="518.30" stroke="#6b6b6b" stroke-width="0.7"/>
<line x1="352.00" y1="518.30" x2="429.80" y2="518.30" stroke="#6b6b6b" stroke-width="0.7"/>
<rect x="352.30" y="431.80" width="73.70" height="10.90" fill="#738899"/>
<rect x="352.30" y="448.30" width="70.40" height="11.00" fill="#738899"/>
<rect x="352.30" y="464.90" width="59.70" height="10.90" fill="#738899"/>
<rect x="352.30" y="481.00" width="46.70" height="11.00" fill="#738899"/>
<rect x="352.30" y="497.20" width="36.70" height="10.90" fill="#738899"/>
<text x="316.50" y="437.73" font-size="6.47" stroke="#333333" stroke-width="0.12" fill="#333333" textLength="30.50" lengthAdjust="spacingAndGlyphs">past_day_</text>
<text x="289.08" y="445.43" font-size="6.47" stroke="#333333" stroke-width="0.12" fill="#333333" textLength="57.92" lengthAdjust="spacingAndGlyphs">exercise_moderate</text>
<text x="303.66" y="457.83" font-size="6.47" stroke="#333333" stroke-width="0.12" fill="#333333" textLength="43.34" lengthAdjust="spacingAndGlyphs">Mood_anxious</text>
<text x="311.10" y="470.83" font-size="6.47" stroke="#333333" stroke-width="0.12" fill="#333333" textLength="35.90" lengthAdjust="spacingAndGlyphs">ScreenTime</text>
<text x="299.30" y="478.53" font-size="6.47" stroke="#333333" stroke-width="0.12" fill="#333333" textLength="47.70" lengthAdjust="spacingAndGlyphs">socialyesterday</text>
<text x="301.72" y="490.53" font-size="6.47" stroke="#333333" stroke-width="0.12" fill="#333333" textLength="45.28" lengthAdjust="spacingAndGlyphs">Sleep_bedtime</text>
<text x="283.46" y="506.68" font-size="6.47" stroke="#333333" stroke-width="0.12" fill="#333333" textLength="63.54" lengthAdjust="spacingAndGlyphs">Exercise_satisfaction</text>
<line x1="352.00" y1="518.30" x2="352.00" y2="520.30" stroke="#6b6b6b" stroke-width="0.6"/>
<text x="347.79" y="527.72" font-size="5.62" stroke="#3a3a3a" stroke-width="0.1" fill="#3a3a3a" textLength="8.43" lengthAdjust="spacingAndGlyphs">0.0</text>
<line x1="378.90" y1="518.30" x2="378.90" y2="520.30" stroke="#6b6b6b" stroke-width="0.6"/>
<text x="374.69" y="527.72" font-size="5.62" stroke="#3a3a3a" stroke-width="0.1" fill="#3a3a3a" textLength="8.43" lengthAdjust="spacingAndGlyphs">0.1</text>
<line x1="405.80" y1="518.30" x2="405.80" y2="520.30" stroke="#6b6b6b" stroke-width="0.6"/>
<text x="401.59" y="527.72" font-size="5.62" stroke="#3a3a3a" stroke-width="0.1" fill="#3a3a3a" textLength="8.43" lengthAdjust="spacingAndGlyphs">0.2</text>
<text x="355.55" y="536.60" font-size="6.68" font-weight="bold" stroke="#111" stroke-width="0.2" fill="#111" textLength="70.71" lengthAdjust="spacingAndGlyphs">mean(|SHAP value|)</text>
<text x="410.30" y="421.63" font-size="10.92" font-weight="bold" stroke="#000" stroke-width="0.35" fill="#000" textLength="50.30" lengthAdjust="spacingAndGlyphs">Empathy</text>
<line x1="478.60" y1="421.60" x2="478.60" y2="518.30" stroke="#999999" stroke-width="0.8"/>
<line x1="444.40" y1="518.30" x2="508.00" y2="518.30" stroke="#6b6b6b" stroke-width="0.7"/>
<line x1="448.40" y1="518.30" x2="448.40" y2="520.30" stroke="#6b6b6b" stroke-width="0.6"/>
<text x="444.49" y="527.72" font-size="5.62" stroke="#3a3a3a" stroke-width="0.1" fill="#3a3a3a" textLength="7.81" lengthAdjust="spacingAndGlyphs">−1</text>
<line x1="478.60" y1="518.30" x2="478.60" y2="520.30" stroke="#6b6b6b" stroke-width="0.6"/>
<text x="476.91" y="527.72" font-size="5.62" stroke="#3a3a3a" stroke-width="0.1" fill="#3a3a3a" textLength="3.37" lengthAdjust="spacingAndGlyphs">0</text>
<line x1="508.00" y1="518.30" x2="508.00" y2="520.30" stroke="#6b6b6b" stroke-width="0.6"/>
<text x="506.31" y="527.72" font-size="5.62" stroke="#3a3a3a" stroke-width="0.1" fill="#3a3a3a" textLength="3.37" lengthAdjust="spacingAndGlyphs">1</text>
<text x="456.31" y="536.60" font-size="6.68" font-weight="bold" stroke="#111" stroke-width="0.2" fill="#111" textLength="40.77" lengthAdjust="spacingAndGlyphs">SHAP value</text>
<circle cx="470.30" cy="432.90" r="0.88" fill="#008bfb"/>
<circle cx="470.30" cy="434.35" r="0.88" fill="#008bfb"/>
<circle cx="470.30" cy="435.80" r="0.88" fill="#008bfb"/>
<circle cx="470.30" cy="437.25" r="0.88" fill="#008bfb"/>
<circle cx="470.30" cy="438.70" r="0.88" fill="#008bfb"/>
<circle cx="470.30" cy="440.15" r="0.88" fill="#008bfb"/>
<circle cx="470.30" cy="441.60" r="0.88" fill="#008bfb"/>
<circle cx="471.70" cy="434.35" r="0.88" fill="#008bfb"/>
<circle cx="471.70" cy="435.80" r="0.88" fill="#008bfb"/>
<circle cx="471.70" cy="437.25" r="0.88" fill="#008bfb"/>
<circle cx="471.70" cy="438.70" r="0.88" fill="#008bfb"/>
<circle cx="471.70" cy="440.15" r="0.88" fill="#008bfb"/>
<circle cx="472.70" cy="437.25" r="0.88" fill="#008bfb"/>
<circle cx="474.43" cy="435.80" r="0.88" fill="#177ffa"/>
<circle cx="474.43" cy="437.25" r="0.88" fill="#177ffa"/>
<circle cx="474.43" cy="438.70" r="0.88" fill="#177ffa"/>
<circle cx="476.15" cy="437.25" r="0.88" fill="#2d73f8"/>
<circle cx="477.88" cy="437.25" r="0.88" fill="#4366f6"/>
<circle cx="479.60" cy="437.25" r="0.88" fill="#5a5af5"/>
<circle cx="482.30" cy="435.80" r="0.88" fill="#9634e2"/>
<circle cx="482.30" cy="437.25" r="0.88" fill="#9634e2"/>
<circle cx="482.30" cy="438.70" r="0.88" fill="#9634e2"/>
<circle cx="484.10" cy="435.80" r="0.88" fill="#9634e2"/>
<circle cx="484.10" cy="437.25" r="0.88" fill="#9634e2"/>
<circle cx="484.10" cy="438.70" r="0.88" fill="#9634e2"/>
<circle cx="485.90" cy="435.80" r="0.88" fill="#9634e2"/>
<circle cx="485.90" cy="437.25" r="0.88" fill="#9634e2"/>
<circle cx="485.90" cy="438.70" r="0.88" fill="#9634e2"/>
<circle cx="487.70" cy="435.80" r="0.88" fill="#9634e2"/>
<circle cx="487.70" cy="437.25" r="0.88" fill="#9634e2"/>
<circle cx="487.70" cy="438.70" r="0.88" fill="#9634e2"/>
<circle cx="494.60" cy="437.25" r="0.88" fill="#ff0052"/>
<circle cx="496.00" cy="437.25" r="0.88" fill="#ff0052"/>
<circle cx="502.00" cy="437.25" r="0.88" fill="#ff0052"/>
<circle cx="503.75" cy="437.25" r="0.88" fill="#ff0052"/>
<circle cx="505.50" cy="437.25" r="0.88" fill="#ff0052"/>
<circle cx="462.50" cy="453.80" r="0.88" fill="#ff0052"/>
<circle cx="466.60" cy="450.90" r="0.88" fill="#ff0052"/>
<circle cx="466.60" cy="452.35" r="0.88" fill="#ff0052"/>
<circle cx="466.60" cy="453.80" r="0.88" fill="#ff0052"/>
<circle cx="466.60" cy="455.25" r="0.88" fill="#ff0052"/>
<circle cx="466.60" cy="456.70" r="0.88" fill="#ff0052"/>
<circle cx="468.00" cy="452.35" r="0.88" fill="#ff0052"/>
<circle cx="468.00" cy="453.80" r="0.88" fill="#ff0052"/>
<circle cx="468.00" cy="455.25" r="0.88" fill="#ff0052"/>
<circle cx="470.70" cy="450.90" r="0.88" fill="#ff0052"/>
<circle cx="470.70" cy="452.35" r="0.88" fill="#ff0052"/>
<circle cx="470.70" cy="453.80" r="0.88" fill="#ff0052"/>
<circle cx="470.70" cy="455.25" r="0.88" fill="#ff0052"/>
<circle cx="470.70" cy="456.70" r="0.88" fill="#ff0052"/>
<circle cx="472.07" cy="449.45" r="0.88" fill="#f10769"/>
<circle cx="472.07" cy="450.90" r="0.88" fill="#f10769"/>
<circle cx="472.07" cy="452.35" r="0.88" fill="#f10769"/>
<circle cx="472.07" cy="453.80" r="0.88" fill="#f10769"/>
<circle cx="472.07" cy="455.25" r="0.88" fill="#f10769"/>
<circle cx="472.07" cy="456.70" r="0.88" fill="#f10769"/>
<circle cx="472.07" cy="458.15" r="0.88" fill="#f10769"/>
<circle cx="473.43" cy="449.45" r="0.88" fill="#e40f7f"/>
<circle cx="473.43" cy="450.90" r="0.88" fill="#e40f7f"/>
<circle cx="473.43" cy="452.35" r="0.88" fill="#e40f7f"/>
<circle cx="473.43" cy="453.80" r="0.88" fill="#e40f7f"/>
<circle cx="473.43" cy="455.25" r="0.88" fill="#e40f7f"/>
<circle cx="473.43" cy="456.70" r="0.88" fill="#e40f7f"/>
<circle cx="473.43" cy="458.15" r="0.88" fill="#e40f7f"/>
<circle cx="474.80" cy="450.90" r="0.88" fill="#d61696"/>
<circle cx="474.80" cy="452.35" r="0.88" fill="#d61696"/>
<circle cx="474.80" cy="453.80" r="0.88" fill="#d61696"/>
<circle cx="474.80" cy="455.25" r="0.88" fill="#d61696"/>
<circle cx="474.80" cy="456.70" r="0.88" fill="#d61696"/>
<circle cx="475.50" cy="452.35" r="0.88" fill="#d61696"/>
<circle cx="475.50" cy="453.80" r="0.88" fill="#d61696"/>
<circle cx="475.50" cy="455.25" r="0.88" fill="#d61696"/>
<circle cx="477.33" cy="452.35" r="0.88" fill="#c120af"/>
<circle cx="477.33" cy="453.80" r="0.88" fill="#c120af"/>
<circle cx="477.33" cy="455.25" r="0.88" fill="#c120af"/>
<circle cx="479.17" cy="452.35" r="0.88" fill="#ab2ac9"/>
<circle cx="479.17" cy="453.80" r="0.88" fill="#ab2ac9"/>
<circle cx="479.17" cy="455.25" r="0.88" fill="#ab2ac9"/>
<circle cx="481.00" cy="452.35" r="0.88" fill="#9634e2"/>
<circle cx="481.00" cy="453.80" r="0.88" fill="#9634e2"/>
<circle cx="481.00" cy="455.25" r="0.88" fill="#9634e2"/>
<circle cx="483.70" cy="452.35" r="0.88" fill="#9634e2"/>
<circle cx="483.70" cy="453.80" r="0.88" fill="#9634e2"/>
<circle cx="483.70" cy="455.25" r="0.88" fill="#9634e2"/>
<circle cx="485.05" cy="450.90" r="0.88" fill="#9634e2"/>
<circle cx="485.05" cy="452.35" r="0.88" fill="#9634e2"/>
<circle cx="485.05" cy="453.80" r="0.88" fill="#9634e2"/>
<circle cx="485.05" cy="455.25" r="0.88" fill="#9634e2"/>
<circle cx="485.05" cy="456.70" r="0.88" fill="#9634e2"/>
<circle cx="486.40" cy="452.35" r="0.88" fill="#9634e2"/>
<circle cx="486.40" cy="453.80" r="0.88" fill="#9634e2"/>
<circle cx="486.40" cy="455.25" r="0.88" fill="#9634e2"/>
<circle cx="489.00" cy="453.80" r="0.88" fill="#9634e2"/>
<circle cx="490.87" cy="453.80" r="0.88" fill="#6e4def"/>
<circle cx="492.73" cy="453.80" r="0.88" fill="#3c6af7"/>
<circle cx="494.60" cy="453.80" r="0.88" fill="#008bfb"/>
<circle cx="497.30" cy="452.35" r="0.88" fill="#008bfb"/>
<circle cx="497.30" cy="453.80" r="0.88" fill="#008bfb"/>
<circle cx="497.30" cy="455.25" r="0.88" fill="#008bfb"/>
<circle cx="498.70" cy="452.35" r="0.88" fill="#008bfb"/>
<circle cx="498.70" cy="453.80" r="0.88" fill="#008bfb"/>
<circle cx="498.70" cy="455.25" r="0.88" fill="#008bfb"/>
<circle cx="448.20" cy="470.35" r="0.88" fill="#ff0052"/>
<circle cx="455.00" cy="470.35" r="0.88" fill="#ff0052"/>
<circle cx="466.00" cy="470.35" r="0.88" fill="#ff0052"/>
<circle cx="467.65" cy="470.35" r="0.88" fill="#ff0052"/>
<circle cx="469.30" cy="470.35" r="0.88" fill="#ff0052"/>
<circle cx="472.00" cy="470.35" r="0.88" fill="#d61696"/>
<circle cx="473.55" cy="468.90" r="0.88" fill="#c61ea9"/>
<circle cx="473.55" cy="470.35" r="0.88" fill="#c61ea9"/>
<circle cx="473.55" cy="471.80" r="0.88" fill="#c61ea9"/>
<circle cx="475.10" cy="467.45" r="0.88" fill="#b625bc"/>
<circle cx="475.10" cy="468.90" r="0.88" fill="#b625bc"/>
<circle cx="475.10" cy="470.35" r="0.88" fill="#b625bc"/>
<circle cx="475.10" cy="471.80" r="0.88" fill="#b625bc"/>
<circle cx="475.10" cy="473.25" r="0.88" fill="#b625bc"/>
<circle cx="476.65" cy="470.35" r="0.88" fill="#a62ccf"/>
<circle cx="478.20" cy="468.90" r="0.88" fill="#9634e2"/>
<circle cx="478.20" cy="470.35" r="0.88" fill="#9634e2"/>
<circle cx="478.20" cy="471.80" r="0.88" fill="#9634e2"/>
<circle cx="479.60" cy="467.45" r="0.88" fill="#5a5af5"/>
<circle cx="479.60" cy="468.90" r="0.88" fill="#5a5af5"/>
<circle cx="479.60" cy="470.35" r="0.88" fill="#5a5af5"/>
<circle cx="479.60" cy="471.80" r="0.88" fill="#5a5af5"/>
<circle cx="479.60" cy="473.25" r="0.88" fill="#5a5af5"/>
<circle cx="481.40" cy="466.00" r="0.88" fill="#3c6af7"/>
<circle cx="481.40" cy="467.45" r="0.88" fill="#3c6af7"/>
<circle cx="481.40" cy="468.90" r="0.88" fill="#3c6af7"/>
<circle cx="481.40" cy="470.35" r="0.88" fill="#3c6af7"/>
<circle cx="481.40" cy="471.80" r="0.88" fill="#3c6af7"/>
<circle cx="481.40" cy="473.25" r="0.88" fill="#3c6af7"/>
<circle cx="481.40" cy="474.70" r="0.88" fill="#3c6af7"/>
<circle cx="483.20" cy="466.00" r="0.88" fill="#1e7bf9"/>
<circle cx="483.20" cy="467.45" r="0.88" fill="#1e7bf9"/>
<circle cx="483.20" cy="468.90" r="0.88" fill="#1e7bf9"/>
<circle cx="483.20" cy="470.35" r="0.88" fill="#1e7bf9"/>
<circle cx="483.20" cy="471.80" r="0.88" fill="#1e7bf9"/>
<circle cx="483.20" cy="473.25" r="0.88" fill="#1e7bf9"/>
<circle cx="483.20" cy="474.70" r="0.88" fill="#1e7bf9"/>
<circle cx="485.00" cy="467.45" r="0.88" fill="#008bfb"/>
<circle cx="485.00" cy="468.90" r="0.88" fill="#008bfb"/>
<circle cx="485.00" cy="470.35" r="0.88" fill="#008bfb"/>
<circle cx="485.00" cy="471.80" r="0.88" fill="#008bfb"/>
<circle cx="485.00" cy="473.25" r="0.88" fill="#008bfb"/>
<circle cx="485.00" cy="470.35" r="0.88" fill="#008bfb"/>
<circle cx="486.55" cy="470.35" r="0.88" fill="#008bfb"/>
<circle cx="488.10" cy="468.90" r="0.88" fill="#008bfb"/>
<circle cx="488.10" cy="470.35" r="0.88" fill="#008bfb"/>
<circle cx="488.10" cy="471.80" r="0.88" fill="#008bfb"/>
<circle cx="489.65" cy="470.35" r="0.88" fill="#008bfb"/>
<circle cx="491.20" cy="470.35" r="0.88" fill="#008bfb"/>
<circle cx="460.50" cy="482.15" r="0.88" fill="#ff0052"/>
<circle cx="460.50" cy="483.60" r="0.88" fill="#ff0052"/>
<circle cx="460.50" cy="485.05" r="0.88" fill="#ff0052"/>
<circle cx="460.50" cy="486.50" r="0.88" fill="#ff0052"/>
<circle cx="460.50" cy="487.95" r="0.88" fill="#ff0052"/>
<circle cx="460.50" cy="489.40" r="0.88" fill="#ff0052"/>
<circle cx="460.50" cy="490.85" r="0.88" fill="#ff0052"/>
<circle cx="468.00" cy="485.05" r="0.88" fill="#ff0052"/>
<circle cx="468.00" cy="486.50" r="0.88" fill="#ff0052"/>
<circle cx="468.00" cy="487.95" r="0.88" fill="#ff0052"/>
<circle cx="470.03" cy="483.60" r="0.88" fill="#ff0052"/>
<circle cx="470.03" cy="485.05" r="0.88" fill="#ff0052"/>
<circle cx="470.03" cy="486.50" r="0.88" fill="#ff0052"/>
<circle cx="470.03" cy="487.95" r="0.88" fill="#ff0052"/>
<circle cx="470.03" cy="489.40" r="0.88" fill="#ff0052"/>
<circle cx="472.07" cy="483.60" r="0.88" fill="#ff0052"/>
<circle cx="472.07" cy="485.05" r="0.88" fill="#ff0052"/>
<circle cx="472.07" cy="486.50" r="0.88" fill="#ff0052"/>
<circle cx="472.07" cy="487.95" r="0.88" fill="#ff0052"/>
<circle cx="472.07" cy="489.40" r="0.88" fill="#ff0052"/>
<circle cx="474.10" cy="485.05" r="0.88" fill="#ff0052"/>
<circle cx="474.10" cy="486.50" r="0.88" fill="#ff0052"/>
<circle cx="474.10" cy="487.95" r="0.88" fill="#ff0052"/>
<circle cx="478.90" cy="483.60" r="0.88" fill="#008bfb"/>
<circle cx="478.90" cy="485.05" r="0.88" fill="#008bfb"/>
<circle cx="478.90" cy="486.50" r="0.88" fill="#008bfb"/>
<circle cx="478.90" cy="487.95" r="0.88" fill="#008bfb"/>
<circle cx="478.90" cy="489.40" r="0.88" fill="#008bfb"/>
<circle cx="480.70" cy="482.15" r="0.88" fill="#008bfb"/>
<circle cx="480.70" cy="483.60" r="0.88" fill="#008bfb"/>
<circle cx="480.70" cy="485.05" r="0.88" fill="#008bfb"/>
<circle cx="480.70" cy="486.50" r="0.88" fill="#008bfb"/>
<circle cx="480.70" cy="487.95" r="0.88" fill="#008bfb"/>
<circle cx="480.70" cy="489.40" r="0.88" fill="#008bfb"/>
<circle cx="480.70" cy="490.85" r="0.88" fill="#008bfb"/>
<circle cx="482.50" cy="482.15" r="0.88" fill="#008bfb"/>
<circle cx="482.50" cy="483.60" r="0.88" fill="#008bfb"/>
<circle cx="482.50" cy="485.05" r="0.88" fill="#008bfb"/>
<circle cx="482.50" cy="486.50" r="0.88" fill="#008bfb"/>
<circle cx="482.50" cy="487.95" r="0.88" fill="#008bfb"/>
<circle cx="482.50" cy="489.40" r="0.88" fill="#008bfb"/>
<circle cx="482.50" cy="490.85" r="0.88" fill="#008bfb"/>
<circle cx="484.30" cy="483.60" r="0.88" fill="#008bfb"/>
<circle cx="484.30" cy="485.05" r="0.88" fill="#008bfb"/>
<circle cx="484.30" cy="486.50" r="0.88" fill="#008bfb"/>
<circle cx="484.30" cy="487.95" r="0.88" fill="#008bfb"/>
<circle cx="484.30" cy="489.40" r="0.88" fill="#008bfb"/>
<circle cx="471.40" cy="498.30" r="0.88" fill="#008bfb"/>
<circle cx="471.40" cy="499.75" r="0.88" fill="#008bfb"/>
<circle cx="471.40" cy="501.20" r="0.88" fill="#008bfb"/>
<circle cx="471.40" cy="502.65" r="0.88" fill="#008bfb"/>
<circle cx="471.40" cy="504.10" r="0.88" fill="#008bfb"/>
<circle cx="471.40" cy="505.55" r="0.88" fill="#008bfb"/>
<circle cx="471.40" cy="507.00" r="0.88" fill="#008bfb"/>
<circle cx="475.50" cy="499.75" r="0.88" fill="#008bfb"/>
<circle cx="475.50" cy="501.20" r="0.88" fill="#008bfb"/>
<circle cx="475.50" cy="502.65" r="0.88" fill="#008bfb"/>
<circle cx="475.50" cy="504.10" r="0.88" fill="#008bfb"/>
<circle cx="475.50" cy="505.55" r="0.88" fill="#008bfb"/>
<circle cx="476.87" cy="498.30" r="0.88" fill="#1e7bf9"/>
<circle cx="476.87" cy="499.75" r="0.88" fill="#1e7bf9"/>
<circle cx="476.87" cy="501.20" r="0.88" fill="#1e7bf9"/>
<circle cx="476.87" cy="502.65" r="0.88" fill="#1e7bf9"/>
<circle cx="476.87" cy="504.10" r="0.88" fill="#1e7bf9"/>
<circle cx="476.87" cy="505.55" r="0.88" fill="#1e7bf9"/>
<circle cx="476.87" cy="507.00" r="0.88" fill="#1e7bf9"/>
<circle cx="478.23" cy="498.30" r="0.88" fill="#3c6af7"/>
<circle cx="478.23" cy="499.75" r="0.88" fill="#3c6af7"/>
<circle cx="478.23" cy="501.20" r="0.88" fill="#3c6af7"/>
<circle cx="478.23" cy="502.65" r="0.88" fill="#3c6af7"/>
<circle cx="478.23" cy="504.10" r="0.88" fill="#3c6af7"/>
<circle cx="478.23" cy="505.55" r="0.88" fill="#3c6af7"/>
<circle cx="478.23" cy="507.00" r="0.88" fill="#3c6af7"/>
<circle cx="479.60" cy="499.75" r="0.88" fill="#5a5af5"/>
<circle cx="479.60" cy="501.20" r="0.88" fill="#5a5af5"/>
<circle cx="479.60" cy="502.65" r="0.88" fill="#5a5af5"/>
<circle cx="479.60" cy="504.10" r="0.88" fill="#5a5af5"/>
<circle cx="479.60" cy="505.55" r="0.88" fill="#5a5af5"/>
<circle cx="479.60" cy="502.65" r="0.88" fill="#9634e2"/>
<circle cx="481.30" cy="501.20" r="0.88" fill="#a62ccf"/>
<circle cx="481.30" cy="502.65" r="0.88" fill="#a62ccf"/>
<circle cx="481.30" cy="504.10" r="0.88" fill="#a62ccf"/>
<circle cx="483.00" cy="501.20" r="0.88" fill="#b625bc"/>
<circle cx="483.00" cy="502.65" r="0.88" fill="#b625bc"/>
<circle cx="483.00" cy="504.10" r="0.88" fill="#b625bc"/>
<circle cx="484.70" cy="501.20" r="0.88" fill="#c61ea9"/>
<circle cx="484.70" cy="502.65" r="0.88" fill="#c61ea9"/>
<circle cx="484.70" cy="504.10" r="0.88" fill="#c61ea9"/>
<circle cx="486.40" cy="502.65" r="0.88" fill="#d61696"/>
<circle cx="490.50" cy="499.75" r="0.88" fill="#ff0052"/>
<circle cx="490.50" cy="501.20" r="0.88" fill="#ff0052"/>
<circle cx="490.50" cy="502.65" r="0.88" fill="#ff0052"/>
<circle cx="490.50" cy="504.10" r="0.88" fill="#ff0052"/>
<circle cx="490.50" cy="505.55" r="0.88" fill="#ff0052"/>
<circle cx="499.60" cy="502.65" r="0.88" fill="#ff0052"/>
<defs><linearGradient id="g2101" x1="0" y1="0" x2="0" y2="1"><stop offset="0" stop-color="#ff0052"/><stop offset="0.4" stop-color="#e01e8e"/><stop offset="0.65" stop-color="#9a48d8"/><stop offset="0.85" stop-color="#3f7af0"/><stop offset="1" stop-color="#008bfb"/></linearGradient></defs>
<rect x="511.60" y="421.60" width="1.4" height="96.70" fill="url(#g2101)"/>
<text x="514.90" y="424.05" font-size="5.41" stroke="#333" stroke-width="0.12" fill="#333" textLength="11.72" lengthAdjust="spacingAndGlyphs">High</text>
<text x="514.90" y="521.05" font-size="5.41" stroke="#333" stroke-width="0.12" fill="#333" textLength="10.04" lengthAdjust="spacingAndGlyphs">Low</text>
<text transform="translate(534.00,471.50) rotate(-90)" x="-21.51" y="0" font-size="6.68" stroke="#333" stroke-width="0.12" fill="#333" textLength="43.02" lengthAdjust="spacingAndGlyphs">Feature value</text>
<line x1="90.00" y1="552.30" x2="90.00" y2="653.30" stroke="#6b6b6b" stroke-width="0.7"/>
<line x1="90.00" y1="653.30" x2="171.00" y2="653.30" stroke="#6b6b6b" stroke-width="0.7"/>
<rect x="90.30" y="563.50" width="76.60" height="10.90" fill="#738899"/>
<rect x="90.30" y="580.30" width="42.50" height="11.20" fill="#738899"/>
<rect x="90.30" y="597.30" width="35.10" height="11.00" fill="#738899"/>
<rect x="90.30" y="613.90" width="34.40" height="11.10" fill="#738899"/>
<rect x="90.30" y="631.00" width="30.10" height="10.90" fill="#738899"/>
<text x="37.14" y="571.75" font-size="6.68" stroke="#333333" stroke-width="0.12" fill="#333333" textLength="48.36" lengthAdjust="spacingAndGlyphs">Mood_empathy</text>
<text x="32.56" y="588.70" font-size="6.68" stroke="#333333" stroke-width="0.12" fill="#333333" textLength="52.94" lengthAdjust="spacingAndGlyphs">Mood_depressed</text>
<text x="28.28" y="605.60" font-size="6.68" stroke="#333333" stroke-width="0.12" fill="#333333" textLength="57.22" lengthAdjust="spacingAndGlyphs">Connect_chattime</text>
<text x="48.42" y="619.50" font-size="6.68" stroke="#333333" stroke-width="0.12" fill="#333333" textLength="37.08" lengthAdjust="spacingAndGlyphs">ScreenTime</text>
<text x="49.25" y="627.20" font-size="6.68" stroke="#333333" stroke-width="0.12" fill="#333333" textLength="36.25" lengthAdjust="spacingAndGlyphs">satisfaction</text>
<text x="40.74" y="639.25" font-size="6.68" stroke="#333333" stroke-width="0.12" fill="#333333" textLength="44.76" lengthAdjust="spacingAndGlyphs">Mood_anxious</text>
<line x1="90.00" y1="653.30" x2="90.00" y2="655.30" stroke="#6b6b6b" stroke-width="0.6"/>
<text x="85.79" y="661.72" font-size="5.62" stroke="#3a3a3a" stroke-width="0.1" fill="#3a3a3a" textLength="8.43" lengthAdjust="spacingAndGlyphs">0.0</text>
<line x1="118.60" y1="653.30" x2="118.60" y2="655.30" stroke="#6b6b6b" stroke-width="0.6"/>
<text x="114.39" y="661.72" font-size="5.62" stroke="#3a3a3a" stroke-width="0.1" fill="#3a3a3a" textLength="8.43" lengthAdjust="spacingAndGlyphs">0.5</text>
<line x1="147.20" y1="653.30" x2="147.20" y2="655.30" stroke="#6b6b6b" stroke-width="0.6"/>
<text x="142.99" y="661.72" font-size="5.62" stroke="#3a3a3a" stroke-width="0.1" fill="#3a3a3a" textLength="8.43" lengthAdjust="spacingAndGlyphs">1.0</text>
<text x="94.95" y="670.20" font-size="6.68" font-weight="bold" stroke="#111" stroke-width="0.2" fill="#111" textLength="70.71" lengthAdjust="spacingAndGlyphs">mean(|SHAP value|)</text>
<text x="147.00" y="552.43" font-size="10.92" font-weight="bold" stroke="#000" stroke-width="0.35" fill="#000" textLength="59.20" lengthAdjust="spacingAndGlyphs">Wellbeing</text>
<text transform="translate(15.74,604.40) rotate(-90)" x="-12.36" y="0" font-size="10.39" font-weight="bold" stroke="#000" stroke-width="0.3" fill="#000" textLength="24.72" lengthAdjust="spacingAndGlyphs">P-16</text>
<line x1="227.10" y1="553.00" x2="227.10" y2="653.30" stroke="#999999" stroke-width="0.8"/>
<line x1="184.90" y1="653.30" x2="251.40" y2="653.30" stroke="#6b6b6b" stroke-width="0.7"/>
<line x1="188.60" y1="653.30" x2="188.60" y2="655.30" stroke="#6b6b6b" stroke-width="0.6"/>
<text x="184.69" y="661.72" font-size="5.62" stroke="#3a3a3a" stroke-width="0.1" fill="#3a3a3a" textLength="7.81" lengthAdjust="spacingAndGlyphs">−1</text>
<line x1="227.10" y1="653.30" x2="227.10" y2="655.30" stroke="#6b6b6b" stroke-width="0.6"/>
<text x="225.41" y="661.72" font-size="5.62" stroke="#3a3a3a" stroke-width="0.1" fill="#3a3a3a" textLength="3.37" lengthAdjust="spacingAndGlyphs">0</text>
<text x="198.01" y="670.10" font-size="6.68" font-weight="bold" stroke="#111" stroke-width="0.2" fill="#111" textLength="40.77" lengthAdjust="spacingAndGlyphs">SHAP value</text>
<circle cx="190.20" cy="568.95" r="0.88" fill="#008bfb"/>
<circle cx="191.75" cy="568.95" r="0.88" fill="#008bfb"/>
<circle cx="193.30" cy="568.95" r="0.88" fill="#008bfb"/>
<circle cx="194.85" cy="568.95" r="0.88" fill="#008bfb"/>
<circle cx="196.40" cy="568.95" r="0.88" fill="#008bfb"/>
<circle cx="199.10" cy="568.95" r="0.88" fill="#008bfb"/>
<circle cx="203.20" cy="568.95" r="0.88" fill="#008bfb"/>
<circle cx="205.20" cy="568.95" r="0.88" fill="#008bfb"/>
<circle cx="208.60" cy="567.50" r="0.88" fill="#9634e2"/>
<circle cx="208.60" cy="568.95" r="0.88" fill="#9634e2"/>
<circle cx="208.60" cy="570.40" r="0.88" fill="#9634e2"/>
<circle cx="210.00" cy="567.50" r="0.88" fill="#9634e2"/>
<circle cx="210.00" cy="568.95" r="0.88" fill="#9634e2"/>
<circle cx="210.00" cy="570.40" r="0.88" fill="#9634e2"/>
<circle cx="217.50" cy="568.95" r="0.88" fill="#9634e2"/>
<circle cx="222.30" cy="567.50" r="0.88" fill="#9634e2"/>
<circle cx="222.30" cy="568.95" r="0.88" fill="#9634e2"/>
<circle cx="222.30" cy="570.40" r="0.88" fill="#9634e2"/>
<circle cx="223.84" cy="568.95" r="0.88" fill="#ae29c6"/>
<circle cx="225.38" cy="567.50" r="0.88" fill="#c61ea9"/>
<circle cx="225.38" cy="568.95" r="0.88" fill="#c61ea9"/>
<circle cx="225.38" cy="570.40" r="0.88" fill="#c61ea9"/>
<circle cx="226.91" cy="567.50" r="0.88" fill="#ce1a9f"/>
<circle cx="226.91" cy="568.95" r="0.88" fill="#ce1a9f"/>
<circle cx="226.91" cy="570.40" r="0.88" fill="#ce1a9f"/>
<circle cx="228.45" cy="568.95" r="0.88" fill="#b625bc"/>
<circle cx="229.99" cy="567.50" r="0.88" fill="#9e30d9"/>
<circle cx="229.99" cy="568.95" r="0.88" fill="#9e30d9"/>
<circle cx="229.99" cy="570.40" r="0.88" fill="#9e30d9"/>
<circle cx="231.53" cy="567.50" r="0.88" fill="#a62ccf"/>
<circle cx="231.53" cy="568.95" r="0.88" fill="#a62ccf"/>
<circle cx="231.53" cy="570.40" r="0.88" fill="#a62ccf"/>
<circle cx="233.06" cy="568.95" r="0.88" fill="#be21b2"/>
<circle cx="234.60" cy="567.50" r="0.88" fill="#d61696"/>
<circle cx="234.60" cy="568.95" r="0.88" fill="#d61696"/>
<circle cx="234.60" cy="570.40" r="0.88" fill="#d61696"/>
<circle cx="228.00" cy="564.60" r="0.88" fill="#d61696"/>
<circle cx="228.00" cy="566.05" r="0.88" fill="#d61696"/>
<circle cx="228.00" cy="567.50" r="0.88" fill="#d61696"/>
<circle cx="228.00" cy="568.95" r="0.88" fill="#d61696"/>
<circle cx="228.00" cy="570.40" r="0.88" fill="#d61696"/>
<circle cx="228.00" cy="571.85" r="0.88" fill="#d61696"/>
<circle cx="228.00" cy="573.30" r="0.88" fill="#d61696"/>
<circle cx="237.30" cy="567.50" r="0.88" fill="#ff0052"/>
<circle cx="237.30" cy="568.95" r="0.88" fill="#ff0052"/>
<circle cx="237.30" cy="570.40" r="0.88" fill="#ff0052"/>
<circle cx="239.34" cy="567.50" r="0.88" fill="#ff0052"/>
<circle cx="239.34" cy="568.95" r="0.88" fill="#ff0052"/>
<circle cx="239.34" cy="570.40" r="0.88" fill="#ff0052"/>
<circle cx="241.38" cy="567.50" r="0.88" fill="#ff0052"/>
<circle cx="241.38" cy="568.95" r="0.88" fill="#ff0052"/>
<circle cx="241.38" cy="570.40" r="0.88" fill="#ff0052"/>
<circle cx="243.42" cy="567.50" r="0.88" fill="#ff0052"/>
<circle cx="243.42" cy="568.95" r="0.88" fill="#ff0052"/>
<circle cx="243.42" cy="570.40" r="0.88" fill="#ff0052"/>
<circle cx="245.46" cy="567.50" r="0.88" fill="#ff0052"/>
<circle cx="245.46" cy="568.95" r="0.88" fill="#ff0052"/>
<circle cx="245.46" cy="570.40" r="0.88" fill="#ff0052"/>
<circle cx="247.50" cy="567.50" r="0.88" fill="#ff0052"/>
<circle cx="247.50" cy="568.95" r="0.88" fill="#ff0052"/>
<circle cx="247.50" cy="570.40" r="0.88" fill="#ff0052"/>
<circle cx="247.50" cy="564.60" r="0.88" fill="#ff0052"/>
<circle cx="247.50" cy="566.05" r="0.88" fill="#ff0052"/>
<circle cx="247.50" cy="567.50" r="0.88" fill="#ff0052"/>
<circle cx="247.50" cy="568.95" r="0.88" fill="#ff0052"/>
<circle cx="247.50" cy="570.40" r="0.88" fill="#ff0052"/>
<circle cx="247.50" cy="571.85" r="0.88" fill="#ff0052"/>
<circle cx="247.50" cy="573.30" r="0.88" fill="#ff0052"/>
<circle cx="189.30" cy="585.90" r="0.88" fill="#ff0052"/>
<circle cx="197.00" cy="585.90" r="0.88" fill="#ff0052"/>
<circle cx="206.60" cy="585.90" r="0.88" fill="#ff0052"/>
<circle cx="212.70" cy="583.00" r="0.88" fill="#ff0052"/>
<circle cx="212.70" cy="584.45" r="0.88" fill="#ff0052"/>
<circle cx="212.70" cy="585.90" r="0.88" fill="#ff0052"/>
<circle cx="212.70" cy="587.35" r="0.88" fill="#ff0052"/>
<circle cx="212.70" cy="588.80" r="0.88" fill="#ff0052"/>
<circle cx="217.50" cy="584.45" r="0.88" fill="#d61696"/>
<circle cx="217.50" cy="585.90" r="0.88" fill="#d61696"/>
<circle cx="217.50" cy="587.35" r="0.88" fill="#d61696"/>
<circle cx="219.20" cy="584.45" r="0.88" fill="#cb1ba3"/>
<circle cx="219.20" cy="585.90" r="0.88" fill="#cb1ba3"/>
<circle cx="219.20" cy="587.35" r="0.88" fill="#cb1ba3"/>
<circle cx="220.90" cy="585.90" r="0.88" fill="#c120af"/>
<circle cx="222.60" cy="584.45" r="0.88" fill="#b625bc"/>
<circle cx="222.60" cy="585.90" r="0.88" fill="#b625bc"/>
<circle cx="222.60" cy="587.35" r="0.88" fill="#b625bc"/>
<circle cx="224.30" cy="584.45" r="0.88" fill="#ab2ac9"/>
<circle cx="224.30" cy="585.90" r="0.88" fill="#ab2ac9"/>
<circle cx="224.30" cy="587.35" r="0.88" fill="#ab2ac9"/>
<circle cx="226.00" cy="584.45" r="0.88" fill="#a12fd5"/>
<circle cx="226.00" cy="585.90" r="0.88" fill="#a12fd5"/>
<circle cx="226.00" cy="587.35" r="0.88" fill="#a12fd5"/>
<circle cx="227.70" cy="585.90" r="0.88" fill="#9634e2"/>
<circle cx="227.70" cy="584.45" r="0.88" fill="#9634e2"/>
<circle cx="227.70" cy="585.90" r="0.88" fill="#9634e2"/>
<circle cx="227.70" cy="587.35" r="0.88" fill="#9634e2"/>
<circle cx="229.27" cy="584.45" r="0.88" fill="#853fe7"/>
<circle cx="229.27" cy="585.90" r="0.88" fill="#853fe7"/>
<circle cx="229.27" cy="587.35" r="0.88" fill="#853fe7"/>
<circle cx="230.84" cy="584.45" r="0.88" fill="#744aed"/>
<circle cx="230.84" cy="585.90" r="0.88" fill="#744aed"/>
<circle cx="230.84" cy="587.35" r="0.88" fill="#744aed"/>
<circle cx="232.41" cy="584.45" r="0.88" fill="#6355f2"/>
<circle cx="232.41" cy="585.90" r="0.88" fill="#6355f2"/>
<circle cx="232.41" cy="587.35" r="0.88" fill="#6355f2"/>
<circle cx="233.99" cy="583.00" r="0.88" fill="#4d61f6"/>
<circle cx="233.99" cy="584.45" r="0.88" fill="#4d61f6"/>
<circle cx="233.99" cy="585.90" r="0.88" fill="#4d61f6"/>
<circle cx="233.99" cy="587.35" r="0.88" fill="#4d61f6"/>
<circle cx="233.99" cy="588.80" r="0.88" fill="#4d61f6"/>
<circle cx="235.56" cy="583.00" r="0.88" fill="#336ff8"/>
<circle cx="235.56" cy="584.45" r="0.88" fill="#336ff8"/>
<circle cx="235.56" cy="585.90" r="0.88" fill="#336ff8"/>
<circle cx="235.56" cy="587.35" r="0.88" fill="#336ff8"/>
<circle cx="235.56" cy="588.80" r="0.88" fill="#336ff8"/>
<circle cx="237.13" cy="583.00" r="0.88" fill="#1a7df9"/>
<circle cx="237.13" cy="584.45" r="0.88" fill="#1a7df9"/>
<circle cx="237.13" cy="585.90" r="0.88" fill="#1a7df9"/>
<circle cx="237.13" cy="587.35" r="0.88" fill="#1a7df9"/>
<circle cx="237.13" cy="588.80" r="0.88" fill="#1a7df9"/>
<circle cx="238.70" cy="584.45" r="0.88" fill="#008bfb"/>
<circle cx="238.70" cy="585.90" r="0.88" fill="#008bfb"/>
<circle cx="238.70" cy="587.35" r="0.88" fill="#008bfb"/>
<circle cx="240.00" cy="585.90" r="0.88" fill="#008bfb"/>
<circle cx="242.05" cy="585.90" r="0.88" fill="#008bfb"/>
<circle cx="244.10" cy="585.90" r="0.88" fill="#008bfb"/>
<circle cx="201.80" cy="602.80" r="0.88" fill="#ff0052"/>
<circle cx="210.00" cy="602.80" r="0.88" fill="#ff0052"/>
<circle cx="211.83" cy="602.80" r="0.88" fill="#ff0052"/>
<circle cx="213.67" cy="602.80" r="0.88" fill="#ff0052"/>
<circle cx="215.50" cy="602.80" r="0.88" fill="#ff0052"/>
<circle cx="220.20" cy="598.45" r="0.88" fill="#d61696"/>
<circle cx="220.20" cy="599.90" r="0.88" fill="#d61696"/>
<circle cx="220.20" cy="601.35" r="0.88" fill="#d61696"/>
<circle cx="220.20" cy="602.80" r="0.88" fill="#d61696"/>
<circle cx="220.20" cy="604.25" r="0.88" fill="#d61696"/>
<circle cx="220.20" cy="605.70" r="0.88" fill="#d61696"/>
<circle cx="220.20" cy="607.15" r="0.88" fill="#d61696"/>
<circle cx="221.00" cy="601.35" r="0.88" fill="#9634e2"/>
<circle cx="221.00" cy="602.80" r="0.88" fill="#9634e2"/>
<circle cx="221.00" cy="604.25" r="0.88" fill="#9634e2"/>
<circle cx="222.50" cy="601.35" r="0.88" fill="#9634e2"/>
<circle cx="222.50" cy="602.80" r="0.88" fill="#9634e2"/>
<circle cx="222.50" cy="604.25" r="0.88" fill="#9634e2"/>
<circle cx="224.00" cy="601.35" r="0.88" fill="#9634e2"/>
<circle cx="224.00" cy="602.80" r="0.88" fill="#9634e2"/>
<circle cx="224.00" cy="604.25" r="0.88" fill="#9634e2"/>
<circle cx="225.50" cy="602.80" r="0.88" fill="#9634e2"/>
<circle cx="227.00" cy="601.35" r="0.88" fill="#9634e2"/>
<circle cx="227.00" cy="602.80" r="0.88" fill="#9634e2"/>
<circle cx="227.00" cy="604.25" r="0.88" fill="#9634e2"/>
<circle cx="227.00" cy="602.80" r="0.88" fill="#9634e2"/>
<circle cx="228.72" cy="601.35" r="0.88" fill="#8241e8"/>
<circle cx="228.72" cy="602.80" r="0.88" fill="#8241e8"/>
<circle cx="228.72" cy="604.25" r="0.88" fill="#8241e8"/>
<circle cx="230.43" cy="601.35" r="0.88" fill="#6e4def"/>
<circle cx="230.43" cy="602.80" r="0.88" fill="#6e4def"/>
<circle cx="230.43" cy="604.25" r="0.88" fill="#6e4def"/>
<circle cx="232.15" cy="602.80" r="0.88" fill="#5a5af5"/>
<circle cx="233.87" cy="601.35" r="0.88" fill="#3c6af7"/>
<circle cx="233.87" cy="602.80" r="0.88" fill="#3c6af7"/>
<circle cx="233.87" cy="604.25" r="0.88" fill="#3c6af7"/>
<circle cx="235.58" cy="601.35" r="0.88" fill="#1e7bf9"/>
<circle cx="235.58" cy="602.80" r="0.88" fill="#1e7bf9"/>
<circle cx="235.58" cy="604.25" r="0.88" fill="#1e7bf9"/>
<circle cx="237.30" cy="601.35" r="0.88" fill="#008bfb"/>
<circle cx="237.30" cy="602.80" r="0.88" fill="#008bfb"/>
<circle cx="237.30" cy="604.25" r="0.88" fill="#008bfb"/>
<circle cx="241.40" cy="599.90" r="0.88" fill="#008bfb"/>
<circle cx="241.40" cy="601.35" r="0.88" fill="#008bfb"/>
<circle cx="241.40" cy="602.80" r="0.88" fill="#008bfb"/>
<circle cx="241.40" cy="604.25" r="0.88" fill="#008bfb"/>
<circle cx="241.40" cy="605.70" r="0.88" fill="#008bfb"/>
<circle cx="206.00" cy="619.45" r="0.88" fill="#008bfb"/>
<circle cx="208.03" cy="619.45" r="0.88" fill="#008bfb"/>
<circle cx="210.07" cy="619.45" r="0.88" fill="#008bfb"/>
<circle cx="212.10" cy="619.45" r="0.88" fill="#008bfb"/>
<circle cx="214.13" cy="619.45" r="0.88" fill="#008bfb"/>
<circle cx="216.17" cy="619.45" r="0.88" fill="#008bfb"/>
<circle cx="218.20" cy="619.45" r="0.88" fill="#008bfb"/>
<circle cx="218.90" cy="616.55" r="0.88" fill="#5a5af5"/>
<circle cx="218.90" cy="618.00" r="0.88" fill="#5a5af5"/>
<circle cx="218.90" cy="619.45" r="0.88" fill="#5a5af5"/>
<circle cx="218.90" cy="620.90" r="0.88" fill="#5a5af5"/>
<circle cx="218.90" cy="622.35" r="0.88" fill="#5a5af5"/>
<circle cx="220.70" cy="616.55" r="0.88" fill="#6e4def"/>
<circle cx="220.70" cy="618.00" r="0.88" fill="#6e4def"/>
<circle cx="220.70" cy="619.45" r="0.88" fill="#6e4def"/>
<circle cx="220.70" cy="620.90" r="0.88" fill="#6e4def"/>
<circle cx="220.70" cy="622.35" r="0.88" fill="#6e4def"/>
<circle cx="222.50" cy="616.55" r="0.88" fill="#8241e8"/>
<circle cx="222.50" cy="618.00" r="0.88" fill="#8241e8"/>
<circle cx="222.50" cy="619.45" r="0.88" fill="#8241e8"/>
<circle cx="222.50" cy="620.90" r="0.88" fill="#8241e8"/>
<circle cx="222.50" cy="622.35" r="0.88" fill="#8241e8"/>
<circle cx="224.30" cy="616.55" r="0.88" fill="#9634e2"/>
<circle cx="224.30" cy="618.00" r="0.88" fill="#9634e2"/>
<circle cx="224.30" cy="619.45" r="0.88" fill="#9634e2"/>
<circle cx="224.30" cy="620.90" r="0.88" fill="#9634e2"/>
<circle cx="224.30" cy="622.35" r="0.88" fill="#9634e2"/>
<circle cx="228.40" cy="618.00" r="0.88" fill="#d61696"/>
<circle cx="228.40" cy="619.45" r="0.88" fill="#d61696"/>
<circle cx="228.40" cy="620.90" r="0.88" fill="#d61696"/>
<circle cx="229.80" cy="618.00" r="0.88" fill="#d61696"/>
<circle cx="229.80" cy="619.45" r="0.88" fill="#d61696"/>
<circle cx="229.80" cy="620.90" r="0.88" fill="#d61696"/>
<circle cx="235.65" cy="615.10" r="0.88" fill="#ff0052"/>
<circle cx="235.65" cy="616.55" r="0.88" fill="#ff0052"/>
<circle cx="235.65" cy="618.00" r="0.88" fill="#ff0052"/>
<circle cx="235.65" cy="619.45" r="0.88" fill="#ff0052"/>
<circle cx="235.65" cy="620.90" r="0.88" fill="#ff0052"/>
<circle cx="235.65" cy="622.35" r="0.88" fill="#ff0052"/>
<circle cx="235.65" cy="623.80" r="0.88" fill="#ff0052"/>
<circle cx="206.60" cy="636.45" r="0.88" fill="#ff0052"/>
<circle cx="208.63" cy="636.45" r="0.88" fill="#ff0052"/>
<circle cx="210.67" cy="636.45" r="0.88" fill="#ff0052"/>
<circle cx="212.70" cy="636.45" r="0.88" fill="#ff0052"/>
<circle cx="216.20" cy="636.45" r="0.88" fill="#ff0052"/>
<circle cx="217.67" cy="635.00" r="0.88" fill="#f10769"/>
<circle cx="217.67" cy="636.45" r="0.88" fill="#f10769"/>
<circle cx="217.67" cy="637.90" r="0.88" fill="#f10769"/>
<circle cx="219.13" cy="636.45" r="0.88" fill="#e40f7f"/>
<circle cx="220.60" cy="635.00" r="0.88" fill="#d61696"/>
<circle cx="220.60" cy="636.45" r="0.88" fill="#d61696"/>
<circle cx="220.60" cy="637.90" r="0.88" fill="#d61696"/>
<circle cx="222.07" cy="635.00" r="0.88" fill="#c120af"/>
<circle cx="222.07" cy="636.45" r="0.88" fill="#c120af"/>
<circle cx="222.07" cy="637.90" r="0.88" fill="#c120af"/>
<circle cx="223.53" cy="635.00" r="0.88" fill="#ab2ac9"/>
<circle cx="223.53" cy="636.45" r="0.88" fill="#ab2ac9"/>
<circle cx="223.53" cy="637.90" r="0.88" fill="#ab2ac9"/>
<circle cx="225.00" cy="636.45" r="0.88" fill="#9634e2"/>
<circle cx="225.00" cy="633.55" r="0.88" fill="#9634e2"/>
<circle cx="225.00" cy="635.00" r="0.88" fill="#9634e2"/>
<circle cx="225.00" cy="636.45" r="0.88" fill="#9634e2"/>
<circle cx="225.00" cy="637.90" r="0.88" fill="#9634e2"/>
<circle cx="225.00" cy="639.35" r="0.88" fill="#9634e2"/>
<circle cx="226.37" cy="632.10" r="0.88" fill="#8241e8"/>
<circle cx="226.37" cy="633.55" r="0.88" fill="#8241e8"/>
<circle cx="226.37" cy="635.00" r="0.88" fill="#8241e8"/>
<circle cx="226.37" cy="636.45" r="0.88" fill="#8241e8"/>
<circle cx="226.37" cy="637.90" r="0.88" fill="#8241e8"/>
<circle cx="226.37" cy="639.35" r="0.88" fill="#8241e8"/>
<circle cx="226.37" cy="640.80" r="0.88" fill="#8241e8"/>
<circle cx="227.73" cy="632.10" r="0.88" fill="#6e4def"/>
<circle cx="227.73" cy="633.55" r="0.88" fill="#6e4def"/>
<circle cx="227.73" cy="635.00" r="0.88" fill="#6e4def"/>
<circle cx="227.73" cy="636.45" r="0.88" fill="#6e4def"/>
<circle cx="227.73" cy="637.90" r="0.88" fill="#6e4def"/>
<circle cx="227.73" cy="639.35" r="0.88" fill="#6e4def"/>
<circle cx="227.73" cy="640.80" r="0.88" fill="#6e4def"/>
<circle cx="229.10" cy="633.55" r="0.88" fill="#5a5af5"/>
<circle cx="229.10" cy="635.00" r="0.88" fill="#5a5af5"/>
<circle cx="229.10" cy="636.45" r="0.88" fill="#5a5af5"/>
<circle cx="229.10" cy="637.90" r="0.88" fill="#5a5af5"/>
<circle cx="229.10" cy="639.35" r="0.88" fill="#5a5af5"/>
<circle cx="229.10" cy="636.45" r="0.88" fill="#008bfb"/>
<circle cx="230.82" cy="635.00" r="0.88" fill="#008bfb"/>
<circle cx="230.82" cy="636.45" r="0.88" fill="#008bfb"/>
<circle cx="230.82" cy="637.90" r="0.88" fill="#008bfb"/>
<circle cx="232.55" cy="635.00" r="0.88" fill="#008bfb"/>
<circle cx="232.55" cy="636.45" r="0.88" fill="#008bfb"/>
<circle cx="232.55" cy="637.90" r="0.88" fill="#008bfb"/>
<circle cx="234.28" cy="635.00" r="0.88" fill="#008bfb"/>
<circle cx="234.28" cy="636.45" r="0.88" fill="#008bfb"/>
<circle cx="234.28" cy="637.90" r="0.88" fill="#008bfb"/>
<circle cx="236.00" cy="636.45" r="0.88" fill="#008bfb"/>
<defs><linearGradient id="g2402" x1="0" y1="0" x2="0" y2="1"><stop offset="0" stop-color="#ff0052"/><stop offset="0.4" stop-color="#e01e8e"/><stop offset="0.65" stop-color="#9a48d8"/><stop offset="0.85" stop-color="#3f7af0"/><stop offset="1" stop-color="#008bfb"/></linearGradient></defs>
<rect x="255.10" y="552.30" width="1.4" height="99.90" fill="url(#g2402)"/>
<text x="258.40" y="554.75" font-size="5.41" stroke="#333" stroke-width="0.12" fill="#333" textLength="11.72" lengthAdjust="spacingAndGlyphs">High</text>
<text x="258.40" y="654.95" font-size="5.41" stroke="#333" stroke-width="0.12" fill="#333" textLength="10.04" lengthAdjust="spacingAndGlyphs">Low</text>
<text transform="translate(277.00,603.50) rotate(-90)" x="-21.51" y="0" font-size="6.68" stroke="#333" stroke-width="0.12" fill="#333" textLength="43.02" lengthAdjust="spacingAndGlyphs">Feature value</text>
<line x1="353.50" y1="549.00" x2="353.50" y2="650.90" stroke="#6b6b6b" stroke-width="0.7"/>
<line x1="353.50" y1="650.90" x2="436.70" y2="650.90" stroke="#6b6b6b" stroke-width="0.7"/>
<rect x="353.80" y="560.00" width="79.10" height="11.20" fill="#738899"/>
<rect x="353.80" y="577.60" width="46.50" height="10.90" fill="#738899"/>
<rect x="353.80" y="594.90" width="39.60" height="11.40" fill="#738899"/>
<rect x="353.80" y="612.00" width="30.20" height="11.60" fill="#738899"/>
<rect x="353.80" y="629.20" width="24.30" height="11.50" fill="#738899"/>
<text x="297.36" y="569.08" font-size="6.89" stroke="#333333" stroke-width="0.12" fill="#333333" textLength="52.04" lengthAdjust="spacingAndGlyphs">Mood_wellbeing</text>
<text x="290.36" y="586.53" font-size="6.89" stroke="#333333" stroke-width="0.12" fill="#333333" textLength="59.04" lengthAdjust="spacingAndGlyphs">Connect_chattime</text>
<text x="303.22" y="604.08" font-size="6.89" stroke="#333333" stroke-width="0.12" fill="#333333" textLength="46.18" lengthAdjust="spacingAndGlyphs">Mood_anxious</text>
<text x="318.56" y="621.28" font-size="6.89" stroke="#333333" stroke-width="0.12" fill="#333333" textLength="30.84" lengthAdjust="spacingAndGlyphs">Gratitude</text>
<text x="286.17" y="638.43" font-size="6.89" stroke="#333333" stroke-width="0.12" fill="#333333" textLength="63.23" lengthAdjust="spacingAndGlyphs">Breath_consistency</text>
<line x1="353.50" y1="650.90" x2="353.50" y2="652.90" stroke="#6b6b6b" stroke-width="0.6"/>
<text x="349.29" y="660.52" font-size="5.62" stroke="#3a3a3a" stroke-width="0.1" fill="#3a3a3a" textLength="8.43" lengthAdjust="spacingAndGlyphs">0.0</text>
<line x1="389.20" y1="650.90" x2="389.20" y2="652.90" stroke="#6b6b6b" stroke-width="0.6"/>
<text x="384.99" y="660.52" font-size="5.62" stroke="#3a3a3a" stroke-width="0.1" fill="#3a3a3a" textLength="8.43" lengthAdjust="spacingAndGlyphs">0.2</text>
<line x1="424.80" y1="650.90" x2="424.80" y2="652.90" stroke="#6b6b6b" stroke-width="0.6"/>
<text x="420.59" y="660.52" font-size="5.62" stroke="#3a3a3a" stroke-width="0.1" fill="#3a3a3a" textLength="8.43" lengthAdjust="spacingAndGlyphs">0.4</text>
<text x="359.25" y="669.80" font-size="6.68" font-weight="bold" stroke="#111" stroke-width="0.2" fill="#111" textLength="70.71" lengthAdjust="spacingAndGlyphs">mean(|SHAP value|)</text>
<text x="416.20" y="548.63" font-size="10.92" font-weight="bold" stroke="#000" stroke-width="0.35" fill="#000" textLength="54.10" lengthAdjust="spacingAndGlyphs">Empathy</text>
<line x1="494.40" y1="549.00" x2="494.40" y2="650.90" stroke="#999999" stroke-width="0.8"/>
<line x1="454.50" y1="650.90" x2="520.70" y2="650.90" stroke="#6b6b6b" stroke-width="0.7"/>
<line x1="469.30" y1="650.90" x2="469.30" y2="652.90" stroke="#6b6b6b" stroke-width="0.6"/>
<text x="465.39" y="660.52" font-size="5.62" stroke="#3a3a3a" stroke-width="0.1" fill="#3a3a3a" textLength="7.81" lengthAdjust="spacingAndGlyphs">−1</text>
<line x1="494.40" y1="650.90" x2="494.40" y2="652.90" stroke="#6b6b6b" stroke-width="0.6"/>
<text x="492.71" y="660.52" font-size="5.62" stroke="#3a3a3a" stroke-width="0.1" fill="#3a3a3a" textLength="3.37" lengthAdjust="spacingAndGlyphs">0</text>
<line x1="519.40" y1="650.90" x2="519.40" y2="652.90" stroke="#6b6b6b" stroke-width="0.6"/>
<text x="517.71" y="660.52" font-size="5.62" stroke="#3a3a3a" stroke-width="0.1" fill="#3a3a3a" textLength="3.37" lengthAdjust="spacingAndGlyphs">1</text>
<text x="465.91" y="669.80" font-size="6.68" font-weight="bold" stroke="#111" stroke-width="0.2" fill="#111" textLength="40.77" lengthAdjust="spacingAndGlyphs">SHAP value</text>
<circle cx="456.10" cy="565.60" r="0.88" fill="#008bfb"/>
<circle cx="457.70" cy="564.15" r="0.88" fill="#008bfb"/>
<circle cx="457.70" cy="565.60" r="0.88" fill="#008bfb"/>
<circle cx="457.70" cy="567.05" r="0.88" fill="#008bfb"/>
<circle cx="459.30" cy="564.15" r="0.88" fill="#008bfb"/>
<circle cx="459.30" cy="565.60" r="0.88" fill="#008bfb"/>
<circle cx="459.30" cy="567.05" r="0.88" fill="#008bfb"/>
<circle cx="460.90" cy="565.60" r="0.88" fill="#008bfb"/>
<circle cx="466.40" cy="564.15" r="0.88" fill="#008bfb"/>
<circle cx="466.40" cy="565.60" r="0.88" fill="#008bfb"/>
<circle cx="466.40" cy="567.05" r="0.88" fill="#008bfb"/>
<circle cx="476.60" cy="565.60" r="0.88" fill="#008bfb"/>
<circle cx="478.60" cy="565.60" r="0.88" fill="#008bfb"/>
<circle cx="482.10" cy="565.60" r="0.88" fill="#008bfb"/>
<circle cx="489.60" cy="559.80" r="0.88" fill="#9634e2"/>
<circle cx="489.60" cy="561.25" r="0.88" fill="#9634e2"/>
<circle cx="489.60" cy="562.70" r="0.88" fill="#9634e2"/>
<circle cx="489.60" cy="564.15" r="0.88" fill="#9634e2"/>
<circle cx="489.60" cy="565.60" r="0.88" fill="#9634e2"/>
<circle cx="489.60" cy="567.05" r="0.88" fill="#9634e2"/>
<circle cx="489.60" cy="568.50" r="0.88" fill="#9634e2"/>
<circle cx="489.60" cy="569.95" r="0.88" fill="#9634e2"/>
<circle cx="489.60" cy="571.40" r="0.88" fill="#9634e2"/>
<circle cx="494.30" cy="564.15" r="0.88" fill="#9634e2"/>
<circle cx="494.30" cy="565.60" r="0.88" fill="#9634e2"/>
<circle cx="494.30" cy="567.05" r="0.88" fill="#9634e2"/>
<circle cx="495.93" cy="564.15" r="0.88" fill="#ae29c6"/>
<circle cx="495.93" cy="565.60" r="0.88" fill="#ae29c6"/>
<circle cx="495.93" cy="567.05" r="0.88" fill="#ae29c6"/>
<circle cx="497.55" cy="565.60" r="0.88" fill="#c61ea9"/>
<circle cx="499.18" cy="562.70" r="0.88" fill="#ce1aa0"/>
<circle cx="499.18" cy="564.15" r="0.88" fill="#ce1aa0"/>
<circle cx="499.18" cy="565.60" r="0.88" fill="#ce1aa0"/>
<circle cx="499.18" cy="567.05" r="0.88" fill="#ce1aa0"/>
<circle cx="499.18" cy="568.50" r="0.88" fill="#ce1aa0"/>
<circle cx="500.80" cy="564.15" r="0.88" fill="#b625bc"/>
<circle cx="500.80" cy="565.60" r="0.88" fill="#b625bc"/>
<circle cx="500.80" cy="567.05" r="0.88" fill="#b625bc"/>
<circle cx="502.43" cy="562.70" r="0.88" fill="#9e30d8"/>
<circle cx="502.43" cy="564.15" r="0.88" fill="#9e30d8"/>
<circle cx="502.43" cy="565.60" r="0.88" fill="#9e30d8"/>
<circle cx="502.43" cy="567.05" r="0.88" fill="#9e30d8"/>
<circle cx="502.43" cy="568.50" r="0.88" fill="#9e30d8"/>
<circle cx="504.05" cy="564.15" r="0.88" fill="#a62ccf"/>
<circle cx="504.05" cy="565.60" r="0.88" fill="#a62ccf"/>
<circle cx="504.05" cy="567.05" r="0.88" fill="#a62ccf"/>
<circle cx="505.68" cy="564.15" r="0.88" fill="#be21b2"/>
<circle cx="505.68" cy="565.60" r="0.88" fill="#be21b2"/>
<circle cx="505.68" cy="567.05" r="0.88" fill="#be21b2"/>
<circle cx="507.30" cy="565.60" r="0.88" fill="#d61696"/>
<circle cx="507.30" cy="564.15" r="0.88" fill="#ff0052"/>
<circle cx="507.30" cy="565.60" r="0.88" fill="#ff0052"/>
<circle cx="507.30" cy="567.05" r="0.88" fill="#ff0052"/>
<circle cx="509.34" cy="564.15" r="0.88" fill="#ff0052"/>
<circle cx="509.34" cy="565.60" r="0.88" fill="#ff0052"/>
<circle cx="509.34" cy="567.05" r="0.88" fill="#ff0052"/>
<circle cx="511.38" cy="564.15" r="0.88" fill="#ff0052"/>
<circle cx="511.38" cy="565.60" r="0.88" fill="#ff0052"/>
<circle cx="511.38" cy="567.05" r="0.88" fill="#ff0052"/>
<circle cx="513.42" cy="564.15" r="0.88" fill="#ff0052"/>
<circle cx="513.42" cy="565.60" r="0.88" fill="#ff0052"/>
<circle cx="513.42" cy="567.05" r="0.88" fill="#ff0052"/>
<circle cx="515.46" cy="565.60" r="0.88" fill="#ff0052"/>
<circle cx="517.50" cy="565.60" r="0.88" fill="#ff0052"/>
<circle cx="516.00" cy="561.25" r="0.88" fill="#ff0052"/>
<circle cx="516.00" cy="562.70" r="0.88" fill="#ff0052"/>
<circle cx="516.00" cy="564.15" r="0.88" fill="#ff0052"/>
<circle cx="516.00" cy="565.60" r="0.88" fill="#ff0052"/>
<circle cx="516.00" cy="567.05" r="0.88" fill="#ff0052"/>
<circle cx="516.00" cy="568.50" r="0.88" fill="#ff0052"/>
<circle cx="516.00" cy="569.95" r="0.88" fill="#ff0052"/>
<circle cx="484.10" cy="583.05" r="0.88" fill="#008bfb"/>
<circle cx="485.70" cy="581.60" r="0.88" fill="#008bfb"/>
<circle cx="485.70" cy="583.05" r="0.88" fill="#008bfb"/>
<circle cx="485.70" cy="584.50" r="0.88" fill="#008bfb"/>
<circle cx="487.30" cy="581.60" r="0.88" fill="#008bfb"/>
<circle cx="487.30" cy="583.05" r="0.88" fill="#008bfb"/>
<circle cx="487.30" cy="584.50" r="0.88" fill="#008bfb"/>
<circle cx="488.90" cy="580.15" r="0.88" fill="#008bfb"/>
<circle cx="488.90" cy="581.60" r="0.88" fill="#008bfb"/>
<circle cx="488.90" cy="583.05" r="0.88" fill="#008bfb"/>
<circle cx="488.90" cy="584.50" r="0.88" fill="#008bfb"/>
<circle cx="488.90" cy="585.95" r="0.88" fill="#008bfb"/>
<circle cx="490.50" cy="581.60" r="0.88" fill="#008bfb"/>
<circle cx="490.50" cy="583.05" r="0.88" fill="#008bfb"/>
<circle cx="490.50" cy="584.50" r="0.88" fill="#008bfb"/>
<circle cx="492.10" cy="581.60" r="0.88" fill="#008bfb"/>
<circle cx="492.10" cy="583.05" r="0.88" fill="#008bfb"/>
<circle cx="492.10" cy="584.50" r="0.88" fill="#008bfb"/>
<circle cx="493.70" cy="581.60" r="0.88" fill="#008bfb"/>
<circle cx="493.70" cy="583.05" r="0.88" fill="#008bfb"/>
<circle cx="493.70" cy="584.50" r="0.88" fill="#008bfb"/>
<circle cx="493.70" cy="583.05" r="0.88" fill="#9634e2"/>
<circle cx="495.20" cy="581.60" r="0.88" fill="#a32ed3"/>
<circle cx="495.20" cy="583.05" r="0.88" fill="#a32ed3"/>
<circle cx="495.20" cy="584.50" r="0.88" fill="#a32ed3"/>
<circle cx="496.70" cy="578.70" r="0.88" fill="#b028c4"/>
<circle cx="496.70" cy="580.15" r="0.88" fill="#b028c4"/>
<circle cx="496.70" cy="581.60" r="0.88" fill="#b028c4"/>
<circle cx="496.70" cy="583.05" r="0.88" fill="#b028c4"/>
<circle cx="496.70" cy="584.50" r="0.88" fill="#b028c4"/>
<circle cx="496.70" cy="585.95" r="0.88" fill="#b028c4"/>
<circle cx="496.70" cy="587.40" r="0.88" fill="#b028c4"/>
<circle cx="498.20" cy="580.15" r="0.88" fill="#bc22b4"/>
<circle cx="498.20" cy="581.60" r="0.88" fill="#bc22b4"/>
<circle cx="498.20" cy="583.05" r="0.88" fill="#bc22b4"/>
<circle cx="498.20" cy="584.50" r="0.88" fill="#bc22b4"/>
<circle cx="498.20" cy="585.95" r="0.88" fill="#bc22b4"/>
<circle cx="499.70" cy="580.15" r="0.88" fill="#c91ca5"/>
<circle cx="499.70" cy="581.60" r="0.88" fill="#c91ca5"/>
<circle cx="499.70" cy="583.05" r="0.88" fill="#c91ca5"/>
<circle cx="499.70" cy="584.50" r="0.88" fill="#c91ca5"/>
<circle cx="499.70" cy="585.95" r="0.88" fill="#c91ca5"/>
<circle cx="501.20" cy="581.60" r="0.88" fill="#d61696"/>
<circle cx="501.20" cy="583.05" r="0.88" fill="#d61696"/>
<circle cx="501.20" cy="584.50" r="0.88" fill="#d61696"/>
<circle cx="503.20" cy="583.05" r="0.88" fill="#ff0052"/>
<circle cx="508.70" cy="583.05" r="0.88" fill="#ff0052"/>
<circle cx="484.80" cy="599.15" r="0.88" fill="#008bfb"/>
<circle cx="484.80" cy="600.60" r="0.88" fill="#008bfb"/>
<circle cx="484.80" cy="602.05" r="0.88" fill="#008bfb"/>
<circle cx="486.32" cy="597.70" r="0.88" fill="#008bfb"/>
<circle cx="486.32" cy="599.15" r="0.88" fill="#008bfb"/>
<circle cx="486.32" cy="600.60" r="0.88" fill="#008bfb"/>
<circle cx="486.32" cy="602.05" r="0.88" fill="#008bfb"/>
<circle cx="486.32" cy="603.50" r="0.88" fill="#008bfb"/>
<circle cx="487.85" cy="597.70" r="0.88" fill="#008bfb"/>
<circle cx="487.85" cy="599.15" r="0.88" fill="#008bfb"/>
<circle cx="487.85" cy="600.60" r="0.88" fill="#008bfb"/>
<circle cx="487.85" cy="602.05" r="0.88" fill="#008bfb"/>
<circle cx="487.85" cy="603.50" r="0.88" fill="#008bfb"/>
<circle cx="489.38" cy="597.70" r="0.88" fill="#008bfb"/>
<circle cx="489.38" cy="599.15" r="0.88" fill="#008bfb"/>
<circle cx="489.38" cy="600.60" r="0.88" fill="#008bfb"/>
<circle cx="489.38" cy="602.05" r="0.88" fill="#008bfb"/>
<circle cx="489.38" cy="603.50" r="0.88" fill="#008bfb"/>
<circle cx="490.90" cy="600.60" r="0.88" fill="#008bfb"/>
<circle cx="490.90" cy="599.15" r="0.88" fill="#5a5af5"/>
<circle cx="490.90" cy="600.60" r="0.88" fill="#5a5af5"/>
<circle cx="490.90" cy="602.05" r="0.88" fill="#5a5af5"/>
<circle cx="492.60" cy="599.15" r="0.88" fill="#6951f0"/>
<circle cx="492.60" cy="600.60" r="0.88" fill="#6951f0"/>
<circle cx="492.60" cy="602.05" r="0.88" fill="#6951f0"/>
<circle cx="494.30" cy="596.25" r="0.88" fill="#7847ec"/>
<circle cx="494.30" cy="597.70" r="0.88" fill="#7847ec"/>
<circle cx="494.30" cy="599.15" r="0.88" fill="#7847ec"/>
<circle cx="494.30" cy="600.60" r="0.88" fill="#7847ec"/>
<circle cx="494.30" cy="602.05" r="0.88" fill="#7847ec"/>
<circle cx="494.30" cy="603.50" r="0.88" fill="#7847ec"/>
<circle cx="494.30" cy="604.95" r="0.88" fill="#7847ec"/>
<circle cx="496.00" cy="597.70" r="0.88" fill="#873de7"/>
<circle cx="496.00" cy="599.15" r="0.88" fill="#873de7"/>
<circle cx="496.00" cy="600.60" r="0.88" fill="#873de7"/>
<circle cx="496.00" cy="602.05" r="0.88" fill="#873de7"/>
<circle cx="496.00" cy="603.50" r="0.88" fill="#873de7"/>
<circle cx="497.70" cy="599.15" r="0.88" fill="#9634e2"/>
<circle cx="497.70" cy="600.60" r="0.88" fill="#9634e2"/>
<circle cx="497.70" cy="602.05" r="0.88" fill="#9634e2"/>
<circle cx="497.70" cy="600.60" r="0.88" fill="#d61696"/>
<circle cx="499.75" cy="599.15" r="0.88" fill="#e01085"/>
<circle cx="499.75" cy="600.60" r="0.88" fill="#e01085"/>
<circle cx="499.75" cy="602.05" r="0.88" fill="#e01085"/>
<circle cx="501.80" cy="600.60" r="0.88" fill="#ea0b74"/>
<circle cx="503.85" cy="600.60" r="0.88" fill="#f50663"/>
<circle cx="505.90" cy="600.60" r="0.88" fill="#ff0052"/>
<circle cx="470.50" cy="617.80" r="0.88" fill="#008bfb"/>
<circle cx="482.10" cy="617.80" r="0.88" fill="#008bfb"/>
<circle cx="487.50" cy="616.35" r="0.88" fill="#008bfb"/>
<circle cx="487.50" cy="617.80" r="0.88" fill="#008bfb"/>
<circle cx="487.50" cy="619.25" r="0.88" fill="#008bfb"/>
<circle cx="489.10" cy="616.35" r="0.88" fill="#008bfb"/>
<circle cx="489.10" cy="617.80" r="0.88" fill="#008bfb"/>
<circle cx="489.10" cy="619.25" r="0.88" fill="#008bfb"/>
<circle cx="490.70" cy="616.35" r="0.88" fill="#008bfb"/>
<circle cx="490.70" cy="617.80" r="0.88" fill="#008bfb"/>
<circle cx="490.70" cy="619.25" r="0.88" fill="#008bfb"/>
<circle cx="492.30" cy="616.35" r="0.88" fill="#008bfb"/>
<circle cx="492.30" cy="617.80" r="0.88" fill="#008bfb"/>
<circle cx="492.30" cy="619.25" r="0.88" fill="#008bfb"/>
<circle cx="493.70" cy="616.35" r="0.88" fill="#ff0052"/>
<circle cx="493.70" cy="617.80" r="0.88" fill="#ff0052"/>
<circle cx="493.70" cy="619.25" r="0.88" fill="#ff0052"/>
<circle cx="495.23" cy="616.35" r="0.88" fill="#ff0052"/>
<circle cx="495.23" cy="617.80" r="0.88" fill="#ff0052"/>
<circle cx="495.23" cy="619.25" r="0.88" fill="#ff0052"/>
<circle cx="496.75" cy="614.90" r="0.88" fill="#ff0052"/>
<circle cx="496.75" cy="616.35" r="0.88" fill="#ff0052"/>
<circle cx="496.75" cy="617.80" r="0.88" fill="#ff0052"/>
<circle cx="496.75" cy="619.25" r="0.88" fill="#ff0052"/>
<circle cx="496.75" cy="620.70" r="0.88" fill="#ff0052"/>
<circle cx="498.27" cy="616.35" r="0.88" fill="#ff0052"/>
<circle cx="498.27" cy="617.80" r="0.88" fill="#ff0052"/>
<circle cx="498.27" cy="619.25" r="0.88" fill="#ff0052"/>
<circle cx="499.80" cy="617.80" r="0.88" fill="#ff0052"/>
<circle cx="484.10" cy="634.95" r="0.88" fill="#008bfb"/>
<circle cx="487.50" cy="634.95" r="0.88" fill="#008bfb"/>
<circle cx="489.25" cy="633.50" r="0.88" fill="#008bfb"/>
<circle cx="489.25" cy="634.95" r="0.88" fill="#008bfb"/>
<circle cx="489.25" cy="636.40" r="0.88" fill="#008bfb"/>
<circle cx="491.00" cy="634.95" r="0.88" fill="#008bfb"/>
<circle cx="492.30" cy="632.05" r="0.88" fill="#5a5af5"/>
<circle cx="492.30" cy="633.50" r="0.88" fill="#5a5af5"/>
<circle cx="492.30" cy="634.95" r="0.88" fill="#5a5af5"/>
<circle cx="492.30" cy="636.40" r="0.88" fill="#5a5af5"/>
<circle cx="492.30" cy="637.85" r="0.88" fill="#5a5af5"/>
<circle cx="493.65" cy="630.60" r="0.88" fill="#7847ec"/>
<circle cx="493.65" cy="632.05" r="0.88" fill="#7847ec"/>
<circle cx="493.65" cy="633.50" r="0.88" fill="#7847ec"/>
<circle cx="493.65" cy="634.95" r="0.88" fill="#7847ec"/>
<circle cx="493.65" cy="636.40" r="0.88" fill="#7847ec"/>
<circle cx="493.65" cy="637.85" r="0.88" fill="#7847ec"/>
<circle cx="493.65" cy="639.30" r="0.88" fill="#7847ec"/>
<circle cx="495.00" cy="632.05" r="0.88" fill="#9634e2"/>
<circle cx="495.00" cy="633.50" r="0.88" fill="#9634e2"/>
<circle cx="495.00" cy="634.95" r="0.88" fill="#9634e2"/>
<circle cx="495.00" cy="636.40" r="0.88" fill="#9634e2"/>
<circle cx="495.00" cy="637.85" r="0.88" fill="#9634e2"/>
<circle cx="495.00" cy="633.50" r="0.88" fill="#d61696"/>
<circle cx="495.00" cy="634.95" r="0.88" fill="#d61696"/>
<circle cx="495.00" cy="636.40" r="0.88" fill="#d61696"/>
<circle cx="496.64" cy="633.50" r="0.88" fill="#de1288"/>
<circle cx="496.64" cy="634.95" r="0.88" fill="#de1288"/>
<circle cx="496.64" cy="636.40" r="0.88" fill="#de1288"/>
<circle cx="498.28" cy="633.50" r="0.88" fill="#e60d7b"/>
<circle cx="498.28" cy="634.95" r="0.88" fill="#e60d7b"/>
<circle cx="498.28" cy="636.40" r="0.88" fill="#e60d7b"/>
<circle cx="499.92" cy="633.50" r="0.88" fill="#ef096d"/>
<circle cx="499.92" cy="634.95" r="0.88" fill="#ef096d"/>
<circle cx="499.92" cy="636.40" r="0.88" fill="#ef096d"/>
<circle cx="501.56" cy="634.95" r="0.88" fill="#f70460"/>
<circle cx="503.20" cy="634.95" r="0.88" fill="#ff0052"/>
<defs><linearGradient id="g2667" x1="0" y1="0" x2="0" y2="1"><stop offset="0" stop-color="#ff0052"/><stop offset="0.4" stop-color="#e01e8e"/><stop offset="0.65" stop-color="#9a48d8"/><stop offset="0.85" stop-color="#3f7af0"/><stop offset="1" stop-color="#008bfb"/></linearGradient></defs>
<rect x="524.60" y="549.00" width="1.4" height="103.00" fill="url(#g2667)"/>
<text x="527.90" y="551.45" font-size="5.41" stroke="#333" stroke-width="0.12" fill="#333" textLength="11.72" lengthAdjust="spacingAndGlyphs">High</text>
<text x="527.90" y="654.75" font-size="5.41" stroke="#333" stroke-width="0.12" fill="#333" textLength="10.04" lengthAdjust="spacingAndGlyphs">Low</text>
<text transform="translate(546.00,602.50) rotate(-90)" x="-21.51" y="0" font-size="6.68" stroke="#333" stroke-width="0.12" fill="#333" textLength="43.02" lengthAdjust="spacingAndGlyphs">Feature value</text>
<line x1="90.00" y1="687.40" x2="90.00" y2="787.60" stroke="#6b6b6b" stroke-width="0.7"/>
<line x1="90.00" y1="787.60" x2="168.30" y2="787.60" stroke="#6b6b6b" stroke-width="0.7"/>
<rect x="90.30" y="698.00" width="76.60" height="10.80" fill="#738899"/>
<rect x="90.30" y="714.60" width="40.00" height="11.00" fill="#738899"/>
<rect x="90.30" y="731.70" width="36.20" height="10.90" fill="#738899"/>
<rect x="90.30" y="748.20" width="33.90" height="10.90" fill="#738899"/>
<rect x="90.30" y="765.00" width="32.70" height="11.20" fill="#738899"/>
<text x="40.74" y="706.80" font-size="6.68" stroke="#333333" stroke-width="0.12" fill="#333333" textLength="44.76" lengthAdjust="spacingAndGlyphs">Mood_anxious</text>
<text x="28.28" y="723.50" font-size="6.68" stroke="#333333" stroke-width="0.12" fill="#333333" textLength="57.22" lengthAdjust="spacingAndGlyphs">Connect_chattime</text>
<text x="55.61" y="740.55" font-size="6.68" stroke="#333333" stroke-width="0.12" fill="#333333" textLength="29.89" lengthAdjust="spacingAndGlyphs">Gratitude</text>
<text x="37.14" y="757.05" font-size="6.68" stroke="#333333" stroke-width="0.12" fill="#333333" textLength="48.36" lengthAdjust="spacingAndGlyphs">Mood_empathy</text>
<text x="33.15" y="774.00" font-size="6.68" stroke="#333333" stroke-width="0.12" fill="#333333" textLength="52.35" lengthAdjust="spacingAndGlyphs">Diet_satisfaction</text>
<line x1="90.00" y1="787.60" x2="90.00" y2="789.60" stroke="#6b6b6b" stroke-width="0.6"/>
<text x="85.79" y="796.02" font-size="5.62" stroke="#3a3a3a" stroke-width="0.1" fill="#3a3a3a" textLength="8.43" lengthAdjust="spacingAndGlyphs">0.0</text>
<line x1="114.00" y1="787.60" x2="114.00" y2="789.60" stroke="#6b6b6b" stroke-width="0.6"/>
<text x="109.79" y="796.02" font-size="5.62" stroke="#3a3a3a" stroke-width="0.1" fill="#3a3a3a" textLength="8.43" lengthAdjust="spacingAndGlyphs">0.5</text>
<line x1="138.20" y1="787.60" x2="138.20" y2="789.60" stroke="#6b6b6b" stroke-width="0.6"/>
<text x="133.99" y="796.02" font-size="5.62" stroke="#3a3a3a" stroke-width="0.1" fill="#3a3a3a" textLength="8.43" lengthAdjust="spacingAndGlyphs">1.0</text>
<line x1="162.20" y1="787.60" x2="162.20" y2="789.60" stroke="#6b6b6b" stroke-width="0.6"/>
<text x="157.99" y="796.02" font-size="5.62" stroke="#3a3a3a" stroke-width="0.1" fill="#3a3a3a" textLength="8.43" lengthAdjust="spacingAndGlyphs">1.5</text>
<text x="94.95" y="804.30" font-size="6.68" font-weight="bold" stroke="#111" stroke-width="0.2" fill="#111" textLength="70.71" lengthAdjust="spacingAndGlyphs">mean(|SHAP value|)</text>
<text x="147.00" y="686.83" font-size="10.92" font-weight="bold" stroke="#000" stroke-width="0.35" fill="#000" textLength="59.20" lengthAdjust="spacingAndGlyphs">Wellbeing</text>
<text transform="translate(15.74,738.80) rotate(-90)" x="-12.36" y="0" font-size="10.39" font-weight="bold" stroke="#000" stroke-width="0.3" fill="#000" textLength="24.72" lengthAdjust="spacingAndGlyphs">P-20</text>
<line x1="218.90" y1="686.00" x2="218.90" y2="787.60" stroke="#999999" stroke-width="0.8"/>
<line x1="186.70" y1="787.60" x2="248.70" y2="787.60" stroke="#6b6b6b" stroke-width="0.7"/>
<line x1="201.20" y1="787.60" x2="201.20" y2="789.60" stroke="#6b6b6b" stroke-width="0.6"/>
<text x="194.77" y="796.02" font-size="5.62" stroke="#3a3a3a" stroke-width="0.1" fill="#3a3a3a" textLength="12.87" lengthAdjust="spacingAndGlyphs">−2.5</text>
<line x1="218.90" y1="787.60" x2="218.90" y2="789.60" stroke="#6b6b6b" stroke-width="0.6"/>
<text x="214.69" y="796.02" font-size="5.62" stroke="#3a3a3a" stroke-width="0.1" fill="#3a3a3a" textLength="8.43" lengthAdjust="spacingAndGlyphs">0.0</text>
<line x1="236.90" y1="787.60" x2="236.90" y2="789.60" stroke="#6b6b6b" stroke-width="0.6"/>
<text x="232.69" y="796.02" font-size="5.62" stroke="#3a3a3a" stroke-width="0.1" fill="#3a3a3a" textLength="8.43" lengthAdjust="spacingAndGlyphs">2.5</text>
<text x="198.01" y="804.60" font-size="6.68" font-weight="bold" stroke="#111" stroke-width="0.2" fill="#111" textLength="40.77" lengthAdjust="spacingAndGlyphs">SHAP value</text>
<circle cx="189.50" cy="703.40" r="0.88" fill="#ff0052"/>
<circle cx="195.70" cy="703.40" r="0.88" fill="#ff0052"/>
<circle cx="197.40" cy="703.40" r="0.88" fill="#ff0052"/>
<circle cx="199.10" cy="703.40" r="0.88" fill="#ff0052"/>
<circle cx="200.80" cy="701.95" r="0.88" fill="#ff0052"/>
<circle cx="200.80" cy="703.40" r="0.88" fill="#ff0052"/>
<circle cx="200.80" cy="704.85" r="0.88" fill="#ff0052"/>
<circle cx="202.50" cy="701.95" r="0.88" fill="#ff0052"/>
<circle cx="202.50" cy="703.40" r="0.88" fill="#ff0052"/>
<circle cx="202.50" cy="704.85" r="0.88" fill="#ff0052"/>
<circle cx="204.20" cy="701.95" r="0.88" fill="#ff0052"/>
<circle cx="204.20" cy="703.40" r="0.88" fill="#ff0052"/>
<circle cx="204.20" cy="704.85" r="0.88" fill="#ff0052"/>
<circle cx="205.90" cy="703.40" r="0.88" fill="#ff0052"/>
<circle cx="209.30" cy="703.40" r="0.88" fill="#ff0052"/>
<circle cx="211.03" cy="703.40" r="0.88" fill="#f50663"/>
<circle cx="212.75" cy="703.40" r="0.88" fill="#ea0b74"/>
<circle cx="214.47" cy="703.40" r="0.88" fill="#e01085"/>
<circle cx="216.20" cy="703.40" r="0.88" fill="#d61696"/>
<circle cx="218.90" cy="699.05" r="0.88" fill="#9634e2"/>
<circle cx="218.90" cy="700.50" r="0.88" fill="#9634e2"/>
<circle cx="218.90" cy="701.95" r="0.88" fill="#9634e2"/>
<circle cx="218.90" cy="703.40" r="0.88" fill="#9634e2"/>
<circle cx="218.90" cy="704.85" r="0.88" fill="#9634e2"/>
<circle cx="218.90" cy="706.30" r="0.88" fill="#9634e2"/>
<circle cx="218.90" cy="707.75" r="0.88" fill="#9634e2"/>
<circle cx="221.00" cy="703.40" r="0.88" fill="#5a5af5"/>
<circle cx="222.54" cy="701.95" r="0.88" fill="#4d61f6"/>
<circle cx="222.54" cy="703.40" r="0.88" fill="#4d61f6"/>
<circle cx="222.54" cy="704.85" r="0.88" fill="#4d61f6"/>
<circle cx="224.09" cy="703.40" r="0.88" fill="#4068f7"/>
<circle cx="225.63" cy="701.95" r="0.88" fill="#336ff8"/>
<circle cx="225.63" cy="703.40" r="0.88" fill="#336ff8"/>
<circle cx="225.63" cy="704.85" r="0.88" fill="#336ff8"/>
<circle cx="227.17" cy="701.95" r="0.88" fill="#2776f8"/>
<circle cx="227.17" cy="703.40" r="0.88" fill="#2776f8"/>
<circle cx="227.17" cy="704.85" r="0.88" fill="#2776f8"/>
<circle cx="228.71" cy="700.50" r="0.88" fill="#1a7df9"/>
<circle cx="228.71" cy="701.95" r="0.88" fill="#1a7df9"/>
<circle cx="228.71" cy="703.40" r="0.88" fill="#1a7df9"/>
<circle cx="228.71" cy="704.85" r="0.88" fill="#1a7df9"/>
<circle cx="228.71" cy="706.30" r="0.88" fill="#1a7df9"/>
<circle cx="230.26" cy="703.40" r="0.88" fill="#0d84fa"/>
<circle cx="231.80" cy="703.40" r="0.88" fill="#008bfb"/>
<circle cx="235.30" cy="703.40" r="0.88" fill="#008bfb"/>
<circle cx="237.24" cy="703.40" r="0.88" fill="#008bfb"/>
<circle cx="239.19" cy="703.40" r="0.88" fill="#008bfb"/>
<circle cx="241.13" cy="701.95" r="0.88" fill="#008bfb"/>
<circle cx="241.13" cy="703.40" r="0.88" fill="#008bfb"/>
<circle cx="241.13" cy="704.85" r="0.88" fill="#008bfb"/>
<circle cx="243.07" cy="701.95" r="0.88" fill="#008bfb"/>
<circle cx="243.07" cy="703.40" r="0.88" fill="#008bfb"/>
<circle cx="243.07" cy="704.85" r="0.88" fill="#008bfb"/>
<circle cx="245.01" cy="701.95" r="0.88" fill="#008bfb"/>
<circle cx="245.01" cy="703.40" r="0.88" fill="#008bfb"/>
<circle cx="245.01" cy="704.85" r="0.88" fill="#008bfb"/>
<circle cx="246.96" cy="703.40" r="0.88" fill="#008bfb"/>
<circle cx="248.90" cy="703.40" r="0.88" fill="#008bfb"/>
<circle cx="201.80" cy="720.10" r="0.88" fill="#008bfb"/>
<circle cx="206.60" cy="720.10" r="0.88" fill="#008bfb"/>
<circle cx="208.20" cy="718.65" r="0.88" fill="#008bfb"/>
<circle cx="208.20" cy="720.10" r="0.88" fill="#008bfb"/>
<circle cx="208.20" cy="721.55" r="0.88" fill="#008bfb"/>
<circle cx="209.80" cy="718.65" r="0.88" fill="#008bfb"/>
<circle cx="209.80" cy="720.10" r="0.88" fill="#008bfb"/>
<circle cx="209.80" cy="721.55" r="0.88" fill="#008bfb"/>
<circle cx="211.40" cy="718.65" r="0.88" fill="#008bfb"/>
<circle cx="211.40" cy="720.10" r="0.88" fill="#008bfb"/>
<circle cx="211.40" cy="721.55" r="0.88" fill="#008bfb"/>
<circle cx="213.00" cy="720.10" r="0.88" fill="#008bfb"/>
<circle cx="214.60" cy="720.10" r="0.88" fill="#008bfb"/>
<circle cx="216.20" cy="718.65" r="0.88" fill="#008bfb"/>
<circle cx="216.20" cy="720.10" r="0.88" fill="#008bfb"/>
<circle cx="216.20" cy="721.55" r="0.88" fill="#008bfb"/>
<circle cx="216.20" cy="718.65" r="0.88" fill="#008bfb"/>
<circle cx="216.20" cy="720.10" r="0.88" fill="#008bfb"/>
<circle cx="216.20" cy="721.55" r="0.88" fill="#008bfb"/>
<circle cx="217.72" cy="715.75" r="0.88" fill="#008bfb"/>
<circle cx="217.72" cy="717.20" r="0.88" fill="#008bfb"/>
<circle cx="217.72" cy="718.65" r="0.88" fill="#008bfb"/>
<circle cx="217.72" cy="720.10" r="0.88" fill="#008bfb"/>
<circle cx="217.72" cy="721.55" r="0.88" fill="#008bfb"/>
<circle cx="217.72" cy="723.00" r="0.88" fill="#008bfb"/>
<circle cx="217.72" cy="724.45" r="0.88" fill="#008bfb"/>
<circle cx="219.25" cy="715.75" r="0.88" fill="#008bfb"/>
<circle cx="219.25" cy="717.20" r="0.88" fill="#008bfb"/>
<circle cx="219.25" cy="718.65" r="0.88" fill="#008bfb"/>
<circle cx="219.25" cy="720.10" r="0.88" fill="#008bfb"/>
<circle cx="219.25" cy="721.55" r="0.88" fill="#008bfb"/>
<circle cx="219.25" cy="723.00" r="0.88" fill="#008bfb"/>
<circle cx="219.25" cy="724.45" r="0.88" fill="#008bfb"/>
<circle cx="220.78" cy="718.65" r="0.88" fill="#008bfb"/>
<circle cx="220.78" cy="720.10" r="0.88" fill="#008bfb"/>
<circle cx="220.78" cy="721.55" r="0.88" fill="#008bfb"/>
<circle cx="222.30" cy="720.10" r="0.88" fill="#008bfb"/>
<circle cx="229.10" cy="720.10" r="0.88" fill="#ff0052"/>
<circle cx="233.90" cy="720.10" r="0.88" fill="#ff0052"/>
<circle cx="236.40" cy="720.10" r="0.88" fill="#ff0052"/>
<circle cx="238.90" cy="720.10" r="0.88" fill="#ff0052"/>
<circle cx="241.40" cy="718.65" r="0.88" fill="#ff0052"/>
<circle cx="241.40" cy="720.10" r="0.88" fill="#ff0052"/>
<circle cx="241.40" cy="721.55" r="0.88" fill="#ff0052"/>
<circle cx="243.90" cy="720.10" r="0.88" fill="#ff0052"/>
<circle cx="246.40" cy="720.10" r="0.88" fill="#ff0052"/>
<circle cx="248.90" cy="720.10" r="0.88" fill="#ff0052"/>
<circle cx="195.70" cy="737.15" r="0.88" fill="#008bfb"/>
<circle cx="197.07" cy="737.15" r="0.88" fill="#008bfb"/>
<circle cx="198.43" cy="737.15" r="0.88" fill="#008bfb"/>
<circle cx="199.80" cy="737.15" r="0.88" fill="#008bfb"/>
<circle cx="206.60" cy="737.15" r="0.88" fill="#008bfb"/>
<circle cx="208.20" cy="735.70" r="0.88" fill="#0f83fa"/>
<circle cx="208.20" cy="737.15" r="0.88" fill="#0f83fa"/>
<circle cx="208.20" cy="738.60" r="0.88" fill="#0f83fa"/>
<circle cx="209.80" cy="737.15" r="0.88" fill="#1e7bf9"/>
<circle cx="211.40" cy="735.70" r="0.88" fill="#2d73f8"/>
<circle cx="211.40" cy="737.15" r="0.88" fill="#2d73f8"/>
<circle cx="211.40" cy="738.60" r="0.88" fill="#2d73f8"/>
<circle cx="213.00" cy="737.15" r="0.88" fill="#3c6af7"/>
<circle cx="214.60" cy="735.70" r="0.88" fill="#4b62f6"/>
<circle cx="214.60" cy="737.15" r="0.88" fill="#4b62f6"/>
<circle cx="214.60" cy="738.60" r="0.88" fill="#4b62f6"/>
<circle cx="216.20" cy="737.15" r="0.88" fill="#5a5af5"/>
<circle cx="216.20" cy="735.70" r="0.88" fill="#9634e2"/>
<circle cx="216.20" cy="737.15" r="0.88" fill="#9634e2"/>
<circle cx="216.20" cy="738.60" r="0.88" fill="#9634e2"/>
<circle cx="217.70" cy="735.70" r="0.88" fill="#a32ed3"/>
<circle cx="217.70" cy="737.15" r="0.88" fill="#a32ed3"/>
<circle cx="217.70" cy="738.60" r="0.88" fill="#a32ed3"/>
<circle cx="219.20" cy="735.70" r="0.88" fill="#b028c4"/>
<circle cx="219.20" cy="737.15" r="0.88" fill="#b028c4"/>
<circle cx="219.20" cy="738.60" r="0.88" fill="#b028c4"/>
<circle cx="220.70" cy="734.25" r="0.88" fill="#bc22b4"/>
<circle cx="220.70" cy="735.70" r="0.88" fill="#bc22b4"/>
<circle cx="220.70" cy="737.15" r="0.88" fill="#bc22b4"/>
<circle cx="220.70" cy="738.60" r="0.88" fill="#bc22b4"/>
<circle cx="220.70" cy="740.05" r="0.88" fill="#bc22b4"/>
<circle cx="222.20" cy="734.25" r="0.88" fill="#c91ca5"/>
<circle cx="222.20" cy="735.70" r="0.88" fill="#c91ca5"/>
<circle cx="222.20" cy="737.15" r="0.88" fill="#c91ca5"/>
<circle cx="222.20" cy="738.60" r="0.88" fill="#c91ca5"/>
<circle cx="222.20" cy="740.05" r="0.88" fill="#c91ca5"/>
<circle cx="223.70" cy="737.15" r="0.88" fill="#d61696"/>
<circle cx="223.70" cy="737.15" r="0.88" fill="#d61696"/>
<circle cx="225.28" cy="735.70" r="0.88" fill="#dd128b"/>
<circle cx="225.28" cy="737.15" r="0.88" fill="#dd128b"/>
<circle cx="225.28" cy="738.60" r="0.88" fill="#dd128b"/>
<circle cx="226.87" cy="735.70" r="0.88" fill="#e40f7f"/>
<circle cx="226.87" cy="737.15" r="0.88" fill="#e40f7f"/>
<circle cx="226.87" cy="738.60" r="0.88" fill="#e40f7f"/>
<circle cx="228.45" cy="735.70" r="0.88" fill="#ea0b74"/>
<circle cx="228.45" cy="737.15" r="0.88" fill="#ea0b74"/>
<circle cx="228.45" cy="738.60" r="0.88" fill="#ea0b74"/>
<circle cx="230.03" cy="737.15" r="0.88" fill="#f10769"/>
<circle cx="231.62" cy="735.70" r="0.88" fill="#f8045d"/>
<circle cx="231.62" cy="737.15" r="0.88" fill="#f8045d"/>
<circle cx="231.62" cy="738.60" r="0.88" fill="#f8045d"/>
<circle cx="233.20" cy="737.15" r="0.88" fill="#ff0052"/>
<circle cx="205.90" cy="753.65" r="0.88" fill="#008bfb"/>
<circle cx="207.62" cy="752.20" r="0.88" fill="#008bfb"/>
<circle cx="207.62" cy="753.65" r="0.88" fill="#008bfb"/>
<circle cx="207.62" cy="755.10" r="0.88" fill="#008bfb"/>
<circle cx="209.33" cy="752.20" r="0.88" fill="#008bfb"/>
<circle cx="209.33" cy="753.65" r="0.88" fill="#008bfb"/>
<circle cx="209.33" cy="755.10" r="0.88" fill="#008bfb"/>
<circle cx="211.05" cy="752.20" r="0.88" fill="#008bfb"/>
<circle cx="211.05" cy="753.65" r="0.88" fill="#008bfb"/>
<circle cx="211.05" cy="755.10" r="0.88" fill="#008bfb"/>
<circle cx="212.77" cy="752.20" r="0.88" fill="#008bfb"/>
<circle cx="212.77" cy="753.65" r="0.88" fill="#008bfb"/>
<circle cx="212.77" cy="755.10" r="0.88" fill="#008bfb"/>
<circle cx="214.48" cy="752.20" r="0.88" fill="#008bfb"/>
<circle cx="214.48" cy="753.65" r="0.88" fill="#008bfb"/>
<circle cx="214.48" cy="755.10" r="0.88" fill="#008bfb"/>
<circle cx="216.20" cy="753.65" r="0.88" fill="#008bfb"/>
<circle cx="216.80" cy="750.75" r="0.88" fill="#9634e2"/>
<circle cx="216.80" cy="752.20" r="0.88" fill="#9634e2"/>
<circle cx="216.80" cy="753.65" r="0.88" fill="#9634e2"/>
<circle cx="216.80" cy="755.10" r="0.88" fill="#9634e2"/>
<circle cx="216.80" cy="756.55" r="0.88" fill="#9634e2"/>
<circle cx="218.20" cy="749.30" r="0.88" fill="#9634e2"/>
<circle cx="218.20" cy="750.75" r="0.88" fill="#9634e2"/>
<circle cx="218.20" cy="752.20" r="0.88" fill="#9634e2"/>
<circle cx="218.20" cy="753.65" r="0.88" fill="#9634e2"/>
<circle cx="218.20" cy="755.10" r="0.88" fill="#9634e2"/>
<circle cx="218.20" cy="756.55" r="0.88" fill="#9634e2"/>
<circle cx="218.20" cy="758.00" r="0.88" fill="#9634e2"/>
<circle cx="219.60" cy="750.75" r="0.88" fill="#9634e2"/>
<circle cx="219.60" cy="752.20" r="0.88" fill="#9634e2"/>
<circle cx="219.60" cy="753.65" r="0.88" fill="#9634e2"/>
<circle cx="219.60" cy="755.10" r="0.88" fill="#9634e2"/>
<circle cx="219.60" cy="756.55" r="0.88" fill="#9634e2"/>
<circle cx="219.60" cy="753.65" r="0.88" fill="#d61696"/>
<circle cx="221.30" cy="753.65" r="0.88" fill="#dd128b"/>
<circle cx="223.00" cy="752.20" r="0.88" fill="#e40f7f"/>
<circle cx="223.00" cy="753.65" r="0.88" fill="#e40f7f"/>
<circle cx="223.00" cy="755.10" r="0.88" fill="#e40f7f"/>
<circle cx="224.70" cy="752.20" r="0.88" fill="#ea0b74"/>
<circle cx="224.70" cy="753.65" r="0.88" fill="#ea0b74"/>
<circle cx="224.70" cy="755.10" r="0.88" fill="#ea0b74"/>
<circle cx="226.40" cy="752.20" r="0.88" fill="#f10769"/>
<circle cx="226.40" cy="753.65" r="0.88" fill="#f10769"/>
<circle cx="226.40" cy="755.10" r="0.88" fill="#f10769"/>
<circle cx="228.10" cy="752.20" r="0.88" fill="#f8045d"/>
<circle cx="228.10" cy="753.65" r="0.88" fill="#f8045d"/>
<circle cx="228.10" cy="755.10" r="0.88" fill="#f8045d"/>
<circle cx="229.80" cy="752.20" r="0.88" fill="#ff0052"/>
<circle cx="229.80" cy="753.65" r="0.88" fill="#ff0052"/>
<circle cx="229.80" cy="755.10" r="0.88" fill="#ff0052"/>
<circle cx="206.60" cy="769.15" r="0.88" fill="#008bfb"/>
<circle cx="206.60" cy="770.60" r="0.88" fill="#008bfb"/>
<circle cx="206.60" cy="772.05" r="0.88" fill="#008bfb"/>
<circle cx="208.40" cy="769.15" r="0.88" fill="#008bfb"/>
<circle cx="208.40" cy="770.60" r="0.88" fill="#008bfb"/>
<circle cx="208.40" cy="772.05" r="0.88" fill="#008bfb"/>
<circle cx="210.20" cy="769.15" r="0.88" fill="#008bfb"/>
<circle cx="210.20" cy="770.60" r="0.88" fill="#008bfb"/>
<circle cx="210.20" cy="772.05" r="0.88" fill="#008bfb"/>
<circle cx="212.00" cy="769.15" r="0.88" fill="#008bfb"/>
<circle cx="212.00" cy="770.60" r="0.88" fill="#008bfb"/>
<circle cx="212.00" cy="772.05" r="0.88" fill="#008bfb"/>
<circle cx="215.50" cy="767.70" r="0.88" fill="#5a5af5"/>
<circle cx="215.50" cy="769.15" r="0.88" fill="#5a5af5"/>
<circle cx="215.50" cy="770.60" r="0.88" fill="#5a5af5"/>
<circle cx="215.50" cy="772.05" r="0.88" fill="#5a5af5"/>
<circle cx="215.50" cy="773.50" r="0.88" fill="#5a5af5"/>
<circle cx="217.20" cy="766.25" r="0.88" fill="#7847ec"/>
<circle cx="217.20" cy="767.70" r="0.88" fill="#7847ec"/>
<circle cx="217.20" cy="769.15" r="0.88" fill="#7847ec"/>
<circle cx="217.20" cy="770.60" r="0.88" fill="#7847ec"/>
<circle cx="217.20" cy="772.05" r="0.88" fill="#7847ec"/>
<circle cx="217.20" cy="773.50" r="0.88" fill="#7847ec"/>
<circle cx="217.20" cy="774.95" r="0.88" fill="#7847ec"/>
<circle cx="218.90" cy="767.70" r="0.88" fill="#9634e2"/>
<circle cx="218.90" cy="769.15" r="0.88" fill="#9634e2"/>
<circle cx="218.90" cy="770.60" r="0.88" fill="#9634e2"/>
<circle cx="218.90" cy="772.05" r="0.88" fill="#9634e2"/>
<circle cx="218.90" cy="773.50" r="0.88" fill="#9634e2"/>
<circle cx="218.90" cy="769.15" r="0.88" fill="#d61696"/>
<circle cx="218.90" cy="770.60" r="0.88" fill="#d61696"/>
<circle cx="218.90" cy="772.05" r="0.88" fill="#d61696"/>
<circle cx="220.60" cy="769.15" r="0.88" fill="#dd128b"/>
<circle cx="220.60" cy="770.60" r="0.88" fill="#dd128b"/>
<circle cx="220.60" cy="772.05" r="0.88" fill="#dd128b"/>
<circle cx="222.30" cy="769.15" r="0.88" fill="#e40f7f"/>
<circle cx="222.30" cy="770.60" r="0.88" fill="#e40f7f"/>
<circle cx="222.30" cy="772.05" r="0.88" fill="#e40f7f"/>
<circle cx="224.00" cy="770.60" r="0.88" fill="#ea0b74"/>
<circle cx="225.70" cy="769.15" r="0.88" fill="#f10769"/>
<circle cx="225.70" cy="770.60" r="0.88" fill="#f10769"/>
<circle cx="225.70" cy="772.05" r="0.88" fill="#f10769"/>
<circle cx="227.40" cy="770.60" r="0.88" fill="#f8045d"/>
<circle cx="229.10" cy="769.15" r="0.88" fill="#ff0052"/>
<circle cx="229.10" cy="770.60" r="0.88" fill="#ff0052"/>
<circle cx="229.10" cy="772.05" r="0.88" fill="#ff0052"/>
<circle cx="231.20" cy="770.60" r="0.88" fill="#ff0052"/>
<circle cx="233.40" cy="770.60" r="0.88" fill="#ff0052"/>
<circle cx="235.60" cy="770.60" r="0.88" fill="#ff0052"/>
<circle cx="237.80" cy="770.60" r="0.88" fill="#ff0052"/>
<circle cx="240.00" cy="770.60" r="0.88" fill="#ff0052"/>
<defs><linearGradient id="g2963" x1="0" y1="0" x2="0" y2="1"><stop offset="0" stop-color="#ff0052"/><stop offset="0.4" stop-color="#e01e8e"/><stop offset="0.65" stop-color="#9a48d8"/><stop offset="0.85" stop-color="#3f7af0"/><stop offset="1" stop-color="#008bfb"/></linearGradient></defs>
<rect x="255.10" y="687.30" width="1.4" height="100.00" fill="url(#g2963)"/>
<text x="258.40" y="689.75" font-size="5.41" stroke="#333" stroke-width="0.12" fill="#333" textLength="11.72" lengthAdjust="spacingAndGlyphs">High</text>
<text x="258.40" y="790.05" font-size="5.41" stroke="#333" stroke-width="0.12" fill="#333" textLength="10.04" lengthAdjust="spacingAndGlyphs">Low</text>
<text transform="translate(277.00,738.00) rotate(-90)" x="-21.51" y="0" font-size="6.68" stroke="#333" stroke-width="0.12" fill="#333" textLength="43.02" lengthAdjust="spacingAndGlyphs">Feature value</text>
<line x1="356.00" y1="687.90" x2="356.00" y2="787.60" stroke="#6b6b6b" stroke-width="0.7"/>
<line x1="356.00" y1="787.60" x2="439.00" y2="787.60" stroke="#6b6b6b" stroke-width="0.7"/>
<rect x="356.30" y="698.00" width="77.40" height="10.80" fill="#738899"/>
<rect x="356.30" y="714.60" width="40.40" height="11.00" fill="#738899"/>
<rect x="356.30" y="731.70" width="30.20" height="10.90" fill="#738899"/>
<rect x="356.30" y="748.00" width="23.70" height="11.10" fill="#738899"/>
<rect x="356.30" y="765.00" width="18.70" height="11.20" fill="#738899"/>
<text x="302.26" y="706.80" font-size="6.68" stroke="#333333" stroke-width="0.12" fill="#333333" textLength="50.44" lengthAdjust="spacingAndGlyphs">Mood_wellbeing</text>
<text x="307.94" y="723.50" font-size="6.68" stroke="#333333" stroke-width="0.12" fill="#333333" textLength="44.76" lengthAdjust="spacingAndGlyphs">Mood_anxious</text>
<text x="291.42" y="740.55" font-size="6.68" stroke="#333333" stroke-width="0.12" fill="#333333" textLength="61.28" lengthAdjust="spacingAndGlyphs">Breath_consistency</text>
<text x="294.42" y="756.95" font-size="6.68" stroke="#333333" stroke-width="0.12" fill="#333333" textLength="58.28" lengthAdjust="spacingAndGlyphs">Reflect_activetime</text>
<text x="314.51" y="774.00" font-size="6.68" stroke="#333333" stroke-width="0.12" fill="#333333" textLength="38.19" lengthAdjust="spacingAndGlyphs">time_of_day</text>
<line x1="356.00" y1="787.60" x2="356.00" y2="789.60" stroke="#6b6b6b" stroke-width="0.6"/>
<text x="351.79" y="795.52" font-size="5.62" stroke="#3a3a3a" stroke-width="0.1" fill="#3a3a3a" textLength="8.43" lengthAdjust="spacingAndGlyphs">0.0</text>
<line x1="382.40" y1="787.60" x2="382.40" y2="789.60" stroke="#6b6b6b" stroke-width="0.6"/>
<text x="378.19" y="795.52" font-size="5.62" stroke="#3a3a3a" stroke-width="0.1" fill="#3a3a3a" textLength="8.43" lengthAdjust="spacingAndGlyphs">0.2</text>
<line x1="408.80" y1="787.60" x2="408.80" y2="789.60" stroke="#6b6b6b" stroke-width="0.6"/>
<text x="404.59" y="795.52" font-size="5.62" stroke="#3a3a3a" stroke-width="0.1" fill="#3a3a3a" textLength="8.43" lengthAdjust="spacingAndGlyphs">0.4</text>
<line x1="435.20" y1="787.60" x2="435.20" y2="789.60" stroke="#6b6b6b" stroke-width="0.6"/>
<text x="430.99" y="795.52" font-size="5.62" stroke="#3a3a3a" stroke-width="0.1" fill="#3a3a3a" textLength="8.43" lengthAdjust="spacingAndGlyphs">0.6</text>
<text x="361.85" y="804.80" font-size="6.68" font-weight="bold" stroke="#111" stroke-width="0.2" fill="#111" textLength="70.71" lengthAdjust="spacingAndGlyphs">mean(|SHAP value|)</text>
<text x="417.40" y="686.63" font-size="10.92" font-weight="bold" stroke="#000" stroke-width="0.35" fill="#000" textLength="52.60" lengthAdjust="spacingAndGlyphs">Empathy</text>
<line x1="480.30" y1="686.60" x2="480.30" y2="787.60" stroke="#999999" stroke-width="0.8"/>
<line x1="453.30" y1="787.60" x2="516.90" y2="787.60" stroke="#6b6b6b" stroke-width="0.7"/>
<line x1="455.80" y1="787.60" x2="455.80" y2="789.60" stroke="#6b6b6b" stroke-width="0.6"/>
<text x="451.89" y="795.52" font-size="5.62" stroke="#3a3a3a" stroke-width="0.1" fill="#3a3a3a" textLength="7.81" lengthAdjust="spacingAndGlyphs">−1</text>
<line x1="480.30" y1="787.60" x2="480.30" y2="789.60" stroke="#6b6b6b" stroke-width="0.6"/>
<text x="478.61" y="795.52" font-size="5.62" stroke="#3a3a3a" stroke-width="0.1" fill="#3a3a3a" textLength="3.37" lengthAdjust="spacingAndGlyphs">0</text>
<line x1="504.70" y1="787.60" x2="504.70" y2="789.60" stroke="#6b6b6b" stroke-width="0.6"/>
<text x="503.01" y="795.52" font-size="5.62" stroke="#3a3a3a" stroke-width="0.1" fill="#3a3a3a" textLength="3.37" lengthAdjust="spacingAndGlyphs">1</text>
<text x="465.91" y="804.00" font-size="6.68" font-weight="bold" stroke="#111" stroke-width="0.2" fill="#111" textLength="40.77" lengthAdjust="spacingAndGlyphs">SHAP value</text>
<circle cx="456.10" cy="703.40" r="0.88" fill="#008bfb"/>
<circle cx="457.73" cy="703.40" r="0.88" fill="#008bfb"/>
<circle cx="459.36" cy="703.40" r="0.88" fill="#008bfb"/>
<circle cx="460.99" cy="703.40" r="0.88" fill="#008bfb"/>
<circle cx="462.62" cy="703.40" r="0.88" fill="#008bfb"/>
<circle cx="464.25" cy="703.40" r="0.88" fill="#008bfb"/>
<circle cx="465.88" cy="703.40" r="0.88" fill="#008bfb"/>
<circle cx="467.52" cy="703.40" r="0.88" fill="#008bfb"/>
<circle cx="469.15" cy="703.40" r="0.88" fill="#008bfb"/>
<circle cx="470.78" cy="703.40" r="0.88" fill="#008bfb"/>
<circle cx="472.41" cy="703.40" r="0.88" fill="#008bfb"/>
<circle cx="474.04" cy="703.40" r="0.88" fill="#008bfb"/>
<circle cx="475.67" cy="703.40" r="0.88" fill="#008bfb"/>
<circle cx="477.30" cy="703.40" r="0.88" fill="#008bfb"/>
<circle cx="458.20" cy="703.40" r="0.88" fill="#008bfb"/>
<circle cx="465.70" cy="703.40" r="0.88" fill="#008bfb"/>
<circle cx="467.75" cy="703.40" r="0.88" fill="#2d72f8"/>
<circle cx="469.80" cy="703.40" r="0.88" fill="#5a5af5"/>
<circle cx="471.85" cy="703.40" r="0.88" fill="#7847ec"/>
<circle cx="473.90" cy="703.40" r="0.88" fill="#9634e2"/>
<circle cx="467.00" cy="703.40" r="0.88" fill="#9634e2"/>
<circle cx="473.90" cy="703.40" r="0.88" fill="#9634e2"/>
<circle cx="477.30" cy="703.40" r="0.88" fill="#9634e2"/>
<circle cx="479.12" cy="703.40" r="0.88" fill="#ab2ac9"/>
<circle cx="480.93" cy="703.40" r="0.88" fill="#c120af"/>
<circle cx="482.75" cy="703.40" r="0.88" fill="#d61696"/>
<circle cx="484.57" cy="703.40" r="0.88" fill="#e40f7f"/>
<circle cx="486.38" cy="703.40" r="0.88" fill="#f10769"/>
<circle cx="488.20" cy="703.40" r="0.88" fill="#ff0052"/>
<circle cx="491.00" cy="703.40" r="0.88" fill="#ff0052"/>
<circle cx="493.02" cy="703.40" r="0.88" fill="#ff0052"/>
<circle cx="495.05" cy="703.40" r="0.88" fill="#ff0052"/>
<circle cx="497.08" cy="703.40" r="0.88" fill="#ff0052"/>
<circle cx="499.10" cy="703.40" r="0.88" fill="#ff0052"/>
<circle cx="502.50" cy="703.40" r="0.88" fill="#ff0052"/>
<circle cx="504.78" cy="703.40" r="0.88" fill="#ff0052"/>
<circle cx="507.07" cy="703.40" r="0.88" fill="#ff0052"/>
<circle cx="509.35" cy="703.40" r="0.88" fill="#ff0052"/>
<circle cx="511.63" cy="703.40" r="0.88" fill="#ff0052"/>
<circle cx="513.92" cy="703.40" r="0.88" fill="#ff0052"/>
<circle cx="516.20" cy="703.40" r="0.88" fill="#ff0052"/>
<circle cx="460.90" cy="720.10" r="0.88" fill="#ff0052"/>
<circle cx="463.07" cy="720.10" r="0.88" fill="#ff0052"/>
<circle cx="465.23" cy="718.65" r="0.88" fill="#ff0052"/>
<circle cx="465.23" cy="720.10" r="0.88" fill="#ff0052"/>
<circle cx="465.23" cy="721.55" r="0.88" fill="#ff0052"/>
<circle cx="467.40" cy="720.10" r="0.88" fill="#ff0052"/>
<circle cx="469.57" cy="718.65" r="0.88" fill="#ff0052"/>
<circle cx="469.57" cy="720.10" r="0.88" fill="#ff0052"/>
<circle cx="469.57" cy="721.55" r="0.88" fill="#ff0052"/>
<circle cx="471.73" cy="720.10" r="0.88" fill="#ff0052"/>
<circle cx="473.90" cy="720.10" r="0.88" fill="#ff0052"/>
<circle cx="476.60" cy="720.10" r="0.88" fill="#5a5af5"/>
<circle cx="478.43" cy="718.65" r="0.88" fill="#3c6af7"/>
<circle cx="478.43" cy="720.10" r="0.88" fill="#3c6af7"/>
<circle cx="478.43" cy="721.55" r="0.88" fill="#3c6af7"/>
<circle cx="480.27" cy="718.65" r="0.88" fill="#1e7bf9"/>
<circle cx="480.27" cy="720.10" r="0.88" fill="#1e7bf9"/>
<circle cx="480.27" cy="721.55" r="0.88" fill="#1e7bf9"/>
<circle cx="482.10" cy="720.10" r="0.88" fill="#008bfb"/>
<circle cx="482.10" cy="720.10" r="0.88" fill="#008bfb"/>
<circle cx="483.60" cy="718.65" r="0.88" fill="#008bfb"/>
<circle cx="483.60" cy="720.10" r="0.88" fill="#008bfb"/>
<circle cx="483.60" cy="721.55" r="0.88" fill="#008bfb"/>
<circle cx="485.10" cy="718.65" r="0.88" fill="#008bfb"/>
<circle cx="485.10" cy="720.10" r="0.88" fill="#008bfb"/>
<circle cx="485.10" cy="721.55" r="0.88" fill="#008bfb"/>
<circle cx="486.60" cy="715.75" r="0.88" fill="#008bfb"/>
<circle cx="486.60" cy="717.20" r="0.88" fill="#008bfb"/>
<circle cx="486.60" cy="718.65" r="0.88" fill="#008bfb"/>
<circle cx="486.60" cy="720.10" r="0.88" fill="#008bfb"/>
<circle cx="486.60" cy="721.55" r="0.88" fill="#008bfb"/>
<circle cx="486.60" cy="723.00" r="0.88" fill="#008bfb"/>
<circle cx="486.60" cy="724.45" r="0.88" fill="#008bfb"/>
<circle cx="488.10" cy="718.65" r="0.88" fill="#008bfb"/>
<circle cx="488.10" cy="720.10" r="0.88" fill="#008bfb"/>
<circle cx="488.10" cy="721.55" r="0.88" fill="#008bfb"/>
<circle cx="489.60" cy="720.10" r="0.88" fill="#008bfb"/>
<circle cx="486.00" cy="714.30" r="0.88" fill="#008bfb"/>
<circle cx="486.00" cy="715.75" r="0.88" fill="#008bfb"/>
<circle cx="486.00" cy="717.20" r="0.88" fill="#008bfb"/>
<circle cx="486.00" cy="718.65" r="0.88" fill="#008bfb"/>
<circle cx="486.00" cy="720.10" r="0.88" fill="#008bfb"/>
<circle cx="486.00" cy="721.55" r="0.88" fill="#008bfb"/>
<circle cx="486.00" cy="723.00" r="0.88" fill="#008bfb"/>
<circle cx="486.00" cy="724.45" r="0.88" fill="#008bfb"/>
<circle cx="486.00" cy="725.90" r="0.88" fill="#008bfb"/>
<circle cx="469.80" cy="737.15" r="0.88" fill="#ff0052"/>
<circle cx="471.35" cy="735.70" r="0.88" fill="#f0086b"/>
<circle cx="471.35" cy="737.15" r="0.88" fill="#f0086b"/>
<circle cx="471.35" cy="738.60" r="0.88" fill="#f0086b"/>
<circle cx="472.89" cy="735.70" r="0.88" fill="#e11083"/>
<circle cx="472.89" cy="737.15" r="0.88" fill="#e11083"/>
<circle cx="472.89" cy="738.60" r="0.88" fill="#e11083"/>
<circle cx="474.44" cy="734.25" r="0.88" fill="#d0199d"/>
<circle cx="474.44" cy="735.70" r="0.88" fill="#d0199d"/>
<circle cx="474.44" cy="737.15" r="0.88" fill="#d0199d"/>
<circle cx="474.44" cy="738.60" r="0.88" fill="#d0199d"/>
<circle cx="474.44" cy="740.05" r="0.88" fill="#d0199d"/>
<circle cx="475.98" cy="735.70" r="0.88" fill="#b924b9"/>
<circle cx="475.98" cy="737.15" r="0.88" fill="#b924b9"/>
<circle cx="475.98" cy="738.60" r="0.88" fill="#b924b9"/>
<circle cx="477.53" cy="734.25" r="0.88" fill="#a22fd4"/>
<circle cx="477.53" cy="735.70" r="0.88" fill="#a22fd4"/>
<circle cx="477.53" cy="737.15" r="0.88" fill="#a22fd4"/>
<circle cx="477.53" cy="738.60" r="0.88" fill="#a22fd4"/>
<circle cx="477.53" cy="740.05" r="0.88" fill="#a22fd4"/>
<circle cx="479.07" cy="734.25" r="0.88" fill="#a22fd4"/>
<circle cx="479.07" cy="735.70" r="0.88" fill="#a22fd4"/>
<circle cx="479.07" cy="737.15" r="0.88" fill="#a22fd4"/>
<circle cx="479.07" cy="738.60" r="0.88" fill="#a22fd4"/>
<circle cx="479.07" cy="740.05" r="0.88" fill="#a22fd4"/>
<circle cx="480.62" cy="735.70" r="0.88" fill="#b924b9"/>
<circle cx="480.62" cy="737.15" r="0.88" fill="#b924b9"/>
<circle cx="480.62" cy="738.60" r="0.88" fill="#b924b9"/>
<circle cx="482.16" cy="735.70" r="0.88" fill="#d0199d"/>
<circle cx="482.16" cy="737.15" r="0.88" fill="#d0199d"/>
<circle cx="482.16" cy="738.60" r="0.88" fill="#d0199d"/>
<circle cx="483.71" cy="734.25" r="0.88" fill="#e11083"/>
<circle cx="483.71" cy="735.70" r="0.88" fill="#e11083"/>
<circle cx="483.71" cy="737.15" r="0.88" fill="#e11083"/>
<circle cx="483.71" cy="738.60" r="0.88" fill="#e11083"/>
<circle cx="483.71" cy="740.05" r="0.88" fill="#e11083"/>
<circle cx="485.25" cy="735.70" r="0.88" fill="#f0086b"/>
<circle cx="485.25" cy="737.15" r="0.88" fill="#f0086b"/>
<circle cx="485.25" cy="738.60" r="0.88" fill="#f0086b"/>
<circle cx="486.80" cy="737.15" r="0.88" fill="#ff0052"/>
<circle cx="480.00" cy="732.80" r="0.88" fill="#d61696"/>
<circle cx="480.00" cy="734.25" r="0.88" fill="#d61696"/>
<circle cx="480.00" cy="735.70" r="0.88" fill="#d61696"/>
<circle cx="480.00" cy="737.15" r="0.88" fill="#d61696"/>
<circle cx="480.00" cy="738.60" r="0.88" fill="#d61696"/>
<circle cx="480.00" cy="740.05" r="0.88" fill="#d61696"/>
<circle cx="480.00" cy="741.50" r="0.88" fill="#d61696"/>
<circle cx="489.60" cy="737.15" r="0.88" fill="#008bfb"/>
<circle cx="494.30" cy="737.15" r="0.88" fill="#ff0052"/>
<circle cx="496.00" cy="737.15" r="0.88" fill="#ff0052"/>
<circle cx="497.70" cy="737.15" r="0.88" fill="#ff0052"/>
<circle cx="467.00" cy="753.55" r="0.88" fill="#9634e2"/>
<circle cx="468.75" cy="753.55" r="0.88" fill="#9634e2"/>
<circle cx="470.50" cy="753.55" r="0.88" fill="#9634e2"/>
<circle cx="474.60" cy="752.10" r="0.88" fill="#d61696"/>
<circle cx="474.60" cy="753.55" r="0.88" fill="#d61696"/>
<circle cx="474.60" cy="755.00" r="0.88" fill="#d61696"/>
<circle cx="476.12" cy="752.10" r="0.88" fill="#c61da9"/>
<circle cx="476.12" cy="753.55" r="0.88" fill="#c61da9"/>
<circle cx="476.12" cy="755.00" r="0.88" fill="#c61da9"/>
<circle cx="477.65" cy="752.10" r="0.88" fill="#b625bc"/>
<circle cx="477.65" cy="753.55" r="0.88" fill="#b625bc"/>
<circle cx="477.65" cy="755.00" r="0.88" fill="#b625bc"/>
<circle cx="479.18" cy="752.10" r="0.88" fill="#a62dcf"/>
<circle cx="479.18" cy="753.55" r="0.88" fill="#a62dcf"/>
<circle cx="479.18" cy="755.00" r="0.88" fill="#a62dcf"/>
<circle cx="480.70" cy="753.55" r="0.88" fill="#9634e2"/>
<circle cx="480.70" cy="753.55" r="0.88" fill="#5a5af5"/>
<circle cx="482.28" cy="753.55" r="0.88" fill="#4b62f6"/>
<circle cx="483.87" cy="752.10" r="0.88" fill="#3c6af7"/>
<circle cx="483.87" cy="753.55" r="0.88" fill="#3c6af7"/>
<circle cx="483.87" cy="755.00" r="0.88" fill="#3c6af7"/>
<circle cx="485.45" cy="752.10" r="0.88" fill="#2d72f8"/>
<circle cx="485.45" cy="753.55" r="0.88" fill="#2d72f8"/>
<circle cx="485.45" cy="755.00" r="0.88" fill="#2d72f8"/>
<circle cx="487.03" cy="753.55" r="0.88" fill="#1e7bf9"/>
<circle cx="488.62" cy="752.10" r="0.88" fill="#0f83fa"/>
<circle cx="488.62" cy="753.55" r="0.88" fill="#0f83fa"/>
<circle cx="488.62" cy="755.00" r="0.88" fill="#0f83fa"/>
<circle cx="490.20" cy="753.55" r="0.88" fill="#008bfb"/>
<circle cx="463.00" cy="770.60" r="0.88" fill="#ff0052"/>
<circle cx="467.70" cy="770.60" r="0.88" fill="#ff0052"/>
<circle cx="474.60" cy="770.60" r="0.88" fill="#008bfb"/>
<circle cx="476.17" cy="769.15" r="0.88" fill="#008bfb"/>
<circle cx="476.17" cy="770.60" r="0.88" fill="#008bfb"/>
<circle cx="476.17" cy="772.05" r="0.88" fill="#008bfb"/>
<circle cx="477.73" cy="769.15" r="0.88" fill="#008bfb"/>
<circle cx="477.73" cy="770.60" r="0.88" fill="#008bfb"/>
<circle cx="477.73" cy="772.05" r="0.88" fill="#008bfb"/>
<circle cx="479.30" cy="770.60" r="0.88" fill="#008bfb"/>
<circle cx="479.70" cy="767.70" r="0.88" fill="#ff0052"/>
<circle cx="479.70" cy="769.15" r="0.88" fill="#ff0052"/>
<circle cx="479.70" cy="770.60" r="0.88" fill="#ff0052"/>
<circle cx="479.70" cy="772.05" r="0.88" fill="#ff0052"/>
<circle cx="479.70" cy="773.50" r="0.88" fill="#ff0052"/>
<circle cx="481.10" cy="766.25" r="0.88" fill="#ff0052"/>
<circle cx="481.10" cy="767.70" r="0.88" fill="#ff0052"/>
<circle cx="481.10" cy="769.15" r="0.88" fill="#ff0052"/>
<circle cx="481.10" cy="770.60" r="0.88" fill="#ff0052"/>
<circle cx="481.10" cy="772.05" r="0.88" fill="#ff0052"/>
<circle cx="481.10" cy="773.50" r="0.88" fill="#ff0052"/>
<circle cx="481.10" cy="774.95" r="0.88" fill="#ff0052"/>
<circle cx="484.80" cy="769.15" r="0.88" fill="#ff0052"/>
<circle cx="484.80" cy="770.60" r="0.88" fill="#ff0052"/>
<circle cx="484.80" cy="772.05" r="0.88" fill="#ff0052"/>
<circle cx="486.60" cy="769.15" r="0.88" fill="#ff0052"/>
<circle cx="486.60" cy="770.60" r="0.88" fill="#ff0052"/>
<circle cx="486.60" cy="772.05" r="0.88" fill="#ff0052"/>
<circle cx="488.40" cy="769.15" r="0.88" fill="#ff0052"/>
<circle cx="488.40" cy="770.60" r="0.88" fill="#ff0052"/>
<circle cx="488.40" cy="772.05" r="0.88" fill="#ff0052"/>
<circle cx="490.20" cy="769.15" r="0.88" fill="#ff0052"/>
<circle cx="490.20" cy="770.60" r="0.88" fill="#ff0052"/>
<circle cx="490.20" cy="772.05" r="0.88" fill="#ff0052"/>
<defs><linearGradient id="g3200" x1="0" y1="0" x2="0" y2="1"><stop offset="0" stop-color="#ff0052"/><stop offset="0.4" stop-color="#e01e8e"/><stop offset="0.65" stop-color="#9a48d8"/><stop offset="0.85" stop-color="#3f7af0"/><stop offset="1" stop-color="#008bfb"/></linearGradient></defs>
<rect x="522.00" y="686.60" width="1.4" height="101.80" fill="url(#g3200)"/>
<text x="525.30" y="689.05" font-size="5.41" stroke="#333" stroke-width="0.12" fill="#333" textLength="11.72" lengthAdjust="spacingAndGlyphs">High</text>
<text x="525.30" y="791.15" font-size="5.41" stroke="#333" stroke-width="0.12" fill="#333" textLength="10.04" lengthAdjust="spacingAndGlyphs">Low</text>
<text transform="translate(543.40,739.50) rotate(-90)" x="-21.51" y="0" font-size="6.68" stroke="#333" stroke-width="0.12" fill="#333" textLength="43.02" lengthAdjust="spacingAndGlyphs">Feature value</text>
<circle cx="458.20" cy="700.10" r="0.88" fill="#008bfb"/>
<circle cx="465.70" cy="700.10" r="0.88" fill="#5a5af5"/>
<circle cx="467.75" cy="700.10" r="0.88" fill="#6950f0"/>
<circle cx="469.80" cy="700.10" r="0.88" fill="#7847ec"/>
<circle cx="471.85" cy="700.10" r="0.88" fill="#873ee7"/>
<circle cx="473.90" cy="700.10" r="0.88" fill="#9634e2"/>
<circle cx="484.10" cy="700.10" r="0.88" fill="#ff0052"/>
<circle cx="486.80" cy="700.10" r="0.88" fill="#ff0052"/>
<circle cx="495.70" cy="700.10" r="0.88" fill="#ff0052"/>
<circle cx="498.40" cy="700.10" r="0.88" fill="#ff0052"/>
<circle cx="503.20" cy="700.10" r="0.88" fill="#ff0052"/>
<circle cx="467.00" cy="706.70" r="0.88" fill="#9634e2"/>
<circle cx="473.90" cy="706.70" r="0.88" fill="#9634e2"/>
<circle cx="483.80" cy="706.70" r="0.88" fill="#ff0052"/>
<circle cx="503.20" cy="706.70" r="0.88" fill="#ff0052"/>
<line x1="91.70" y1="836.00" x2="91.70" y2="932.40" stroke="#6b6b6b" stroke-width="0.7"/>
<line x1="91.70" y1="932.40" x2="263.20" y2="932.40" stroke="#6b6b6b" stroke-width="0.7"/>
<rect x="92.00" y="837.60" width="162.00" height="15.70" fill="#738899"/>
<rect x="92.00" y="857.20" width="88.70" height="15.20" fill="#738899"/>
<rect x="92.00" y="876.80" width="80.20" height="15.20" fill="#738899"/>
<rect x="92.00" y="896.60" width="39.80" height="15.30" fill="#738899"/>
<rect x="92.00" y="916.20" width="37.80" height="14.80" fill="#738899"/>
<text x="42.77" y="848.74" font-size="6.36" stroke="#333333" stroke-width="0.12" fill="#333333" textLength="44.53" lengthAdjust="spacingAndGlyphs">Sleep_bedtime</text>
<text x="57.30" y="865.54" font-size="6.36" stroke="#333333" stroke-width="0.12" fill="#333333" textLength="30.00" lengthAdjust="spacingAndGlyphs">past_day_</text>
<text x="46.55" y="873.24" font-size="6.36" stroke="#333333" stroke-width="0.12" fill="#333333" textLength="40.75" lengthAdjust="spacingAndGlyphs">exercise_mild</text>
<text x="50.92" y="887.69" font-size="6.36" stroke="#333333" stroke-width="0.12" fill="#333333" textLength="36.38" lengthAdjust="spacingAndGlyphs">time_of_day</text>
<text x="31.79" y="907.54" font-size="6.36" stroke="#333333" stroke-width="0.12" fill="#333333" textLength="55.51" lengthAdjust="spacingAndGlyphs">Reflect_activetime</text>
<text x="36.31" y="926.89" font-size="6.36" stroke="#333333" stroke-width="0.12" fill="#333333" textLength="50.99" lengthAdjust="spacingAndGlyphs">Reflect_totaltime</text>
<line x1="91.80" y1="932.40" x2="91.80" y2="934.40" stroke="#6b6b6b" stroke-width="0.6"/>
<text x="85.22" y="942.16" font-size="4.88" stroke="#3a3a3a" stroke-width="0.1" fill="#3a3a3a" textLength="13.17" lengthAdjust="spacingAndGlyphs">0.000</text>
<line x1="119.50" y1="932.40" x2="119.50" y2="934.40" stroke="#6b6b6b" stroke-width="0.6"/>
<text x="112.92" y="942.16" font-size="4.88" stroke="#3a3a3a" stroke-width="0.1" fill="#3a3a3a" textLength="13.17" lengthAdjust="spacingAndGlyphs">0.005</text>
<line x1="147.20" y1="932.40" x2="147.20" y2="934.40" stroke="#6b6b6b" stroke-width="0.6"/>
<text x="140.62" y="942.16" font-size="4.88" stroke="#3a3a3a" stroke-width="0.1" fill="#3a3a3a" textLength="13.17" lengthAdjust="spacingAndGlyphs">0.010</text>
<line x1="174.90" y1="932.40" x2="174.90" y2="934.40" stroke="#6b6b6b" stroke-width="0.6"/>
<text x="168.32" y="942.16" font-size="4.88" stroke="#3a3a3a" stroke-width="0.1" fill="#3a3a3a" textLength="13.17" lengthAdjust="spacingAndGlyphs">0.015</text>
<line x1="202.60" y1="932.40" x2="202.60" y2="934.40" stroke="#6b6b6b" stroke-width="0.6"/>
<text x="196.02" y="942.16" font-size="4.88" stroke="#3a3a3a" stroke-width="0.1" fill="#3a3a3a" textLength="13.17" lengthAdjust="spacingAndGlyphs">0.020</text>
<line x1="230.30" y1="932.40" x2="230.30" y2="934.40" stroke="#6b6b6b" stroke-width="0.6"/>
<text x="223.72" y="942.16" font-size="4.88" stroke="#3a3a3a" stroke-width="0.1" fill="#3a3a3a" textLength="13.17" lengthAdjust="spacingAndGlyphs">0.025</text>
<line x1="258.00" y1="932.40" x2="258.00" y2="934.40" stroke="#6b6b6b" stroke-width="0.6"/>
<text x="251.42" y="942.16" font-size="4.88" stroke="#3a3a3a" stroke-width="0.1" fill="#3a3a3a" textLength="13.17" lengthAdjust="spacingAndGlyphs">0.030</text>
<text x="142.99" y="950.05" font-size="6.52" font-weight="bold" stroke="#111" stroke-width="0.2" fill="#111" textLength="69.02" lengthAdjust="spacingAndGlyphs">mean(|SHAP value|)</text>
<text x="146.20" y="827.83" font-size="10.92" font-weight="bold" stroke="#000" stroke-width="0.35" fill="#000" textLength="56.60" lengthAdjust="spacingAndGlyphs">Wellbeing</text>
<text transform="translate(19.54,885.80) rotate(-90)" x="-12.36" y="0" font-size="10.39" font-weight="bold" stroke="#000" stroke-width="0.3" fill="#000" textLength="24.72" lengthAdjust="spacingAndGlyphs">P-28</text>
<line x1="349.60" y1="828.00" x2="349.60" y2="931.00" stroke="#6b6b6b" stroke-width="0.7"/>
<line x1="349.60" y1="931.00" x2="432.90" y2="931.00" stroke="#6b6b6b" stroke-width="0.7"/>
<rect x="349.90" y="838.80" width="78.40" height="11.50" fill="#738899"/>
<rect x="349.90" y="855.90" width="49.90" height="11.40" fill="#738899"/>
<rect x="349.90" y="873.70" width="32.10" height="11.50" fill="#738899"/>
<rect x="349.90" y="891.00" width="29.00" height="11.50" fill="#738899"/>
<rect x="349.90" y="908.00" width="27.70" height="11.50" fill="#738899"/>
<text x="277.82" y="848.01" font-size="6.84" stroke="#333333" stroke-width="0.12" fill="#333333" textLength="67.18" lengthAdjust="spacingAndGlyphs">Exercise_satisfaction</text>
<text x="290.19" y="865.06" font-size="6.84" stroke="#333333" stroke-width="0.12" fill="#333333" textLength="54.81" lengthAdjust="spacingAndGlyphs">Reflect_totaltime</text>
<text x="299.18" y="882.91" font-size="6.84" stroke="#333333" stroke-width="0.12" fill="#333333" textLength="45.82" lengthAdjust="spacingAndGlyphs">Mood_anxious</text>
<text x="290.80" y="900.21" font-size="6.84" stroke="#333333" stroke-width="0.12" fill="#333333" textLength="54.20" lengthAdjust="spacingAndGlyphs">Mood_depressed</text>
<text x="293.36" y="917.21" font-size="6.84" stroke="#333333" stroke-width="0.12" fill="#333333" textLength="51.64" lengthAdjust="spacingAndGlyphs">Mood_wellbeing</text>
<line x1="349.60" y1="931.00" x2="349.60" y2="933.00" stroke="#6b6b6b" stroke-width="0.6"/>
<text x="345.39" y="939.82" font-size="5.62" stroke="#3a3a3a" stroke-width="0.1" fill="#3a3a3a" textLength="8.43" lengthAdjust="spacingAndGlyphs">0.0</text>
<line x1="372.20" y1="931.00" x2="372.20" y2="933.00" stroke="#6b6b6b" stroke-width="0.6"/>
<text x="367.99" y="939.82" font-size="5.62" stroke="#3a3a3a" stroke-width="0.1" fill="#3a3a3a" textLength="8.43" lengthAdjust="spacingAndGlyphs">0.2</text>
<line x1="394.80" y1="931.00" x2="394.80" y2="933.00" stroke="#6b6b6b" stroke-width="0.6"/>
<text x="390.59" y="939.82" font-size="5.62" stroke="#3a3a3a" stroke-width="0.1" fill="#3a3a3a" textLength="8.43" lengthAdjust="spacingAndGlyphs">0.4</text>
<line x1="417.40" y1="931.00" x2="417.40" y2="933.00" stroke="#6b6b6b" stroke-width="0.6"/>
<text x="413.19" y="939.82" font-size="5.62" stroke="#3a3a3a" stroke-width="0.1" fill="#3a3a3a" textLength="8.43" lengthAdjust="spacingAndGlyphs">0.6</text>
<text x="353.66" y="949.52" font-size="7.00" font-weight="bold" stroke="#111" stroke-width="0.2" fill="#111" textLength="74.07" lengthAdjust="spacingAndGlyphs">mean(|SHAP value|)</text>
<text x="411.80" y="827.33" font-size="10.92" font-weight="bold" stroke="#000" stroke-width="0.35" fill="#000" textLength="53.40" lengthAdjust="spacingAndGlyphs">Empathy</text>
<line x1="485.90" y1="827.40" x2="485.90" y2="931.00" stroke="#999999" stroke-width="0.8"/>
<line x1="448.70" y1="931.00" x2="514.30" y2="931.00" stroke="#6b6b6b" stroke-width="0.7"/>
<line x1="460.90" y1="931.00" x2="460.90" y2="933.00" stroke="#6b6b6b" stroke-width="0.6"/>
<text x="456.99" y="940.42" font-size="5.62" stroke="#3a3a3a" stroke-width="0.1" fill="#3a3a3a" textLength="7.81" lengthAdjust="spacingAndGlyphs">−1</text>
<line x1="485.90" y1="931.00" x2="485.90" y2="933.00" stroke="#6b6b6b" stroke-width="0.6"/>
<text x="484.21" y="940.42" font-size="5.62" stroke="#3a3a3a" stroke-width="0.1" fill="#3a3a3a" textLength="3.37" lengthAdjust="spacingAndGlyphs">0</text>
<line x1="510.50" y1="931.00" x2="510.50" y2="933.00" stroke="#6b6b6b" stroke-width="0.6"/>
<text x="508.81" y="940.42" font-size="5.62" stroke="#3a3a3a" stroke-width="0.1" fill="#3a3a3a" textLength="3.37" lengthAdjust="spacingAndGlyphs">1</text>
<text x="460.97" y="949.48" font-size="6.89" font-weight="bold" stroke="#111" stroke-width="0.2" fill="#111" textLength="42.07" lengthAdjust="spacingAndGlyphs">SHAP value</text>
<circle cx="451.80" cy="844.55" r="0.88" fill="#ff0052"/>
<circle cx="455.20" cy="844.55" r="0.88" fill="#ff0052"/>
<circle cx="457.25" cy="844.55" r="0.88" fill="#f8045d"/>
<circle cx="459.30" cy="844.55" r="0.88" fill="#f10769"/>
<circle cx="461.35" cy="843.10" r="0.88" fill="#ea0b74"/>
<circle cx="461.35" cy="844.55" r="0.88" fill="#ea0b74"/>
<circle cx="461.35" cy="846.00" r="0.88" fill="#ea0b74"/>
<circle cx="463.40" cy="843.10" r="0.88" fill="#e40f7f"/>
<circle cx="463.40" cy="844.55" r="0.88" fill="#e40f7f"/>
<circle cx="463.40" cy="846.00" r="0.88" fill="#e40f7f"/>
<circle cx="465.45" cy="844.55" r="0.88" fill="#dd128b"/>
<circle cx="467.50" cy="844.55" r="0.88" fill="#d61696"/>
<circle cx="470.90" cy="844.55" r="0.88" fill="#9634e2"/>
<circle cx="472.45" cy="841.65" r="0.88" fill="#a62ccf"/>
<circle cx="472.45" cy="843.10" r="0.88" fill="#a62ccf"/>
<circle cx="472.45" cy="844.55" r="0.88" fill="#a62ccf"/>
<circle cx="472.45" cy="846.00" r="0.88" fill="#a62ccf"/>
<circle cx="472.45" cy="847.45" r="0.88" fill="#a62ccf"/>
<circle cx="474.00" cy="843.10" r="0.88" fill="#b625bc"/>
<circle cx="474.00" cy="844.55" r="0.88" fill="#b625bc"/>
<circle cx="474.00" cy="846.00" r="0.88" fill="#b625bc"/>
<circle cx="475.55" cy="843.10" r="0.88" fill="#c61ea9"/>
<circle cx="475.55" cy="844.55" r="0.88" fill="#c61ea9"/>
<circle cx="475.55" cy="846.00" r="0.88" fill="#c61ea9"/>
<circle cx="477.10" cy="843.10" r="0.88" fill="#d61696"/>
<circle cx="477.10" cy="844.55" r="0.88" fill="#d61696"/>
<circle cx="477.10" cy="846.00" r="0.88" fill="#d61696"/>
<circle cx="486.60" cy="844.55" r="0.88" fill="#008bfb"/>
<circle cx="489.35" cy="844.55" r="0.88" fill="#008bfb"/>
<circle cx="492.10" cy="844.55" r="0.88" fill="#008bfb"/>
<circle cx="496.80" cy="844.55" r="0.88" fill="#008bfb"/>
<circle cx="500.90" cy="843.10" r="0.88" fill="#008bfb"/>
<circle cx="500.90" cy="844.55" r="0.88" fill="#008bfb"/>
<circle cx="500.90" cy="846.00" r="0.88" fill="#008bfb"/>
<circle cx="502.44" cy="843.10" r="0.88" fill="#008bfb"/>
<circle cx="502.44" cy="844.55" r="0.88" fill="#008bfb"/>
<circle cx="502.44" cy="846.00" r="0.88" fill="#008bfb"/>
<circle cx="503.98" cy="841.65" r="0.88" fill="#008bfb"/>
<circle cx="503.98" cy="843.10" r="0.88" fill="#008bfb"/>
<circle cx="503.98" cy="844.55" r="0.88" fill="#008bfb"/>
<circle cx="503.98" cy="846.00" r="0.88" fill="#008bfb"/>
<circle cx="503.98" cy="847.45" r="0.88" fill="#008bfb"/>
<circle cx="505.51" cy="841.65" r="0.88" fill="#008bfb"/>
<circle cx="505.51" cy="843.10" r="0.88" fill="#008bfb"/>
<circle cx="505.51" cy="844.55" r="0.88" fill="#008bfb"/>
<circle cx="505.51" cy="846.00" r="0.88" fill="#008bfb"/>
<circle cx="505.51" cy="847.45" r="0.88" fill="#008bfb"/>
<circle cx="507.05" cy="843.10" r="0.88" fill="#008bfb"/>
<circle cx="507.05" cy="844.55" r="0.88" fill="#008bfb"/>
<circle cx="507.05" cy="846.00" r="0.88" fill="#008bfb"/>
<circle cx="508.59" cy="841.65" r="0.88" fill="#008bfb"/>
<circle cx="508.59" cy="843.10" r="0.88" fill="#008bfb"/>
<circle cx="508.59" cy="844.55" r="0.88" fill="#008bfb"/>
<circle cx="508.59" cy="846.00" r="0.88" fill="#008bfb"/>
<circle cx="508.59" cy="847.45" r="0.88" fill="#008bfb"/>
<circle cx="510.12" cy="843.10" r="0.88" fill="#008bfb"/>
<circle cx="510.12" cy="844.55" r="0.88" fill="#008bfb"/>
<circle cx="510.12" cy="846.00" r="0.88" fill="#008bfb"/>
<circle cx="511.66" cy="843.10" r="0.88" fill="#008bfb"/>
<circle cx="511.66" cy="844.55" r="0.88" fill="#008bfb"/>
<circle cx="511.66" cy="846.00" r="0.88" fill="#008bfb"/>
<circle cx="513.20" cy="844.55" r="0.88" fill="#008bfb"/>
<circle cx="503.00" cy="840.20" r="0.88" fill="#008bfb"/>
<circle cx="503.00" cy="841.65" r="0.88" fill="#008bfb"/>
<circle cx="503.00" cy="843.10" r="0.88" fill="#008bfb"/>
<circle cx="503.00" cy="844.55" r="0.88" fill="#008bfb"/>
<circle cx="503.00" cy="846.00" r="0.88" fill="#008bfb"/>
<circle cx="503.00" cy="847.45" r="0.88" fill="#008bfb"/>
<circle cx="503.00" cy="848.90" r="0.88" fill="#008bfb"/>
<circle cx="460.00" cy="860.15" r="0.88" fill="#d61696"/>
<circle cx="460.00" cy="861.60" r="0.88" fill="#d61696"/>
<circle cx="460.00" cy="863.05" r="0.88" fill="#d61696"/>
<circle cx="461.67" cy="860.15" r="0.88" fill="#e40f7f"/>
<circle cx="461.67" cy="861.60" r="0.88" fill="#e40f7f"/>
<circle cx="461.67" cy="863.05" r="0.88" fill="#e40f7f"/>
<circle cx="463.33" cy="860.15" r="0.88" fill="#f10769"/>
<circle cx="463.33" cy="861.60" r="0.88" fill="#f10769"/>
<circle cx="463.33" cy="863.05" r="0.88" fill="#f10769"/>
<circle cx="465.00" cy="860.15" r="0.88" fill="#ff0052"/>
<circle cx="465.00" cy="861.60" r="0.88" fill="#ff0052"/>
<circle cx="465.00" cy="863.05" r="0.88" fill="#ff0052"/>
<circle cx="466.67" cy="861.60" r="0.88" fill="#f10769"/>
<circle cx="468.33" cy="861.60" r="0.88" fill="#e40f7f"/>
<circle cx="470.00" cy="860.15" r="0.88" fill="#d61696"/>
<circle cx="470.00" cy="861.60" r="0.88" fill="#d61696"/>
<circle cx="470.00" cy="863.05" r="0.88" fill="#d61696"/>
<circle cx="471.67" cy="860.15" r="0.88" fill="#e40f7f"/>
<circle cx="471.67" cy="861.60" r="0.88" fill="#e40f7f"/>
<circle cx="471.67" cy="863.05" r="0.88" fill="#e40f7f"/>
<circle cx="473.33" cy="860.15" r="0.88" fill="#f10769"/>
<circle cx="473.33" cy="861.60" r="0.88" fill="#f10769"/>
<circle cx="473.33" cy="863.05" r="0.88" fill="#f10769"/>
<circle cx="475.00" cy="861.60" r="0.88" fill="#ff0052"/>
<circle cx="481.20" cy="860.15" r="0.88" fill="#008bfb"/>
<circle cx="481.20" cy="861.60" r="0.88" fill="#008bfb"/>
<circle cx="481.20" cy="863.05" r="0.88" fill="#008bfb"/>
<circle cx="485.90" cy="861.60" r="0.88" fill="#008bfb"/>
<circle cx="487.52" cy="860.15" r="0.88" fill="#167ffa"/>
<circle cx="487.52" cy="861.60" r="0.88" fill="#167ffa"/>
<circle cx="487.52" cy="863.05" r="0.88" fill="#167ffa"/>
<circle cx="489.15" cy="860.15" r="0.88" fill="#2d72f8"/>
<circle cx="489.15" cy="861.60" r="0.88" fill="#2d72f8"/>
<circle cx="489.15" cy="863.05" r="0.88" fill="#2d72f8"/>
<circle cx="490.77" cy="858.70" r="0.88" fill="#4466f6"/>
<circle cx="490.77" cy="860.15" r="0.88" fill="#4466f6"/>
<circle cx="490.77" cy="861.60" r="0.88" fill="#4466f6"/>
<circle cx="490.77" cy="863.05" r="0.88" fill="#4466f6"/>
<circle cx="490.77" cy="864.50" r="0.88" fill="#4466f6"/>
<circle cx="492.40" cy="860.15" r="0.88" fill="#5a5af5"/>
<circle cx="492.40" cy="861.60" r="0.88" fill="#5a5af5"/>
<circle cx="492.40" cy="863.05" r="0.88" fill="#5a5af5"/>
<circle cx="494.02" cy="858.70" r="0.88" fill="#4466f6"/>
<circle cx="494.02" cy="860.15" r="0.88" fill="#4466f6"/>
<circle cx="494.02" cy="861.60" r="0.88" fill="#4466f6"/>
<circle cx="494.02" cy="863.05" r="0.88" fill="#4466f6"/>
<circle cx="494.02" cy="864.50" r="0.88" fill="#4466f6"/>
<circle cx="495.65" cy="860.15" r="0.88" fill="#2d72f8"/>
<circle cx="495.65" cy="861.60" r="0.88" fill="#2d72f8"/>
<circle cx="495.65" cy="863.05" r="0.88" fill="#2d72f8"/>
<circle cx="497.27" cy="860.15" r="0.88" fill="#167ffa"/>
<circle cx="497.27" cy="861.60" r="0.88" fill="#167ffa"/>
<circle cx="497.27" cy="863.05" r="0.88" fill="#167ffa"/>
<circle cx="498.90" cy="860.15" r="0.88" fill="#008bfb"/>
<circle cx="498.90" cy="861.60" r="0.88" fill="#008bfb"/>
<circle cx="498.90" cy="863.05" r="0.88" fill="#008bfb"/>
<circle cx="489.00" cy="857.25" r="0.88" fill="#008bfb"/>
<circle cx="489.00" cy="858.70" r="0.88" fill="#008bfb"/>
<circle cx="489.00" cy="860.15" r="0.88" fill="#008bfb"/>
<circle cx="489.00" cy="861.60" r="0.88" fill="#008bfb"/>
<circle cx="489.00" cy="863.05" r="0.88" fill="#008bfb"/>
<circle cx="489.00" cy="864.50" r="0.88" fill="#008bfb"/>
<circle cx="489.00" cy="865.95" r="0.88" fill="#008bfb"/>
<circle cx="466.80" cy="879.45" r="0.88" fill="#ff0052"/>
<circle cx="469.20" cy="879.45" r="0.88" fill="#ff0052"/>
<circle cx="471.60" cy="879.45" r="0.88" fill="#ff0052"/>
<circle cx="474.30" cy="879.45" r="0.88" fill="#ff0052"/>
<circle cx="475.84" cy="879.45" r="0.88" fill="#f10769"/>
<circle cx="477.38" cy="879.45" r="0.88" fill="#e40f7f"/>
<circle cx="478.93" cy="879.45" r="0.88" fill="#d61696"/>
<circle cx="480.47" cy="878.00" r="0.88" fill="#e40f7f"/>
<circle cx="480.47" cy="879.45" r="0.88" fill="#e40f7f"/>
<circle cx="480.47" cy="880.90" r="0.88" fill="#e40f7f"/>
<circle cx="482.01" cy="879.45" r="0.88" fill="#f10769"/>
<circle cx="483.55" cy="879.45" r="0.88" fill="#ff0052"/>
<circle cx="485.09" cy="878.00" r="0.88" fill="#f10769"/>
<circle cx="485.09" cy="879.45" r="0.88" fill="#f10769"/>
<circle cx="485.09" cy="880.90" r="0.88" fill="#f10769"/>
<circle cx="486.63" cy="879.45" r="0.88" fill="#e40f7f"/>
<circle cx="488.18" cy="879.45" r="0.88" fill="#d61696"/>
<circle cx="489.72" cy="879.45" r="0.88" fill="#c120af"/>
<circle cx="491.26" cy="878.00" r="0.88" fill="#ab2ac9"/>
<circle cx="491.26" cy="879.45" r="0.88" fill="#ab2ac9"/>
<circle cx="491.26" cy="880.90" r="0.88" fill="#ab2ac9"/>
<circle cx="492.80" cy="879.45" r="0.88" fill="#9634e2"/>
<circle cx="492.80" cy="878.00" r="0.88" fill="#9634e2"/>
<circle cx="492.80" cy="879.45" r="0.88" fill="#9634e2"/>
<circle cx="492.80" cy="880.90" r="0.88" fill="#9634e2"/>
<circle cx="494.74" cy="878.00" r="0.88" fill="#853fe7"/>
<circle cx="494.74" cy="879.45" r="0.88" fill="#853fe7"/>
<circle cx="494.74" cy="880.90" r="0.88" fill="#853fe7"/>
<circle cx="496.69" cy="878.00" r="0.88" fill="#744aed"/>
<circle cx="496.69" cy="879.45" r="0.88" fill="#744aed"/>
<circle cx="496.69" cy="880.90" r="0.88" fill="#744aed"/>
<circle cx="498.63" cy="879.45" r="0.88" fill="#6355f2"/>
<circle cx="500.57" cy="879.45" r="0.88" fill="#4d61f6"/>
<circle cx="502.51" cy="879.45" r="0.88" fill="#336ff8"/>
<circle cx="504.46" cy="879.45" r="0.88" fill="#1a7df9"/>
<circle cx="506.40" cy="879.45" r="0.88" fill="#008bfb"/>
<circle cx="505.00" cy="876.55" r="0.88" fill="#008bfb"/>
<circle cx="505.00" cy="878.00" r="0.88" fill="#008bfb"/>
<circle cx="505.00" cy="879.45" r="0.88" fill="#008bfb"/>
<circle cx="505.00" cy="880.90" r="0.88" fill="#008bfb"/>
<circle cx="505.00" cy="882.35" r="0.88" fill="#008bfb"/>
<circle cx="476.40" cy="895.30" r="0.88" fill="#ff0052"/>
<circle cx="476.40" cy="896.75" r="0.88" fill="#ff0052"/>
<circle cx="476.40" cy="898.20" r="0.88" fill="#ff0052"/>
<circle cx="478.04" cy="895.30" r="0.88" fill="#ef096d"/>
<circle cx="478.04" cy="896.75" r="0.88" fill="#ef096d"/>
<circle cx="478.04" cy="898.20" r="0.88" fill="#ef096d"/>
<circle cx="479.68" cy="895.30" r="0.88" fill="#de1288"/>
<circle cx="479.68" cy="896.75" r="0.88" fill="#de1288"/>
<circle cx="479.68" cy="898.20" r="0.88" fill="#de1288"/>
<circle cx="481.32" cy="893.85" r="0.88" fill="#c91ca5"/>
<circle cx="481.32" cy="895.30" r="0.88" fill="#c91ca5"/>
<circle cx="481.32" cy="896.75" r="0.88" fill="#c91ca5"/>
<circle cx="481.32" cy="898.20" r="0.88" fill="#c91ca5"/>
<circle cx="481.32" cy="899.65" r="0.88" fill="#c91ca5"/>
<circle cx="482.96" cy="893.85" r="0.88" fill="#b028c4"/>
<circle cx="482.96" cy="895.30" r="0.88" fill="#b028c4"/>
<circle cx="482.96" cy="896.75" r="0.88" fill="#b028c4"/>
<circle cx="482.96" cy="898.20" r="0.88" fill="#b028c4"/>
<circle cx="482.96" cy="899.65" r="0.88" fill="#b028c4"/>
<circle cx="484.60" cy="895.30" r="0.88" fill="#9634e2"/>
<circle cx="484.60" cy="896.75" r="0.88" fill="#9634e2"/>
<circle cx="484.60" cy="898.20" r="0.88" fill="#9634e2"/>
<circle cx="484.60" cy="895.30" r="0.88" fill="#9634e2"/>
<circle cx="484.60" cy="896.75" r="0.88" fill="#9634e2"/>
<circle cx="484.60" cy="898.20" r="0.88" fill="#9634e2"/>
<circle cx="486.40" cy="895.30" r="0.88" fill="#8241e8"/>
<circle cx="486.40" cy="896.75" r="0.88" fill="#8241e8"/>
<circle cx="486.40" cy="898.20" r="0.88" fill="#8241e8"/>
<circle cx="488.20" cy="895.30" r="0.88" fill="#6e4def"/>
<circle cx="488.20" cy="896.75" r="0.88" fill="#6e4def"/>
<circle cx="488.20" cy="898.20" r="0.88" fill="#6e4def"/>
<circle cx="490.00" cy="895.30" r="0.88" fill="#5a5af5"/>
<circle cx="490.00" cy="896.75" r="0.88" fill="#5a5af5"/>
<circle cx="490.00" cy="898.20" r="0.88" fill="#5a5af5"/>
<circle cx="495.50" cy="895.30" r="0.88" fill="#008bfb"/>
<circle cx="495.50" cy="896.75" r="0.88" fill="#008bfb"/>
<circle cx="495.50" cy="898.20" r="0.88" fill="#008bfb"/>
<circle cx="497.50" cy="895.30" r="0.88" fill="#008bfb"/>
<circle cx="497.50" cy="896.75" r="0.88" fill="#008bfb"/>
<circle cx="497.50" cy="898.20" r="0.88" fill="#008bfb"/>
<circle cx="507.00" cy="895.30" r="0.88" fill="#008bfb"/>
<circle cx="507.00" cy="896.75" r="0.88" fill="#008bfb"/>
<circle cx="507.00" cy="898.20" r="0.88" fill="#008bfb"/>
<circle cx="508.40" cy="895.30" r="0.88" fill="#008bfb"/>
<circle cx="508.40" cy="896.75" r="0.88" fill="#008bfb"/>
<circle cx="508.40" cy="898.20" r="0.88" fill="#008bfb"/>
<circle cx="467.50" cy="913.75" r="0.88" fill="#008bfb"/>
<circle cx="469.54" cy="913.75" r="0.88" fill="#008bfb"/>
<circle cx="471.58" cy="913.75" r="0.88" fill="#008bfb"/>
<circle cx="473.62" cy="913.75" r="0.88" fill="#008bfb"/>
<circle cx="475.66" cy="913.75" r="0.88" fill="#008bfb"/>
<circle cx="477.70" cy="913.75" r="0.88" fill="#008bfb"/>
<circle cx="479.80" cy="910.85" r="0.88" fill="#008bfb"/>
<circle cx="479.80" cy="912.30" r="0.88" fill="#008bfb"/>
<circle cx="479.80" cy="913.75" r="0.88" fill="#008bfb"/>
<circle cx="479.80" cy="915.20" r="0.88" fill="#008bfb"/>
<circle cx="479.80" cy="916.65" r="0.88" fill="#008bfb"/>
<circle cx="481.80" cy="910.85" r="0.88" fill="#008bfb"/>
<circle cx="481.80" cy="912.30" r="0.88" fill="#008bfb"/>
<circle cx="481.80" cy="913.75" r="0.88" fill="#008bfb"/>
<circle cx="481.80" cy="915.20" r="0.88" fill="#008bfb"/>
<circle cx="481.80" cy="916.65" r="0.88" fill="#008bfb"/>
<circle cx="482.50" cy="912.30" r="0.88" fill="#5a5af5"/>
<circle cx="482.50" cy="913.75" r="0.88" fill="#5a5af5"/>
<circle cx="482.50" cy="915.20" r="0.88" fill="#5a5af5"/>
<circle cx="484.05" cy="912.30" r="0.88" fill="#6950f0"/>
<circle cx="484.05" cy="913.75" r="0.88" fill="#6950f0"/>
<circle cx="484.05" cy="915.20" r="0.88" fill="#6950f0"/>
<circle cx="485.60" cy="913.75" r="0.88" fill="#7847eb"/>
<circle cx="487.15" cy="912.30" r="0.88" fill="#873ee7"/>
<circle cx="487.15" cy="913.75" r="0.88" fill="#873ee7"/>
<circle cx="487.15" cy="915.20" r="0.88" fill="#873ee7"/>
<circle cx="488.70" cy="913.75" r="0.88" fill="#9634e2"/>
<circle cx="490.00" cy="912.30" r="0.88" fill="#ff0052"/>
<circle cx="490.00" cy="913.75" r="0.88" fill="#ff0052"/>
<circle cx="490.00" cy="915.20" r="0.88" fill="#ff0052"/>
<circle cx="491.55" cy="912.30" r="0.88" fill="#ea0b74"/>
<circle cx="491.55" cy="913.75" r="0.88" fill="#ea0b74"/>
<circle cx="491.55" cy="915.20" r="0.88" fill="#ea0b74"/>
<circle cx="493.10" cy="912.30" r="0.88" fill="#d61696"/>
<circle cx="493.10" cy="913.75" r="0.88" fill="#d61696"/>
<circle cx="493.10" cy="915.20" r="0.88" fill="#d61696"/>
<circle cx="494.65" cy="910.85" r="0.88" fill="#ea0b74"/>
<circle cx="494.65" cy="912.30" r="0.88" fill="#ea0b74"/>
<circle cx="494.65" cy="913.75" r="0.88" fill="#ea0b74"/>
<circle cx="494.65" cy="915.20" r="0.88" fill="#ea0b74"/>
<circle cx="494.65" cy="916.65" r="0.88" fill="#ea0b74"/>
<circle cx="496.20" cy="912.30" r="0.88" fill="#ff0052"/>
<circle cx="496.20" cy="913.75" r="0.88" fill="#ff0052"/>
<circle cx="496.20" cy="915.20" r="0.88" fill="#ff0052"/>
<circle cx="500.90" cy="913.75" r="0.88" fill="#ff0052"/>
<defs><linearGradient id="g3545" x1="0" y1="0" x2="0" y2="1"><stop offset="0" stop-color="#ff0052"/><stop offset="0.4" stop-color="#e01e8e"/><stop offset="0.65" stop-color="#9a48d8"/><stop offset="0.85" stop-color="#3f7af0"/><stop offset="1" stop-color="#008bfb"/></linearGradient></defs>
<rect x="520.00" y="827.40" width="1.4" height="103.60" fill="url(#g3545)"/>
<text x="523.30" y="829.85" font-size="5.41" stroke="#333" stroke-width="0.12" fill="#333" textLength="11.72" lengthAdjust="spacingAndGlyphs">High</text>
<text x="523.30" y="933.75" font-size="5.41" stroke="#333" stroke-width="0.12" fill="#333" textLength="10.04" lengthAdjust="spacingAndGlyphs">Low</text>
<text transform="translate(542.20,881.50) rotate(-90)" x="-21.51" y="0" font-size="6.68" stroke="#333" stroke-width="0.12" fill="#333" textLength="43.02" lengthAdjust="spacingAndGlyphs">Feature value</text>
<circle cx="477.00" cy="876.45" r="0.88" fill="#ff0052"/>
<circle cx="479.14" cy="876.45" r="0.88" fill="#f9035c"/>
<circle cx="481.29" cy="876.45" r="0.88" fill="#f30665"/>
<circle cx="483.43" cy="876.45" r="0.88" fill="#ed096f"/>
<circle cx="485.57" cy="876.45" r="0.88" fill="#e80d79"/>
<circle cx="487.71" cy="876.45" r="0.88" fill="#e21083"/>
<circle cx="489.86" cy="876.45" r="0.88" fill="#dc138c"/>
<circle cx="492.00" cy="876.45" r="0.88" fill="#d61696"/>
</svg></body></html>
